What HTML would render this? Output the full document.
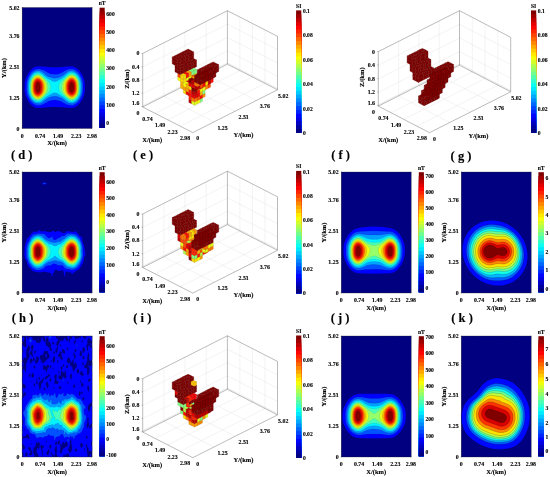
<!DOCTYPE html>
<html><head><meta charset="utf-8"><title>figure</title><style>html,body{margin:0;padding:0;background:#fff}svg{display:block}text{stroke:#000;stroke-width:.12px}</style></head><body>
<svg width="550" height="477" viewBox="0 0 550 477" font-family="'Liberation Serif',serif" font-weight="bold" fill="#000">
<rect width="550" height="477" fill="#fff"/>
<g transform="translate(22.1,7.5)">
<rect x="0" y="0" width="70.0" height="121.0" fill="#000080"/>
<path d="M14.1 59.0 15.5 58.8 18 58.8 27 59.6 33 59.8 39 59.6 47 58.8 50 58.8 51 59.0 52 59.2 53.5 59.9 55.5 61.3 57.2 63.0 58.8 65.0 60.3 67.5 61.4 70.0 62.2 72.5 62.7 75.0 62.9 77.5 62.9 82.0 62.6 85.0 62.1 87.5 61.2 90.0 59.7 93.0 58.3 95.0 56.5 97.2 54.5 98.9 53 99.8 52 100.2 51 100.4 49.5 100.6 47.5 100.6 38.5 99.8 32.5 99.6 26.5 99.8 18 100.6 15 100.6 13.5 100.2 12.5 99.9 11.5 99.3 10 98.3 8.2 96.5 6.6 94.5 5.1 92.0 3.7 89.0 3.1 87.0 2.6 84.5 2.4 81.5 2.5 77.0 2.7 74.0 3.3 71.5 4.3 69.0 5.6 66.5 7.3 64.0 9 62.0 10.5 60.8 12 59.8 13 59.3 14 59.0Z" fill="#0000ff" stroke="#000" stroke-opacity="0.4" stroke-width="0.2" fill-rule="evenodd"/>
<path d="M13.3 62.0 14.5 61.7 16 61.5 17.5 61.6 19 61.9 20 62.2 21.5 62.8 25.5 65.1 27.4 66.0 29.5 66.6 32 66.8 33.5 66.8 35 66.7 37.5 66.1 39.5 65.3 43 63.2 44.5 62.5 46.5 61.8 48 61.6 50 61.5 51.5 61.8 52.5 62.2 53.5 62.7 55.1 64.0 56 64.8 57 66.0 58.3 68.0 59.3 70.0 60.2 72.5 60.6 74.5 60.9 77.0 60.9 80.5 60.8 83.5 60.4 86.0 59.8 88.0 59 90.0 57.9 92.0 56.5 94.0 55 95.5 53.5 96.6 52 97.4 51 97.7 49.5 97.9 47.5 97.8 46 97.4 43.6 96.5 40 94.4 38.1 93.5 36 92.9 33.5 92.6 32 92.6 30.5 92.7 29 93.0 27.5 93.4 26 94.0 22.6 96.0 21 96.8 19.5 97.4 17.5 97.8 15.5 97.9 14.5 97.7 13.5 97.5 12 96.8 11 96.1 10 95.3 8.4 93.5 7.1 91.5 5.8 89.0 5.1 87.0 4.7 85.0 4.4 82.5 4.4 78.5 4.6 75.5 4.9 73.5 5.4 71.5 6.2 69.5 7.6 67.0 8.7 65.5 10 64.1 11.5 62.9 13 62.1Z" fill="#0051ff" stroke="#000" stroke-opacity="0.4" stroke-width="0.2" fill-rule="evenodd"/>
<path d="M14.4 63.5 15.5 63.3 16.5 63.4 18 63.6 19 64.0 20.5 64.8 24 67.7 26 69.0 27.5 69.6 29 70.1 30.5 70.5 32 70.7 33.5 70.7 35 70.5 37 69.9 39 69.1 41 67.9 45 64.7 46 64.1 47.5 63.6 48.5 63.4 49.5 63.3 51 63.5 52 63.8 53 64.4 54.5 65.5 55.9 67.0 57.3 69.0 58.3 71.0 59 73.0 59.4 75.0 59.6 77.5 59.6 81.0 59.4 84.0 59.1 86.0 58.4 88.0 57.5 90.0 56.5 91.6 55.4 93.0 54 94.4 52.5 95.3 51 95.9 50 96.0 49 96.1 47.5 95.8 46.5 95.5 44.7 94.5 41 91.5 39.4 90.5 38 89.9 36 89.2 34.5 88.8 33 88.7 31.5 88.7 30 89.0 28.3 89.5 26.5 90.2 24.3 91.5 21.3 94.0 20 94.9 19 95.4 17.5 95.9 16.5 96.0 15.5 96.1 14 95.8 12.5 95.2 11 94.1 9.5 92.6 8.4 91.0 7.3 89.0 6.4 86.5 6 84.5 5.8 82.5 5.7 79.0 5.8 76.0 6.1 74.0 6.7 72.0 7.5 70.0 8.7 68.0 9.8 66.5 11 65.3 12.5 64.2 14 63.6Z" fill="#00a2ff" stroke="#000" stroke-opacity="0.4" stroke-width="0.2" fill-rule="evenodd"/>
<path d="M14.2 65.0 15.5 64.8 16.5 64.8 17.5 65.0 18.5 65.4 20 66.4 23.5 69.4 26 71.2 28.5 72.6 30.5 73.7 31.5 74.0 32.5 74.2 33.5 74.1 34.5 73.8 36.5 72.8 39 71.4 41.5 69.7 45.5 66.2 46.5 65.6 47.5 65.1 49 64.8 50.5 64.9 52 65.3 53.5 66.3 54.8 67.5 56 69.0 57.1 71.0 57.8 73.0 58.3 75.0 58.5 77.0 58.5 80.5 58.4 83.5 58.1 85.5 57.7 87.0 56.8 89.0 55.9 90.5 54.7 92.0 53.5 93.1 52.5 93.8 51 94.4 49.5 94.6 48.5 94.6 47.5 94.3 46.5 93.8 45 92.8 41.5 89.7 39.5 88.4 37 86.9 35 85.8 34 85.4 33 85.2 32 85.3 30.5 85.7 26.5 87.9 25 88.9 23.5 90.0 20 93.0 19 93.7 18 94.2 16.5 94.6 15 94.6 13.5 94.2 12.5 93.6 11.6 93.0 10.1 91.5 9.1 90.0 8.3 88.5 7.5 86.5 7 84.5 6.8 82.5 6.8 79.5 6.9 76.5 7.1 74.5 7.5 73.0 8.2 71.0 9 69.5 10.1 68.0 11.5 66.5 12.5 65.8 14 65.1Z" fill="#00f3ff" stroke="#000" stroke-opacity="0.4" stroke-width="0.2" fill-rule="evenodd"/>
<path d="M13.6 66.5 15 66.1 16.5 66.1 18 66.5 19.5 67.5 25 72.5 26.5 74.0 27.3 75.0 27.8 76.0 28.2 77.0 28.4 78.0 28.6 80.0 28.4 81.5 28 83.0 27.2 84.5 26.4 85.5 25.4 86.5 20.5 91.1 19 92.3 17.7 93.0 16.5 93.3 15 93.3 13.5 92.8 12 91.9 10.5 90.3 9.3 88.5 8.5 86.5 8 84.5 7.7 81.5 7.7 77.5 7.9 75.0 8.4 73.0 9.3 71.0 10.5 69.1 12 67.5 13.5 66.6ZM47.4 66.5 48 66.3 49 66.1 50.5 66.1 52 66.6 53.5 67.7 55 69.3 56 71.0 56.9 73.0 57.4 75.0 57.6 78.0 57.6 82.0 57.3 84.5 56.9 86.5 56 88.5 55 90.1 53.5 91.7 52 92.8 50.5 93.3 49 93.4 47.5 92.9 46 92.1 40.4 87.0 38.9 85.5 38.1 84.5 37.5 83.5 37.1 82.5 36.9 81.5 36.7 80.0 36.8 78.0 37.2 76.5 38 75.0 38.8 74.0 40.3 72.5 45.2 68.0 46 67.3 47 66.7Z" fill="#45ffba" stroke="#000" stroke-opacity="0.4" stroke-width="0.2" fill-rule="evenodd"/>
<path d="M14.1 67.5 15.5 67.2 16.5 67.2 17 67.4 18.5 68.1 20 69.3 22.7 72.0 24.3 74.0 24.9 75.0 25.3 76.0 25.7 78.0 25.8 80.0 25.6 82.0 25.3 83.5 24.5 85.0 23 87.0 20.1 90.0 18.5 91.3 17 92.0 16.5 92.2 15.5 92.2 14 91.9 12.5 91.0 11.5 90.1 10.3 88.5 9.5 87.0 9 85.5 8.7 83.5 8.5 80.5 8.6 77.0 8.8 75.0 9.3 73.0 10.3 71.0 11.3 69.5 12.5 68.4 14 67.5ZM47.9 67.5 49 67.2 50.5 67.3 52 67.9 53.5 69.0 54.7 70.5 55.6 72.0 56.2 73.5 56.6 75.5 56.8 78.0 56.8 81.5 56.6 84.0 56.1 86.0 55.3 88.0 54.3 89.5 53 90.8 51.5 91.8 50 92.2 49 92.2 48.5 92.1 47.5 91.7 46 90.7 43.6 88.5 41.4 86.0 40.8 85.0 40.2 84.0 39.9 83.0 39.7 82.0 39.5 80.0 39.6 77.5 40 76.0 40.7 74.5 41.7 73.0 44 70.5 46 68.7 47.5 67.7Z" fill="#96ff69" stroke="#000" stroke-opacity="0.4" stroke-width="0.2" fill-rule="evenodd"/>
<path d="M14.4 68.5 15.5 68.3 16.5 68.4 17 68.5 18.5 69.3 20 70.5 21.7 72.5 22.7 74.0 23.4 75.5 23.9 77.5 24 80.0 23.9 82.0 23.6 83.5 23 85.0 21.7 87.0 20 88.9 18.5 90.1 17 90.9 16 91.1 15.5 91.1 14.5 90.9 13.5 90.5 12.2 89.5 11.3 88.5 10.4 87.0 9.9 85.5 9.4 83.5 9.3 81.0 9.3 78.0 9.4 76.0 9.8 74.0 10.5 72.3 11.5 70.7 12.7 69.5 14 68.7ZM48.3 68.5 49.5 68.3 50.5 68.4 51.9 69.0 53 69.8 54 71.0 54.9 72.5 55.5 74.0 55.9 76.0 56 78.5 56 82.0 55.8 84.0 55.3 86.0 54.5 87.7 53.5 89.1 52.5 90.0 51.8 90.5 51 90.9 49.5 91.1 48.5 91.0 47 90.3 45.5 89.1 43.6 87.0 42.6 85.5 41.9 84.0 41.4 82.0 41.3 80.0 41.4 77.5 41.7 76.0 42.3 74.5 43.2 73.0 45 70.8 46.5 69.5 48 68.6Z" fill="#e8ff17" stroke="#000" stroke-opacity="0.4" stroke-width="0.2" fill-rule="evenodd"/>
<path d="M14.7 69.5 16 69.4 17 69.6 17.9 70.0 18.5 70.4 19.7 71.5 20.9 73.0 21.7 74.5 22.3 76.0 22.6 78.0 22.7 80.0 22.5 82.0 22.2 83.5 21.7 85.0 21.2 86.0 20.5 87.0 19.1 88.5 17.7 89.5 16.5 90.0 15.5 90.0 14.5 89.8 14 89.6 13 89.0 12 88.0 11.3 87.0 10.7 85.5 10.3 84.0 10.1 82.5 10 80.0 10.1 77.5 10.3 75.5 10.6 74.0 11.3 72.5 12 71.4 13 70.4 13.6 70.0 14.5 69.6ZM48.5 69.5 49.5 69.3 50.5 69.5 51 69.6 52 70.2 52.9 71.0 53.7 72.0 54.3 73.0 54.8 74.5 55.1 76.0 55.3 78.0 55.3 81.0 55.1 83.0 54.8 85.0 54.2 86.5 53.3 88.0 52.3 89.0 51 89.8 50.5 89.9 49.5 90.1 48.5 89.9 47.5 89.5 46.2 88.5 44.8 87.0 43.9 85.5 43.2 84.0 42.8 82.5 42.7 80.5 42.7 78.0 42.9 76.5 43.3 75.0 44.1 73.5 45.2 72.0 46.5 70.7 48 69.7Z" fill="#ffc500" stroke="#000" stroke-opacity="0.4" stroke-width="0.2" fill-rule="evenodd"/>
<path d="M15 70.5 16 70.4 17 70.7 18 71.2 19.4 72.5 20.1 73.5 20.8 75.0 21.3 76.5 21.4 78.0 21.5 80.0 21.4 82.0 21.1 83.5 20.6 85.0 19.7 86.5 18.8 87.5 17.5 88.5 16.5 88.9 15.5 89.0 14.5 88.8 13.5 88.2 12.8 87.5 12 86.5 11.5 85.4 11.1 84.0 10.9 82.5 10.8 80.0 10.8 77.5 11 76.0 11.3 74.5 12 73.0 12.5 72.2 13.5 71.2 14.5 70.6ZM48.8 70.5 50 70.4 51 70.7 52 71.4 52.6 72.0 53.3 73.0 53.8 74.0 54.2 75.5 54.4 77.0 54.5 79.0 54.5 81.6 54.3 83.5 53.9 85.0 53.3 86.5 52.5 87.6 51.5 88.4 50.5 88.9 49.5 89.0 48.5 88.8 47.5 88.3 46.5 87.5 45.5 86.3 44.7 85.0 44.2 83.5 43.9 82.0 43.8 80.0 43.9 78.0 44.1 76.5 44.5 75.0 45.2 73.5 46 72.4 47 71.4 47.6 71.0 48.5 70.6Z" fill="#ff7400" stroke="#000" stroke-opacity="0.4" stroke-width="0.2" fill-rule="evenodd"/>
<path d="M14.1 72.0 15 71.6 16 71.5 17 71.8 17.5 72.1 18.5 72.9 19.3 74.0 19.8 75.0 20.2 76.5 20.4 78.0 20.5 80.0 20.3 82.0 20.1 83.5 19.5 85.0 19 85.8 18.5 86.5 17.5 87.3 17 87.6 16 87.9 15 87.8 14 87.3 13.5 86.9 12.8 86.0 12.3 85.0 11.9 84.0 11.7 82.5 11.5 80.5 11.6 78.0 11.8 76.0 12 75.0 12.5 73.9 13 73.0 14 72.1ZM47.9 72.0 48.5 71.7 49.5 71.5 50.5 71.7 51.2 72.0 52 72.7 52.5 73.3 53 74.3 53.4 75.5 53.6 77.0 53.8 79.0 53.7 81.0 53.6 83.0 53.2 84.5 52.8 85.5 52.2 86.5 51.5 87.2 51 87.5 50 87.8 49 87.8 48 87.5 47 86.7 46.4 86.0 45.8 85.0 45.2 83.5 45 82.0 44.8 80.0 44.9 78.0 45.1 76.5 45.5 75.0 46 74.0 46.8 73.0 47.5 72.3Z" fill="#ff2300" stroke="#000" stroke-opacity="0.4" stroke-width="0.2" fill-rule="evenodd"/>
<path d="M14.8 73.0 15.5 72.8 16 72.8 16.8 73.0 17.5 73.5 18 74.0 18.6 75.0 19 76.0 19.2 77.0 19.4 78.5 19.4 80.0 19.3 81.5 19.1 83.0 18.8 84.0 18.3 85.0 17.5 85.9 17 86.3 16.5 86.5 15.5 86.6 15 86.5 14.2 86.0 13.5 85.3 13.1 84.5 12.6 83.0 12.4 81.5 12.4 80.0 12.4 78.0 12.6 76.5 12.9 75.5 13.3 74.5 14 73.5 14.5 73.1ZM48.5 73.0 49.5 72.8 50 72.8 50.6 73.0 51.3 73.5 51.7 74.0 52.3 75.0 52.6 76.0 52.8 77.0 52.9 78.5 52.9 80.5 52.8 82.0 52.6 83.5 52.2 84.5 51.6 85.5 51 86.1 50.5 86.4 50 86.6 49 86.6 48 86.1 47.5 85.6 47 85.0 46.5 84.0 46 82.0 45.9 80.5 45.9 78.5 46.1 77.0 46.3 76.0 46.7 75.0 47.3 74.0 48 73.3 48.5 73.0Z" fill="#d10000" stroke="#000" stroke-opacity="0.4" stroke-width="0.2" fill-rule="evenodd"/>
<path d="M15.3 74.5 16 74.4 16.5 74.6 17 75.0 17.6 76.0 18 77.0 18.1 78.0 18.2 80.5 17.9 82.5 17.6 83.5 17.3 84.0 17 84.4 16.5 84.8 16 85.0 15.5 85.0 15 84.8 14.6 84.5 14 83.5 13.6 82.0 13.4 79.5 13.5 78.0 13.7 77.0 13.9 76.0 14.2 75.5 14.5 75.0 15 74.6ZM49 74.5 49.5 74.4 50 74.5 50.7 75.0 51.4 76.0 51.7 77.5 51.9 80.0 51.7 82.0 51.3 83.5 51 84.1 50.5 84.6 50 84.9 49.5 85.0 49 84.9 48.5 84.6 48 84.0 47.7 83.5 47.3 82.0 47.1 80.0 47.2 77.5 47.7 76.0 48 75.4 48.5 74.8Z" fill="#800000" stroke="#000" stroke-opacity="0.4" stroke-width="0.2" fill-rule="evenodd"/>
</g>
<rect x="22.1" y="7.5" width="70.0" height="121.0" fill="none" stroke="#222" stroke-width="0.3"/>
<path d="M22.1 128.5v-1M22.1 7.5v1" stroke="#333" stroke-width="0.3"/>
<text x="22.1" y="137.9" font-size="5.85" text-anchor="middle">0</text>
<path d="M40.0 128.5v-1M40.0 7.5v1" stroke="#333" stroke-width="0.3"/>
<text x="40.0" y="137.9" font-size="5.85" text-anchor="middle">0.74</text>
<path d="M58.1 128.5v-1M58.1 7.5v1" stroke="#333" stroke-width="0.3"/>
<text x="58.1" y="137.9" font-size="5.85" text-anchor="middle">1.49</text>
<path d="M76.2 128.5v-1M76.2 7.5v1" stroke="#333" stroke-width="0.3"/>
<text x="76.2" y="137.9" font-size="5.85" text-anchor="middle">2.23</text>
<path d="M91.8 128.5v-1M91.8 7.5v1" stroke="#333" stroke-width="0.3"/>
<text x="91.8" y="137.9" font-size="5.85" text-anchor="middle">2.98</text>
<path d="M22.1 128.5h1M92.1 128.5h-1" stroke="#333" stroke-width="0.3"/>
<text x="19.5" y="130.9" font-size="5.85" text-anchor="end">0</text>
<path d="M22.1 97.5h1M92.1 97.5h-1" stroke="#333" stroke-width="0.3"/>
<text x="19.5" y="99.9" font-size="5.85" text-anchor="end">1.25</text>
<path d="M22.1 66.1h1M92.1 66.1h-1" stroke="#333" stroke-width="0.3"/>
<text x="19.5" y="68.5" font-size="5.85" text-anchor="end">2.51</text>
<path d="M22.1 35.2h1M92.1 35.2h-1" stroke="#333" stroke-width="0.3"/>
<text x="19.5" y="37.6" font-size="5.85" text-anchor="end">3.76</text>
<path d="M22.1 7.5h1M92.1 7.5h-1" stroke="#333" stroke-width="0.3"/>
<text x="19.5" y="9.9" font-size="5.85" text-anchor="end">5.02</text>
<text x="57.1" y="145.1" font-size="6.5" text-anchor="middle">X/(km)</text>
<text x="6.4" y="68.0" font-size="6.5" text-anchor="middle" transform="rotate(-90 6.4 68.0)">Y/(km)</text>
<rect x="99.6" y="7.70" width="5.1" height="120.00" fill="#800000"/>
<rect x="99.6" y="11.45" width="5.1" height="116.25" fill="#a00000"/>
<rect x="99.6" y="15.20" width="5.1" height="112.50" fill="#c10000"/>
<rect x="99.6" y="18.95" width="5.1" height="108.75" fill="#e20000"/>
<rect x="99.6" y="22.70" width="5.1" height="105.00" fill="#ff0400"/>
<rect x="99.6" y="26.45" width="5.1" height="101.25" fill="#ff2500"/>
<rect x="99.6" y="30.20" width="5.1" height="97.50" fill="#ff4600"/>
<rect x="99.6" y="33.95" width="5.1" height="93.75" fill="#ff6700"/>
<rect x="99.6" y="37.70" width="5.1" height="90.00" fill="#ff8800"/>
<rect x="99.6" y="41.45" width="5.1" height="86.25" fill="#ffa900"/>
<rect x="99.6" y="45.20" width="5.1" height="82.50" fill="#ffca00"/>
<rect x="99.6" y="48.95" width="5.1" height="78.75" fill="#ffea00"/>
<rect x="99.6" y="52.70" width="5.1" height="75.00" fill="#f3ff0c"/>
<rect x="99.6" y="56.45" width="5.1" height="71.25" fill="#d2ff2d"/>
<rect x="99.6" y="60.20" width="5.1" height="67.50" fill="#b1ff4e"/>
<rect x="99.6" y="63.95" width="5.1" height="63.75" fill="#90ff6f"/>
<rect x="99.6" y="67.70" width="5.1" height="60.00" fill="#6fff90"/>
<rect x="99.6" y="71.45" width="5.1" height="56.25" fill="#4effb1"/>
<rect x="99.6" y="75.20" width="5.1" height="52.50" fill="#2dffd2"/>
<rect x="99.6" y="78.95" width="5.1" height="48.75" fill="#0cfff3"/>
<rect x="99.6" y="82.70" width="5.1" height="45.00" fill="#00eaff"/>
<rect x="99.6" y="86.45" width="5.1" height="41.25" fill="#00caff"/>
<rect x="99.6" y="90.20" width="5.1" height="37.50" fill="#00a9ff"/>
<rect x="99.6" y="93.95" width="5.1" height="33.75" fill="#0088ff"/>
<rect x="99.6" y="97.70" width="5.1" height="30.00" fill="#0067ff"/>
<rect x="99.6" y="101.45" width="5.1" height="26.25" fill="#0046ff"/>
<rect x="99.6" y="105.20" width="5.1" height="22.50" fill="#0025ff"/>
<rect x="99.6" y="108.95" width="5.1" height="18.75" fill="#0004ff"/>
<rect x="99.6" y="112.70" width="5.1" height="15.00" fill="#0000e2"/>
<rect x="99.6" y="116.45" width="5.1" height="11.25" fill="#0000c1"/>
<rect x="99.6" y="120.20" width="5.1" height="7.50" fill="#0000a0"/>
<rect x="99.6" y="123.95" width="5.1" height="3.75" fill="#000080"/>
<text x="106.3" y="15.7" font-size="5.6" text-anchor="start">600</text>
<text x="106.3" y="33.9" font-size="5.6" text-anchor="start">500</text>
<text x="106.3" y="52.2" font-size="5.6" text-anchor="start">400</text>
<text x="106.3" y="70.4" font-size="5.6" text-anchor="start">300</text>
<text x="106.3" y="88.7" font-size="5.6" text-anchor="start">200</text>
<text x="106.3" y="106.9" font-size="5.6" text-anchor="start">100</text>
<text x="106.3" y="125.1" font-size="5.6" text-anchor="start">0</text>
<text x="102.1" y="5.1" font-size="5.6" text-anchor="middle">nT</text>
<g transform="translate(22.1,172.0)">
<rect x="0" y="0" width="70.0" height="121.0" fill="#000080"/>
<path d="M21.2 10.5 22 10.4 22.5 10.4 23.5 10.6 24.3 11.0 24.7 11.5 24.6 12.0 24 12.4 23.5 12.6 22.5 12.7 21.5 12.6 21 12.5 20.2 12.0 20 11.5 20.2 11.0 21 10.5ZM55.7 20.5 56 20.2 56.3 20.5 56.3 21.0 56 21.4 55.7 21.0ZM16 58.5 16.5 58.1 17 58.0 17.5 58.2 19 59.3 19.5 59.5 20 59.5 21.5 59.0 22.5 58.9 26 59.9 27.5 60.2 28 60.2 28.5 60.0 30.5 59.0 31 58.9 31.5 59.0 33 59.7 33.5 59.9 34 59.7 35.5 58.9 36 58.8 38.5 59.8 40.5 60.8 41.5 61.0 42 61.0 43 60.7 43.5 60.4 45 59.1 45.5 59.1 47 59.5 47.5 59.5 48.5 59.4 49 59.4 50.5 59.9 51 59.9 51.5 59.8 52.5 59.3 53 59.2 53.5 59.3 54 59.5 55.5 61.2 56.4 62.5 57 63.3 58 64.1 59.5 65.0 59.9 65.5 60.1 66.0 60.3 68.0 60.6 69.5 61 70.9 61.7 72.5 62.5 76.0 62.7 77.0 62.7 79.0 63.3 81.0 63.4 81.5 63.3 82.5 63.2 83.0 62.5 84.4 62.1 85.5 61.8 88.5 61.2 90.5 60.8 91.5 60.2 92.5 57.5 96.9 57 97.4 56.5 97.8 55.5 98.1 54.5 98.6 51.5 101.1 51 101.5 50.5 101.7 50 101.7 49.6 101.5 48.5 100.6 48 100.4 46.5 100.2 45 99.6 44.5 99.6 44 99.8 43.5 100.9 43 103.8 42.5 105.2 42 103.7 41.5 100.1 41 98.8 40.5 98.4 40 98.3 38.2 99.0 37.5 99.1 37 99.1 36 98.8 34 97.8 33.5 97.8 33 97.9 32.6 98.5 32.2 100.0 31.8 100.5 31.5 100.8 31 101.6 30 105.1 29.5 104.2 29 102.0 28.8 101.5 28.5 101.0 28 100.7 26.5 100.7 26 100.7 24.5 100.2 22 99.7 21.5 99.7 20 100.3 18.5 100.2 16.5 100.5 11.5 99.4 11 99.2 9.9 98.5 9.4 98.0 8.5 96.9 6.9 95.5 6.5 95.0 6 94.0 5.4 92.5 4.4 89.0 2.7 86.0 2.5 85.0 2.1 82.0 2.1 81.5 2.5 79.5 2.3 77.5 2.6 74.5 4.3 68.5 4.5 67.0 4.8 66.5 6 65.6 6.5 65.1 7 64.5 8 62.7 9.5 61.4 10.5 60.4 11.5 59.6 12 59.4 12.5 59.4 14 60.1 14.5 60.0 15 59.7 15.6 59.0Z" fill="#0000ff" stroke="#000" stroke-opacity="0.4" stroke-width="0.2" fill-rule="evenodd"/>
<path d="M21.8 11.0 22.7 11.0 23 11.1 23.7 11.5 23.4 12.0 23 12.1 22 12.2 21.4 12.0 21 11.5 21.5 11.1ZM16.1 61.5 16.5 61.4 18 61.7 22.1 62.0 22.8 62.5 23.5 63.6 24.5 64.4 25.4 65.5 26 66.0 26.5 66.1 27 66.0 28 65.8 29 65.4 30 64.5 30.5 64.5 30.7 65.0 30.6 66.5 30.8 67.0 31.5 67.5 32.5 67.9 33 67.9 33.5 67.8 34 67.5 36 66.0 38 65.5 39.1 64.5 39.8 64.0 40.5 63.9 42 63.9 42.5 63.7 44.5 62.0 45.5 61.5 46 61.5 47.5 61.8 49 61.6 49.5 61.7 51 62.0 53 62.2 53.5 62.4 54.5 63.0 57 65.6 57.5 66.2 58 67.0 59.5 70.4 60.1 72.5 60.6 75.0 60.8 76.5 60.6 79.0 61 81.5 61 82.5 60.9 83.5 60.4 86.0 60.2 87.0 58.4 91.5 57.5 93.2 56.5 94.7 55.7 95.5 53 97.2 50 98.0 49 97.9 47 97.3 45 97.2 43 96.3 42.5 95.9 41 94.0 40.5 93.6 40 93.3 39.5 93.3 38 93.6 37.5 93.5 35.5 92.9 33.5 92.0 32 91.8 31 91.8 30.5 91.9 29 93.2 28.5 93.5 28 93.6 26.5 93.6 24 94.1 23.3 94.5 22.2 96.0 21.5 96.5 19.2 97.5 17.5 98.0 15 98.1 14 97.9 12 96.9 10.8 96.5 10 95.8 6.5 91.3 6 90.0 5.4 88.0 4.6 86.0 4.4 85.0 4.3 81.5 4.4 79.5 4.2 77.5 4.3 76.0 5.2 72.0 5.7 71.0 6.9 69.0 7.8 66.5 8.5 65.5 11 62.8 11.5 62.4 12 62.2 14 62.2 16 61.5Z" fill="#0051ff" stroke="#000" stroke-opacity="0.4" stroke-width="0.2" fill-rule="evenodd"/>
<path d="M14.5 63.5 15.5 63.2 16.5 63.2 19.5 63.8 20 64.0 20.6 64.5 22.3 66.5 23 67.2 24.5 68.3 25.5 68.7 27.5 69.4 28.8 70.0 29.5 70.2 33 70.8 34 70.6 36 69.8 38 69.5 38.5 69.4 39.1 69.0 40.5 67.7 42.5 66.4 44.5 64.7 45.5 64.1 48 63.3 49 63.2 49.5 63.2 52 63.8 53 64.2 54.5 65.3 56.1 67.0 57 68.1 58.3 70.5 58.9 72.0 59.5 75.5 59.3 79.0 59.6 83.5 59.4 85.0 58.8 87.0 58 89.2 57 91.2 56.4 92.0 54 94.7 53.1 95.5 52.5 95.8 51 96.1 50 96.2 47 95.6 45.5 95.2 45 95.0 44.4 94.5 42.5 92.7 41 91.1 40.5 90.7 38 89.6 36.5 89.5 35 88.8 33 88.4 32.5 88.5 31.5 88.8 30 88.9 28 89.7 26.7 90.0 26 90.3 22.5 92.6 21 94.3 20.5 94.7 19.5 95.2 17.5 95.9 15.5 96.2 14.5 96.2 13.5 95.8 11.3 94.5 10.5 93.7 8.2 91.0 7.6 90.0 7.2 89.0 6.2 86.0 5.9 84.5 5.7 82.0 5.7 79.5 5.6 77.0 5.8 76.0 6.7 72.0 9 67.5 9.5 66.8 11.5 64.7 12 64.4 12.8 64.0 14.5 63.5Z" fill="#00a2ff" stroke="#000" stroke-opacity="0.4" stroke-width="0.2" fill-rule="evenodd"/>
<path d="M14.2 65.0 15 64.7 16 64.6 17 64.8 18.5 65.4 20 66.3 22.5 68.7 23.5 69.5 25.5 70.7 27 71.9 27.5 72.2 29.5 72.6 30.3 73.0 31.5 73.8 33 73.9 34 73.9 34.5 73.7 36.5 72.4 38.5 71.9 39 71.6 41.5 69.8 43.7 67.5 45 66.4 47 65.2 48 64.8 49 64.6 51 64.9 52.5 65.5 53.5 66.1 54.5 67.0 56.4 69.5 57.3 71.0 57.7 72.0 58.4 75.0 58.5 76.0 58.4 79.0 58.5 83.5 58.4 84.5 58.1 86.0 57.5 87.8 56.9 89.0 55.9 90.5 54 92.7 53 93.8 52 94.5 51 94.8 50 94.8 47.5 94.3 46.5 94.0 45 92.9 42.8 91.0 41.5 89.6 41 89.3 36.3 86.5 34.9 85.5 33.5 84.3 33 84.0 32.5 84.0 32 84.4 31 85.5 29 86.6 28 87.4 25 88.7 22 91.2 20.5 92.7 19.5 93.4 17 94.4 15.5 94.7 14.5 94.6 14 94.5 13 94.0 12 93.4 11 92.5 9 90.2 8.4 89.0 7.8 87.5 6.9 84.5 6.7 83.0 6.7 81.5 6.8 77.0 7.2 74.0 7.6 72.5 8 71.5 9.5 68.8 10.1 68.0 11.5 66.7 12.5 65.9 14 65.1Z" fill="#00f3ff" stroke="#000" stroke-opacity="0.4" stroke-width="0.2" fill-rule="evenodd"/>
<path d="M15.1 66.0 16 65.9 16.5 66.0 17.5 66.4 19 67.2 20 68.0 23 70.8 25 72.5 26 73.5 26.7 74.5 28.3 77.5 28.6 78.5 28.5 79.5 27.7 82.5 26.6 85.0 26 86.0 24 87.6 20 91.4 19 92.1 17.5 92.8 16 93.3 14.5 93.3 14 93.2 13 92.8 12 92.0 9.8 89.5 9 88.1 8.4 86.5 7.8 84.0 7.6 82.5 7.8 76.0 8 74.0 8.4 72.5 9.9 70.0 11 68.6 12 67.7 13 67.0 14 66.4 15 66.0ZM47.4 66.5 48 66.2 49 66.0 50.5 66.2 52 66.6 53 67.2 53.5 67.6 55.5 70.0 56.4 71.5 56.9 73.0 57.6 76.0 57.7 77.0 57.6 83.5 57.4 85.0 57 86.5 56.6 87.5 56 88.5 54.5 90.7 53 92.2 52 93.0 51.5 93.2 51 93.4 50 93.5 48 93.1 47 92.8 45.8 92.0 44.3 90.5 43 89.5 41.5 88.0 39.5 86.5 38.1 85.0 37.7 84.5 37.2 83.5 36.1 80.5 36.1 79.5 36.3 78.0 36.6 77.0 37.1 76.0 37.6 75.5 39.5 73.8 40.7 72.5 42.5 70.7 44.5 68.4 45.5 67.6 47 66.7Z" fill="#45ffba" stroke="#000" stroke-opacity="0.4" stroke-width="0.2" fill-rule="evenodd"/>
<path d="M14.3 67.5 15.5 67.2 16.5 67.3 18 67.9 19.5 68.9 22 71.2 24.9 74.5 25.4 75.5 25.8 77.0 25.8 79.0 25.6 81.5 25.1 83.5 24.5 85.0 23.3 86.5 20.5 89.6 19 90.8 17 91.9 16 92.2 15.5 92.3 14.5 92.2 13.5 91.9 12.3 91.0 10.6 89.0 9.7 87.5 9 85.5 8.6 83.5 8.4 81.5 8.5 76.5 8.7 75.0 9 73.5 9.7 72.0 11 70.1 12.5 68.6 14 67.6ZM48 67.5 48.5 67.3 49.5 67.3 51 67.5 52.5 68.2 53.5 69.0 54.8 70.5 55.6 72.0 56.2 73.5 56.8 76.0 56.9 77.5 56.8 81.5 56.6 84.5 56.2 86.0 55.3 88.0 54 89.9 53 90.9 51.5 91.9 50.5 92.2 49 92.1 48 91.9 47 91.5 46 90.8 44.8 89.5 43.1 88.0 40.8 85.5 40.4 85.0 40 84.0 39.4 80.5 39.3 79.0 39.6 77.5 40.1 76.0 40.9 74.5 42.4 72.5 44.9 69.5 46 68.5 47.5 67.7Z" fill="#96ff69" stroke="#000" stroke-opacity="0.4" stroke-width="0.2" fill-rule="evenodd"/>
<path d="M14.6 68.5 15.5 68.3 16 68.3 17 68.6 18.5 69.3 19.9 70.5 21.5 72.1 23.2 74.5 24 76.0 24.3 77.5 24.2 79.5 24 81.5 23.5 83.5 22.9 85.0 21.6 87.0 19.8 89.0 18 90.3 16.5 91.1 15.5 91.2 14.5 91.1 14 90.9 13 90.3 12 89.3 10.9 88.0 10.1 86.5 9.6 85.0 9.3 83.0 9.3 76.5 9.5 75.0 9.7 74.0 10.4 72.5 11.5 70.9 13 69.4 14.5 68.5ZM48.4 68.5 49.5 68.3 51 68.6 52.5 69.4 53.5 70.3 54.5 71.5 55 72.5 55.6 74.5 56 76.5 56.1 79.5 56.1 81.5 55.8 84.0 55.3 86.0 54.4 88.0 53.5 89.2 52.5 90.1 51 90.8 50 91.1 49 91.0 47.5 90.6 46.5 89.9 44 87.5 42.9 86.0 42.2 85.0 41.7 84.0 41.3 82.0 41.1 80.5 41.3 79.0 41.8 76.0 42.4 74.5 43.2 73.0 45.1 70.5 46.5 69.4 48 68.6Z" fill="#e8ff17" stroke="#000" stroke-opacity="0.4" stroke-width="0.2" fill-rule="evenodd"/>
<path d="M14.9 69.5 16 69.4 17.5 69.8 18.5 70.4 19.7 71.5 20.9 73.0 21.8 74.5 22.4 76.0 22.8 78.0 22.8 80.0 22.6 81.5 22 84.0 21.4 85.5 20.4 87.0 19 88.5 17.5 89.6 16.5 90.0 15.5 90.2 14.5 90.0 13.5 89.5 12.5 88.6 11.5 87.3 10.7 86.0 10.4 85.0 10.2 83.5 10 77.0 10.2 75.5 10.4 74.5 11.1 73.0 12.1 71.5 13.1 70.5 14.5 69.6ZM48.6 69.5 49.5 69.4 51 69.7 52.5 70.6 53.4 71.5 54.1 72.5 54.6 74.0 55.1 76.0 55.3 77.5 55.4 80.5 55.2 82.5 54.9 84.5 54.2 86.5 53.5 87.8 53 88.4 52.5 88.9 51 89.7 50 90.0 49 90.0 48 89.7 47.5 89.5 46.8 89.0 44.9 87.0 44.1 86.0 43.2 84.5 42.7 83.0 42.5 81.5 42.5 80.0 42.9 76.5 43.3 75.0 43.7 74.0 44.6 72.5 45.9 71.0 47 70.2 48.5 69.5Z" fill="#ffc500" stroke="#000" stroke-opacity="0.4" stroke-width="0.2" fill-rule="evenodd"/>
<path d="M15.1 70.5 16 70.4 17 70.6 18 71.1 19 72.0 20.1 73.5 20.9 75.0 21.3 76.5 21.5 78.0 21.6 80.0 21.4 81.5 20.9 84.0 20.3 85.5 19.5 86.7 18.5 87.8 17.5 88.5 16.5 88.9 15.5 89.1 14.5 88.8 13.9 88.5 13 87.8 12 86.5 11.4 85.5 11.1 84.5 10.9 83.0 10.8 77.0 10.9 76.0 11.1 75.0 11.8 73.5 12.8 72.0 14 71.0 15 70.5ZM48.8 70.5 49.5 70.4 50 70.5 51 70.8 52 71.4 53 72.4 53.6 73.5 54 74.8 54.3 76.5 54.5 78.5 54.6 80.5 54.5 82.5 54.1 84.5 53.5 86.0 53 87.0 52 88.0 51 88.6 50 89.0 49 89.0 48 88.7 47.1 88.0 45.7 86.5 44.9 85.5 44.2 84.0 43.9 83.0 43.6 81.5 43.8 77.0 44.1 75.5 44.5 74.5 45.3 73.0 46.2 72.0 47.5 71.0 48.5 70.6Z" fill="#ff7400" stroke="#000" stroke-opacity="0.4" stroke-width="0.2" fill-rule="evenodd"/>
<path d="M15.4 71.5 16 71.4 17 71.7 17.6 72.0 18.5 72.9 19.2 74.0 20 75.5 20.2 76.5 20.4 77.5 20.4 80.0 20.3 81.5 20.1 83.0 19.7 84.5 19.2 85.5 18.5 86.5 17.5 87.3 16.5 87.8 15.5 87.9 14.5 87.6 14 87.3 13.2 86.5 12.4 85.5 12 84.5 11.7 82.5 11.6 77.5 11.7 76.0 12 75.0 12.5 73.9 13.1 73.0 14 72.2 15 71.6ZM47.9 72.0 48.5 71.7 49.5 71.6 50.5 71.8 51.5 72.3 52 72.7 52.6 73.5 53 74.4 53.3 75.5 53.6 77.5 53.8 79.5 53.8 81.5 53.6 83.0 53 85.0 52.6 86.0 52 86.7 51 87.5 50 87.9 49.5 88.0 48.5 87.8 48 87.6 47 86.6 46 85.3 45.5 84.5 45 83.0 44.8 81.5 44.7 79.5 44.8 77.5 45 76.0 45.4 75.0 45.9 74.0 46.6 73.0 47.5 72.2Z" fill="#ff2300" stroke="#000" stroke-opacity="0.4" stroke-width="0.2" fill-rule="evenodd"/>
<path d="M14.8 73.0 15.5 72.7 16 72.7 16.5 72.8 17 73.0 17.5 73.4 18 74.0 18.6 75.0 19 76.0 19.2 77.0 19.3 78.5 19.3 80.5 19 83.0 18.7 84.0 18.2 85.0 17.5 85.9 17 86.2 16.5 86.5 15.5 86.5 15 86.4 14.3 86.0 13.5 85.2 13 84.5 12.6 83.0 12.4 80.5 12.4 78.0 12.5 76.5 12.8 75.5 13.2 74.5 14 73.6 14.5 73.2ZM48.5 73.0 49.5 72.8 50 72.9 51 73.4 51.7 74.0 52 74.5 52.4 75.5 52.9 78.5 53 80.0 52.9 81.5 52.7 83.0 52.4 84.0 52 85.0 51.5 85.7 51 86.2 50 86.7 49.5 86.8 49 86.7 48.5 86.5 47.5 85.6 47 84.9 46.5 84.0 46.1 83.0 46 82.0 45.8 80.0 45.8 78.5 46 77.0 46.3 76.0 46.7 75.0 47.3 74.0 48 73.3 48.5 73.0Z" fill="#d10000" stroke="#000" stroke-opacity="0.4" stroke-width="0.2" fill-rule="evenodd"/>
<path d="M15.4 74.5 16 74.5 16.5 74.7 17 75.1 17.3 75.5 17.6 76.0 18 77.0 18.2 78.5 18.1 81.0 18 82.0 17.7 83.0 17.5 83.6 17 84.3 16.5 84.7 16 84.9 15.5 84.9 15 84.7 14.5 84.4 14.2 84.0 13.8 83.0 13.5 81.5 13.4 79.0 13.6 77.0 14 75.7 14.5 75.0 15 74.6ZM48.4 75.0 49 74.6 49.5 74.5 50 74.6 50.5 74.9 51 75.4 51.5 76.5 51.9 78.5 52 80.5 51.7 82.5 51.5 83.2 51 84.2 50.5 84.7 50 85.0 49.5 85.1 49 85.0 48.5 84.7 48 84.1 47.5 83.1 47.1 81.0 47.1 79.0 47.4 77.0 48 75.5Z" fill="#800000" stroke="#000" stroke-opacity="0.4" stroke-width="0.2" fill-rule="evenodd"/>
</g>
<rect x="22.1" y="172.0" width="70.0" height="121.0" fill="none" stroke="#222" stroke-width="0.3"/>
<path d="M22.1 293.0v-1M22.1 172.0v1" stroke="#333" stroke-width="0.3"/>
<text x="22.1" y="302.4" font-size="5.85" text-anchor="middle">0</text>
<path d="M40.0 293.0v-1M40.0 172.0v1" stroke="#333" stroke-width="0.3"/>
<text x="40.0" y="302.4" font-size="5.85" text-anchor="middle">0.74</text>
<path d="M58.1 293.0v-1M58.1 172.0v1" stroke="#333" stroke-width="0.3"/>
<text x="58.1" y="302.4" font-size="5.85" text-anchor="middle">1.49</text>
<path d="M76.2 293.0v-1M76.2 172.0v1" stroke="#333" stroke-width="0.3"/>
<text x="76.2" y="302.4" font-size="5.85" text-anchor="middle">2.23</text>
<path d="M91.8 293.0v-1M91.8 172.0v1" stroke="#333" stroke-width="0.3"/>
<text x="91.8" y="302.4" font-size="5.85" text-anchor="middle">2.98</text>
<path d="M22.1 293.0h1M92.1 293.0h-1" stroke="#333" stroke-width="0.3"/>
<text x="19.5" y="295.4" font-size="5.85" text-anchor="end">0</text>
<path d="M22.1 262.0h1M92.1 262.0h-1" stroke="#333" stroke-width="0.3"/>
<text x="19.5" y="264.4" font-size="5.85" text-anchor="end">1.25</text>
<path d="M22.1 230.6h1M92.1 230.6h-1" stroke="#333" stroke-width="0.3"/>
<text x="19.5" y="233.0" font-size="5.85" text-anchor="end">2.51</text>
<path d="M22.1 199.7h1M92.1 199.7h-1" stroke="#333" stroke-width="0.3"/>
<text x="19.5" y="202.1" font-size="5.85" text-anchor="end">3.76</text>
<path d="M22.1 172.0h1M92.1 172.0h-1" stroke="#333" stroke-width="0.3"/>
<text x="19.5" y="174.4" font-size="5.85" text-anchor="end">5.02</text>
<text x="57.1" y="309.6" font-size="6.5" text-anchor="middle">X/(km)</text>
<text x="6.4" y="232.5" font-size="6.5" text-anchor="middle" transform="rotate(-90 6.4 232.5)">Y/(km)</text>
<rect x="99.6" y="172.20" width="5.1" height="120.00" fill="#800000"/>
<rect x="99.6" y="175.95" width="5.1" height="116.25" fill="#a00000"/>
<rect x="99.6" y="179.70" width="5.1" height="112.50" fill="#c10000"/>
<rect x="99.6" y="183.45" width="5.1" height="108.75" fill="#e20000"/>
<rect x="99.6" y="187.20" width="5.1" height="105.00" fill="#ff0400"/>
<rect x="99.6" y="190.95" width="5.1" height="101.25" fill="#ff2500"/>
<rect x="99.6" y="194.70" width="5.1" height="97.50" fill="#ff4600"/>
<rect x="99.6" y="198.45" width="5.1" height="93.75" fill="#ff6700"/>
<rect x="99.6" y="202.20" width="5.1" height="90.00" fill="#ff8800"/>
<rect x="99.6" y="205.95" width="5.1" height="86.25" fill="#ffa900"/>
<rect x="99.6" y="209.70" width="5.1" height="82.50" fill="#ffca00"/>
<rect x="99.6" y="213.45" width="5.1" height="78.75" fill="#ffea00"/>
<rect x="99.6" y="217.20" width="5.1" height="75.00" fill="#f3ff0c"/>
<rect x="99.6" y="220.95" width="5.1" height="71.25" fill="#d2ff2d"/>
<rect x="99.6" y="224.70" width="5.1" height="67.50" fill="#b1ff4e"/>
<rect x="99.6" y="228.45" width="5.1" height="63.75" fill="#90ff6f"/>
<rect x="99.6" y="232.20" width="5.1" height="60.00" fill="#6fff90"/>
<rect x="99.6" y="235.95" width="5.1" height="56.25" fill="#4effb1"/>
<rect x="99.6" y="239.70" width="5.1" height="52.50" fill="#2dffd2"/>
<rect x="99.6" y="243.45" width="5.1" height="48.75" fill="#0cfff3"/>
<rect x="99.6" y="247.20" width="5.1" height="45.00" fill="#00eaff"/>
<rect x="99.6" y="250.95" width="5.1" height="41.25" fill="#00caff"/>
<rect x="99.6" y="254.70" width="5.1" height="37.50" fill="#00a9ff"/>
<rect x="99.6" y="258.45" width="5.1" height="33.75" fill="#0088ff"/>
<rect x="99.6" y="262.20" width="5.1" height="30.00" fill="#0067ff"/>
<rect x="99.6" y="265.95" width="5.1" height="26.25" fill="#0046ff"/>
<rect x="99.6" y="269.70" width="5.1" height="22.50" fill="#0025ff"/>
<rect x="99.6" y="273.45" width="5.1" height="18.75" fill="#0004ff"/>
<rect x="99.6" y="277.20" width="5.1" height="15.00" fill="#0000e2"/>
<rect x="99.6" y="280.95" width="5.1" height="11.25" fill="#0000c1"/>
<rect x="99.6" y="284.70" width="5.1" height="7.50" fill="#0000a0"/>
<rect x="99.6" y="288.45" width="5.1" height="3.75" fill="#000080"/>
<text x="106.3" y="183.7" font-size="5.6" text-anchor="start">600</text>
<text x="106.3" y="200.3" font-size="5.6" text-anchor="start">500</text>
<text x="106.3" y="216.6" font-size="5.6" text-anchor="start">400</text>
<text x="106.3" y="233.4" font-size="5.6" text-anchor="start">300</text>
<text x="106.3" y="250.3" font-size="5.6" text-anchor="start">200</text>
<text x="106.3" y="267.4" font-size="5.6" text-anchor="start">100</text>
<text x="106.3" y="284.0" font-size="5.6" text-anchor="start">0</text>
<text x="102.1" y="169.6" font-size="5.6" text-anchor="middle">nT</text>
<g transform="translate(22.1,336.0)">
<rect x="0" y="0" width="70.0" height="121.0" fill="#000080"/>
<path d="M2.8 0.0 5.8 0.0 5.6 0.5 5.1 1.0 4.9 1.5 5.5 3.4 6 3.6 6.5 1.8 6.6 1.5 7 1.1 8 1.0 8.5 0.8 9 0.9 9.5 1.1 10.2 1.5 10.4 2.0 11 4.1 11.5 4.3 13 4.0 13.5 4.2 13.9 5.5 14.5 6.3 15.5 6.7 16 7.1 16.5 7.1 17 6.5 17.5 6.8 18 6.6 18.5 5.5 18.8 4.5 19.5 1.4 20 0.5 20.5 1.6 21.2 4.0 22 5.5 22.5 6.0 22.9 5.5 23 4.5 22.7 2.5 22.2 0.0 33.7 0.0 33.8 1.0 34 1.8 34.1 2.0 34.5 2.5 35.5 2.6 36 2.9 36.1 3.5 36 4.5 35.9 5.0 35.5 5.6 34.6 6.0 34.4 6.5 34.3 8.5 34.3 9.0 35.3 10.5 35.2 11.0 35 11.2 34.8 12.0 34.6 12.5 33.6 13.5 33.4 14.0 33.3 14.5 33.3 15.0 33.7 16.0 34 16.5 34.5 16.8 35 15.7 35.6 13.0 35.7 12.0 35.6 10.5 35.7 10.0 36 9.6 36.3 9.0 37 6.5 37.5 6.0 38.5 4.7 39 4.3 39.5 4.4 40 4.9 40.2 5.0 40.5 5.1 40.7 5.0 41.1 4.5 41.4 3.5 41.6 3.0 42.5 2.1 43 1.8 43.5 2.6 43.7 3.5 44 4.3 44.5 5.0 45 5.3 45.6 4.5 45.9 4.0 45.9 3.5 45.2 1.0 45.1 0.0 47.5 0.0 47.5 1.5 47.3 2.5 46.6 3.5 46.5 4.0 46.9 5.0 47 6.5 47.5 6.9 47.6 6.5 47.5 4.5 47.6 3.5 47.7 3.0 48 2.8 49 2.7 49.5 2.2 50 1.0 50.2 0.0 52.5 0.0 52.7 1.5 53 2.4 53.5 2.8 54 2.9 55 2.2 55.5 2.2 56 2.4 56.5 2.2 57 1.7 57.5 1.6 58 1.9 58.5 1.9 58.7 1.5 58.7 0.0 60.7 0.0 60.8 1.0 61 1.5 61.4 2.0 62 2.5 62.5 2.7 63 2.8 63.5 2.6 64.1 2.0 64.3 1.5 64.4 0.0 68.8 0.0 69 0.6 69.5 0.5 69.8 0.0 70 0.0 70 5.5 69.5 5.2 69 4.7 68.5 4.0 68 2.9 67.5 2.5 66.5 2.1 66 2.5 65.7 3.0 65.4 4.0 65.4 7.0 65.3 7.5 64.5 9.4 64.4 10.5 64.8 12.5 65 13.9 65.5 14.7 65.7 14.5 65.9 14.0 65.7 12.0 65.9 11.0 66.5 9.6 67 9.2 67.6 9.5 68 10.7 68.5 11.6 69 11.8 70 11.6 70 23.2 69 24.3 68.5 24.7 68 24.8 67.5 24.5 67.2 24.0 66.9 22.5 66.9 21.0 67 18.5 67 17.2 66.9 17.0 66.5 16.8 66 17.9 65.4 20.0 65.2 21.5 65.3 24.0 64.6 26.0 64.1 28.0 64 28.3 63.5 29.0 63 29.0 62.5 29.3 62.3 29.5 62.2 30.0 62.3 31.0 62.5 32.1 63 32.4 63.5 31.9 64 31.8 64.9 32.5 65.2 33.0 65.3 33.5 64.9 35.0 64.9 36.0 65.3 38.5 65.5 38.9 66 39.1 66.5 38.6 67 36.7 67.2 34.0 67.4 32.5 67.4 32.0 66.5 31.1 66.2 30.5 66.1 30.0 66.2 29.5 66.5 29.1 67 29.3 67.5 29.9 68 30.2 68.5 30.2 68.8 30.0 69 29.9 69.3 29.0 69.5 27.2 70 26.3 70 32.7 69.5 33.0 69.4 33.5 69.5 34.5 70 35.2 70 66.4 68.7 67.0 67.5 67.9 67 68.5 65.9 70.5 65.8 71.5 65.9 73.0 66.4 75.0 66.5 75.3 67 75.8 67.5 75.2 68.3 71.0 68.5 70.3 70 70.1 70 82.1 69.6 82.5 69.5 83.0 69.7 83.5 70 84.0 70 87.8 69.5 87.7 69 87.8 68.5 88.5 68 89.8 67.5 89.8 67.1 90.0 67.1 90.5 67.4 91.5 68 92.9 68.4 92.5 68.4 91.5 68.5 91.0 69 90.8 70 90.7 70 105.8 69.5 106.0 69.3 106.5 69.2 107.5 69.3 109.0 69.5 109.5 70 109.9 70 115.3 69 115.6 68.5 115.1 67 115.0 66.5 114.5 66.4 114.0 66.2 112.0 66 111.5 65.5 111.5 65 111.0 65.1 109.5 65 109.0 64.7 108.5 64.5 108.2 64 108.5 63.9 109.0 63.9 109.5 64 110.2 64.5 111.4 64.7 111.5 64.7 113.0 65 115.5 65.1 117.5 65.5 119.0 65.6 120.0 65.4 121.0 56.6 121.0 56.5 120.8 56.4 121.0 51.7 121.0 51.5 120.6 51 120.4 50.7 120.5 50.3 121.0 47.1 121.0 47 119.0 46.8 118.5 46.5 118.0 46 117.8 45 117.7 44.5 118.1 43.5 119.6 43 119.6 42.6 119.0 42 118.5 41.5 118.8 41.3 119.5 41.3 121.0 35.5 121.0 35.2 120.0 34.6 119.0 34.3 118.0 34.3 117.0 34.9 115.5 34.9 115.0 34.7 113.0 34.5 110.7 34 109.7 32.5 113.5 32.5 114.5 33.2 117.0 33.2 117.5 32.7 119.0 33 121.0 32.1 121.0 32.1 120.0 32 119.6 31.8 119.5 31 119.3 30.5 118.8 30.3 118.5 30 117.3 29.5 116.1 29.3 116.0 29 115.6 29 116.4 29.2 117.5 29.9 119.5 30 121.0 24.6 121.0 24.4 120.5 24 120.2 23.6 120.5 23.4 121.0 16.2 121.0 16.1 119.0 15.7 118.0 14.5 116.5 14.3 116.0 14.3 115.5 15 112.1 15.5 111.7 16.5 112.9 17 112.4 17.3 111.5 17.5 109.5 17.8 108.0 17.8 107.5 17.5 107.0 17 106.5 16.5 106.3 16 106.5 15 107.6 14.6 107.0 14 105.7 13.9 106.5 13.8 109.0 13.1 110.5 11.8 112.0 11 114.5 11 115.5 11.3 116.5 12 118.1 12.5 120.0 12.7 121.0 4.8 121.0 5.2 119.5 5.3 118.0 5.1 117.0 4.8 116.5 4.5 116.2 4 116.3 3.6 117.0 3.4 117.5 3.3 118.5 3.5 119.5 4.3 121.0 1.3 121.0 1.1 117.0 1 116.1 0.5 116.5 0 117.2 0 112.5 0.5 112.4 1 112.8 1.5 113.5 2 113.5 2.7 112.0 2.7 111.0 2.5 110.3 1.5 108.8 1 108.6 0 109.7 0 102.3 1 102.3 1.5 102.2 3 102.1 3.3 102.0 4 101.4 4.5 101.4 5 101.6 5.5 101.9 6.5 103.3 6.8 103.0 7 102.5 7 102.0 6.9 100.5 6.7 99.5 6.5 99.0 6 98.6 5.5 98.3 5 98.2 4.5 98.5 4 99.7 3.5 100.3 2.5 100.4 1.5 100.8 1 100.8 0 100.6 0 89.4 0.4 88.5 0.7 87.5 1 86.5 1.1 85.5 1 84.9 0.8 84.5 0.5 84.2 0 84.3 0 61.2 0.5 61.6 1 62.1 1.6 60.5 2 60.1 2.5 60.0 3 59.6 3.5 58.0 3.6 57.0 3.5 56.5 3 56.0 2.5 56.4 2.2 57.0 1.5 59.4 1 57.6 0.6 55.0 0.5 54.5 0 53.7 0 53.1 0.5 52.8 1 52.3 1.5 52.1 2 52.5 2.5 52.6 3 52.1 3.4 51.5 3.6 51.0 3.6 50.5 3.3 49.5 3 48.9 2.5 48.4 1.5 48.2 1 47.9 0.3 47.0 0 46.7 0 41.2 0.5 41.0 0.7 40.5 0.7 40.0 0.7 37.5 0.5 36.4 0 35.0 0 34.4 0.1 34.0 0.4 33.5 1 33.0 2 33.1 2.5 33.2 2.7 33.5 2.7 35.0 3 35.9 3.5 36.0 3.7 35.5 4.1 30.5 4 29.2 3.7 28.5 3.7 28.0 4 27.9 4.5 27.2 4.9 26.0 5.3 24.0 6 22.9 7.3 20.5 7.3 20.0 7.3 19.0 7.2 18.5 6.5 17.2 6.4 16.0 6.6 15.5 7.5 14.2 7.8 13.0 7.9 12.0 7.8 11.5 7.1 10.0 7 9.3 6.5 9.0 5.7 11.0 4.8 12.5 4.5 13.5 4.1 18.0 4.2 19.0 4.5 20.5 4.2 21.5 4 21.9 3.5 22.1 2.7 22.0 2 21.6 1.8 22.0 1.5 23.6 1 24.2 0.5 23.9 0 23.2 0 16.7 1 15.8 1.2 15.5 1.2 15.0 1 14.4 0.5 14.5 0 14.8 0 7.6 0.5 7.9 1.5 10.0 2 10.5 3 10.9 3.5 10.9 3.8 10.5 4 10.0 3.8 3.5 4 1.6 4.5 1.0 4.5 0.5 4.5 0.4 3.5 0.9 3 0.5ZM10 8.9 9.4 9.5 9.2 10.0 9 11.0 9.1 12.0 9.5 14.0 9.6 14.5 9.5 15.0 9 15.5 8 15.6 7.8 16.0 7.7 16.5 7.7 17.5 7.8 18.0 9.5 19.8 10 20.3 10.5 20.3 10.7 20.0 10.7 19.5 10.2 16.5 10.2 15.5 10.3 15.0 10.5 14.5 11.1 12.5 11.3 10.5 11.2 9.5 11.1 9.0 11 8.9 10.5 8.7ZM11.5 20.8 11.2 21.0 11.1 21.5 10.7 24.0 11.5 25.1 12 25.4 12.4 25.0 12.4 24.0 12.1 22.0 12 21.7 11.6 21.0ZM13 14.5 12.5 15.3 12.2 16.5 12.1 17.0 12.3 17.5 12.5 17.6 13 17.3 13.8 16.0 13.9 15.5 13.9 15.0 13.5 14.5ZM15 20.5 14.5 20.8 14.4 21.0 14.1 22.0 13.5 24.3 13.2 25.0 13.1 26.0 13.1 26.5 13.5 27.3 14 27.5 14.5 27.4 15.7 26.5 16 26.0 16.3 24.5 16.8 23.0 16.8 22.5 16.7 22.0 15.5 20.8 15.1 20.5ZM17 40.8 16.6 41.5 16.5 42.0 16.5 42.5 16.6 43.0 17 43.7 17.5 43.8 17.7 43.0 17.7 42.5 17.5 40.9ZM22.5 14.3 22.1 14.5 21.9 16.5 21.8 17.0 20.9 18.5 20.5 19.1 20 19.2 19.5 19.0 19 19.1 18.5 19.3 18 20.3 17.7 21.5 17.7 22.0 17.9 22.5 18.7 23.5 19.2 25.5 19.4 26.0 20.5 27.4 21 27.3 22 26.4 23 25.3 23.5 25.0 24 24.7 25 23.1 26 22.6 26.5 22.3 27.1 21.5 27.4 20.5 27.4 19.5 27 18.5 26.3 18.0 26 17.6 25.8 16.0 25.5 15.2 25 14.9 24 15.4 23.5 15.5 22.9 15.0 22.6 14.5ZM25.5 0.8 24.5 1.8 23.7 3.5 23.6 5.0 23.8 8.5 24 9.0 24.3 9.5 24.9 10.0 27.1 11.5 27.4 12.0 27.7 13.5 28 14.4 28.5 14.9 29 15.1 29.5 15.1 29.6 15.0 29.7 14.5 29.3 13.0 28.7 11.0 28.8 9.0 28.7 8.0 28.2 7.0 27.5 6.2 26.7 5.5 26.3 5.0 26 4.0 26 1.6 25.7 1.0ZM30.5 5.7 30.3 6.0 30.3 7.0 30.5 7.9 31 8.4 31.5 8.3 32 8.1 32.1 7.5 32 7.0 31.8 6.5 31 5.7ZM35.5 24.0 35.1 25.5 35.1 26.0 35.5 26.6 36 26.5 36.3 26.0 36.3 25.5 36 24.2 35.6 24.0ZM38 8.4 37.8 8.5 37.7 9.0 37.8 9.5 38 9.9 38.5 10.3 39 10.2 39.1 10.0 39 9.5 38.5 8.7 38.2 8.5ZM40.5 13.0 40.3 13.5 40.2 14.0 40.1 15.5 40.3 16.0 41.5 17.4 42 17.7 42.5 17.3 42.7 17.0 42.9 16.5 42.9 16.0 42.8 15.5 42 14.1 41.5 13.4 41 13.0ZM45 11.4 44.7 12.0 44.6 12.5 44.7 13.0 45 13.6 45.5 13.9 46 13.5 46.2 13.0 46.2 12.5 46 12.0 45.5 11.4ZM46.5 21.1 46 21.7 44.9 24.0 44.7 25.0 44.9 26.0 45 26.2 45.5 26.3 45.9 27.0 46.5 27.6 47 27.5 47.5 26.4 48 25.8 48.2 26.0 48.2 26.5 48.1 28.5 48.2 29.5 48.5 30.0 49 30.0 49.5 29.8 50.1 30.5 50.4 31.5 50.5 33.0 50.7 34.0 51 34.7 51.5 35.4 52 35.1 52.4 33.5 53.5 31.6 54 31.3 54.5 31.3 54.7 31.0 54.5 28.9 54 26.8 53.5 26.1 53.2 26.5 52.8 27.5 52.5 27.9 52 28.1 51.9 28.0 51.5 27.6 51.3 27.0 51.3 26.0 51.5 24.5 51.5 24.0 51 23.6 50.5 24.1 50.3 24.5 50 26.0 49.5 26.4 49 25.9 48.5 25.6 48.4 25.5 48.1 24.0 47.8 23.0 47 21.5ZM51.5 16.5 51.3 17.0 51.2 17.5 51.3 18.5 51.8 20.0 52.1 21.5 52.2 22.5 52.4 23.0 52.5 23.2 53.4 21.0 53.5 20.5 53.4 20.0 52.5 17.8 52 16.9ZM54 3.9 53.5 4.1 53.2 4.5 52.5 4.9 52 5.5 51.7 6.5 51.6 7.0 51.8 7.5 52 7.8 52.5 7.7 53.5 5.8 54 5.4 54.2 5.0 54 4.0ZM55.5 33.1 55 34.1 54.8 35.5 54.8 36.5 55 37.0 55.5 37.3 56 37.3 56.5 37.0 56.8 36.5 57 35.0 56.9 34.0 56.7 33.5 56.5 33.2 56 33.0ZM57.5 55.2 57 55.5 56.9 56.0 56.8 57.0 57 59.1 57.3 59.5 57.5 59.6 58 58.9 58.5 57.5 58.5 57.0 58.3 56.5 57.7 55.5ZM58 15.5 57.8 16.5 57.7 19.5 58 20.0 58.5 20.0 59 19.9 59.4 19.5 59.7 19.0 59.8 18.0 59.7 16.5 59.6 16.0 59.3 15.5 59 15.2 58.5 15.1ZM60.5 3.6 60 4.1 59.5 6.5 60 6.9 60.5 5.3 60.6 4.0ZM61.5 11.4 61 11.7 60.8 12.0 60.5 13.0 60.4 14.5 60.5 15.5 60.6 16.0 61 16.5 61.5 16.5 62 16.1 62.3 15.5 62.6 14.5 62.7 13.5 62.7 12.5 62.5 11.8 62 11.5ZM62.5 112.4 62.1 113.0 62 113.4 61.9 114.5 62 114.9 62.5 114.5 62.7 114.0 62.7 113.0 62.6 112.5ZM65 78.6 65 79.8 65.2 79.5 65.3 79.0ZM66 49.8 65.5 50.1 65.3 50.5 65.1 51.5 65.2 52.0 66.5 56.0 66.8 55.0 66.9 52.0 66.8 50.5 66.5 49.9ZM67.5 42.4 67 42.7 66.7 43.0 66.4 43.5 66.2 44.0 66.2 45.0 66.3 45.5 66.5 45.9 67 46.1 67.5 45.7 68.5 43.5 68.5 43.0 68 42.6 67.7 42.5ZM68 78.9 68 80.1 68 79.0ZM6.5 110.7 6.4 111.0 6.3 112.0 6.3 113.0 6.5 113.5 7 113.9 7.9 114.5 8.3 115.0 8.3 115.5 8.3 116.5 8 117.4 7 117.9 6.9 118.0 6.9 118.5 7 118.8 7.5 119.2 9 119.1 9.5 118.9 9.9 118.5 10.1 118.0 10.1 117.5 9.9 115.5 9.6 114.5 8.9 114.0 8.7 113.5 8.3 112.0 7.9 111.5 7 111.0ZM2 93.0 1.9 93.5 2 94.2 2.5 94.2 2.6 94.0 2.7 93.5 2.5 93.1ZM2 41.4 1.8 41.5 2 41.6 2 41.5ZM8.5 22.7 8 23.6 7.8 25.0 8 26.5 8.5 27.5 9 27.3 9.8 26.0 10.3 25.0 10.4 24.5 10.3 24.0 9.7 23.0 9.5 22.7 9 22.5ZM10.5 36.7 10.2 37.0 10 37.5 9.6 39.0 9.4 40.0 9.5 40.5 9.6 41.0 10 41.4 10.5 41.4 11.5 41.1 11.9 40.5 11.9 39.5 11.7 38.5 11 37.1 10.8 37.0ZM12 29.9 11.6 30.0 11.4 30.5 11.8 31.5 12.5 32.4 13 32.5 13.2 32.0 13.3 31.5 13 30.6 12.4 30.0ZM14.5 42.7 14.3 43.5 14.3 47.0 14.5 48.1 15 48.2 15.2 48.0 15.4 47.5 15.5 47.0 15.2 45.0 15 42.5ZM19 38.6 18.8 39.0 19 39.6 19.5 39.7 19.5 39.2 19.4 39.0ZM20.5 42.8 20 43.3 19 44.8 18.5 45.3 16.9 46.5 16.3 47.5 16.3 48.0 16.9 50.0 17.2 52.5 17.5 53.4 18 53.2 18.5 52.2 18.7 51.5 18.8 50.5 19 48.0 19.2 47.5 19.5 47.2 20 47.1 20.5 46.6 21.2 44.5 22.1 43.0 22 42.8 21.5 42.5 21 42.6ZM25.5 28.6 25 29.2 24.5 30.0 24 30.5 23.5 30.2 22.7 29.5 22.5 29.4 22 29.3 21.5 29.6 21.1 30.0 21 30.5 21 32.0 21.2 33.5 21.5 34.0 22.5 33.7 23 33.7 23.5 33.8 23.8 34.0 23.9 34.5 24.2 36.0 24.5 36.9 24.7 36.0 24.9 34.5 25.2 33.5 25.7 32.5 26.8 31.0 26.9 30.5 26.8 30.0 26.5 29.3 26 28.7ZM28 29.6 27.8 30.0 27.6 30.5 27.7 31.0 28 31.7 28.5 32.1 28.9 31.5 29 31.0 28.9 30.5 28.5 29.5ZM29 24.3 28.7 24.5 28.6 25.0 28.7 25.5 29 25.7 29.6 25.5 29.7 25.0 29.4 24.5ZM32 15.5 31.5 15.6 31.3 16.0 31.2 16.5 31.4 17.5 32 18.0 32.5 17.5 32.7 17.0 32.7 16.5 32.5 16.0 32 15.5ZM38.5 15.5 38 15.5 37.7 16.0 37 17.8 36 19.2 35.9 19.5 35.9 20.0 36 20.4 36.5 20.4 37 20.6 38.4 22.5 40 23.9 40.3 23.5 40.5 23.1 40.5 22.5 39.4 19.0 39.3 18.0 39.5 16.5 39.4 16.0 38.6 15.5ZM41.5 28.2 41 29.0 40.6 30.5 41 30.8 41.5 30.5 41.8 30.0 42 29.5 42 29.0 41.8 28.5ZM45 28.9 44.5 29.3 44.2 30.0 44.2 31.0 44.5 31.9 45 32.1 45.1 32.0 45.5 31.7 45.7 31.0 45.8 30.5 45.5 29.5 45.1 29.0ZM49 37.7 48.7 38.0 48 39.3 47.9 40.0 48.4 42.5 48.5 42.7 48.9 43.0 49 43.1 49.5 42.8 49.6 42.0 49.8 39.5 49.7 38.5 49.5 38.1 49.4 38.0ZM52 48.2 51.5 49.1 51.4 50.5 51.5 52.0 52 52.1 53 51.0 53 50.5 52.9 49.5 52.7 49.0 52.3 48.5ZM53.5 112.8 52.7 113.5 52.6 114.0 52.8 114.5 53.5 115.3 54 115.7 54.5 115.7 54.6 115.5 54.8 115.0 54.7 113.5 54.5 112.8 54 112.6ZM53 13.3 52.8 13.5 52.7 14.0 52.6 15.0 52.6 15.5 52.8 16.0 53 16.1 53.5 16.0 53.9 15.5 54.3 14.5 54.3 14.0 53.5 13.3ZM55 46.9 54.9 48.0 55 48.3 55.2 47.5 55.1 47.0ZM59 35.3 58.5 36.0 58.1 37.0 58 38.0 58.1 38.5 58.5 38.9 59.5 39.4 60.5 39.2 61 39.6 61.5 39.5 61.6 39.0 61.5 37.9 60.5 36.5 60 35.5 59.5 35.2ZM61 19.8 60.8 20.0 60.5 20.5 60.4 21.5 60.6 22.5 61 23.1 61.5 23.1 62.3 22.5 62.3 22.0 61.7 20.5 61.5 20.2 61.2 20.0ZM65.5 81.6 65.3 82.5 65.5 85.0 65.4 86.5 65.2 87.5 64.6 89.0 64.4 90.0 64.6 91.0 64.9 91.5 65 91.6 65.5 91.7 65.7 91.5 66.3 90.5 66.5 90.0 66.8 89.5 66.8 87.5 66.2 85.5 66.1 85.0 66.2 84.5 66.7 83.5 66.8 83.0 66.4 82.5 65.8 82.0ZM8 37.4 7.5 37.9 6.7 39.5 6.7 40.0 6.8 40.5 7.5 41.0 8 40.5 8.2 40.0 8.3 39.0 8.1 37.5ZM9 107.1 8.9 107.5 9 108.5 9.3 108.0 9.2 107.5ZM9.5 44.5 9.3 45.0 9.5 45.5 10 46.0 10.2 45.5 10.1 45.0 10 44.7 9.6 44.5ZM12 47.3 11.7 47.5 11.6 48.0 11.6 48.5 11.6 49.5 11.8 50.0 12 50.2 12.5 50.3 12.8 50.0 13 49.5 12.9 48.5 12.5 47.7 12.3 47.5ZM19 108.7 18.5 110.5 18.4 111.0 18.5 111.5 19 112.6 19.3 113.0 19.5 113.5 19.8 116.0 19.8 118.0 19.9 119.0 20 119.3 20.5 119.4 20.7 118.5 20.6 116.0 20.5 114.8 20.2 113.5 20.2 112.5 20.5 111.7 21 111.5 21.6 111.5 21.8 111.0 21.7 110.5 21.5 109.7 20.5 109.9 20 109.4 19.5 108.7ZM22 51.6 21.6 52.0 21.6 52.5 21.8 53.5 22 54.0 22.5 54.4 23 54.0 23.2 53.5 23.1 53.0 22.5 52.0ZM26.5 37.9 26.2 38.5 25.9 39.5 25.7 40.0 25.5 40.2 25 40.2 24.5 39.7 24 40.0 23.4 41.0 22.9 42.0 22.7 42.5 22.9 43.0 23.5 43.2 24 43.0 24.8 42.5 25.5 41.9 26.3 40.5 26.5 40.4 27 40.2 28 40.6 28.1 40.0 28 39.4 27 38.2 26.7 38.0ZM28.5 42.0 28 42.4 27.6 43.5 27.5 44.0 27.5 44.5 27.7 45.0 28 45.3 28.5 45.2 29 44.5 29.1 44.0 29 43.0 28.5 42.0ZM32 20.4 31.5 20.7 31 21.4 30.8 22.0 30.6 23.0 30.6 24.5 30.7 26.0 31 26.6 31.5 26.7 32.3 26.0 32.6 25.5 32.7 25.0 33.1 21.5 33 20.7 32.5 20.3ZM36.5 35.2 36.4 36.0 36.5 36.7 37 37.7 37.3 36.5 37.3 36.0 37 35.2ZM39 30.4 38.7 31.0 38.7 31.5 39 33.2 39.4 34.0 39.4 34.5 39 36.3 38.7 39.0 38.5 39.6 38 40.0 37.5 39.8 37.2 39.5 37 39.0 36.7 39.5 36.5 41.0 36.6 42.0 37 42.9 38 42.9 38.5 43.4 39 43.7 39.5 43.3 40.5 41.0 41 40.6 41.5 40.5 42 41.1 42.5 42.2 43 42.6 43.7 42.0 44.3 41.0 44.3 40.5 43.6 38.0 43.7 35.5 43.5 34.5 43 34.7 42.5 36.4 42.3 37.0 42 37.3 41.8 37.0 41.4 36.5 40.2 35.5 39.8 35.0 39.6 34.5 39.6 34.0 40.2 32.0 40.3 31.0 39.5 30.5ZM45.5 45.8 45.4 46.5 45.5 47.4 46 47.9 46.2 47.0 46.2 46.5 46 45.8ZM48.5 103.7 48.3 104.0 48 104.9 48 108.0 47.5 110.7 47.4 111.0 47 111.3 46.5 112.3 46.3 113.0 46.4 114.5 47 116.0 47.5 116.4 48 116.5 48.5 116.3 48.8 116.0 49.3 115.0 50 112.0 50.1 111.5 50 110.5 49.2 108.0 49.1 105.0 49 104.3 48.8 104.0ZM58 44.4 57.9 44.5 57.8 45.0 58.6 46.0 58.8 46.5 59.2 48.0 59.4 50.5 59.5 50.9 59.7 51.0 60 51.1 61 49.6 61.3 48.5 61.4 48.0 61 47.5 60.5 47.7 60 47.6 59.1 46.0 59 45.5 58.5 44.7 58.2 44.5ZM61 25.7 60.5 26.4 60.3 28.5 60.5 29.2 61 29.4 61.4 29.0 61.5 28.5 61.1 26.0ZM64.5 99.6 64 100.3 63.8 101.0 63.8 102.0 64 102.6 64.5 102.5 65.1 102.0 65.5 101.5 65.4 101.0 64.8 100.0ZM24.5 46.3 24 46.7 23.8 47.0 23.7 47.5 23.8 48.0 25 51.9 25.5 51.7 26.2 50.5 26.5 49.5 26.4 49.0 25.8 47.5 25.5 46.1 25 46.0ZM26.5 107.3 26.5 107.7 26.6 107.5ZM27.5 109.1 27.4 110.0 27.5 112.0 27.7 112.5 28 112.8 28.5 112.8 29 111.4 29.2 110.0 29.1 109.5 28 109.0ZM31 31.3 30.6 31.5 30.5 32.0 30.8 33.0 31 33.4 31.2 33.0 31.3 32.5 31.1 31.5ZM31.5 51.4 31.4 52.0 31.4 52.5 31.5 52.7 32 52.9 32.2 52.0 32.1 51.5 32 51.2ZM33 38.8 32.5 39.7 32.3 40.5 32.4 41.5 32.8 42.5 33.1 43.5 32.9 44.5 32.4 46.0 32.4 46.5 32.5 47.3 33 47.9 34 47.6 34.5 47.8 35 48.1 35.3 48.0 35.5 47.9 36 46.9 36.4 46.0 36.5 45.4 36 45.1 35.5 45.4 35 45.4 34.5 44.7 34.3 44.0 34.2 43.0 34.5 40.0 34.5 39.1 34.5 39.0 34 38.6 33.5 38.6ZM37.5 50.3 37 50.7 36.8 51.5 37 52.5 37.5 52.9 39 52.0 39.2 51.5 39.1 51.0 39 50.7 38.8 50.5 38 50.3ZM43.5 105.8 43 107.0 42.5 107.8 42 107.2 41.5 106.3 41 106.2 40.6 106.5 40.3 107.0 39.9 108.0 39.5 109.9 39 109.8 38.9 109.5 39 108.5 38.6 108.0 38.5 107.9 38.4 108.0 38.1 108.5 38.5 110.0 38.5 110.5 38.2 113.0 37.7 115.5 37.8 116.0 38 116.7 38.5 117.4 39 117.4 39.5 117.0 39.8 116.0 40.2 114.0 40.7 113.0 41 112.6 41.5 112.2 42.5 111.8 43.3 111.0 44 110.7 44.5 110.7 45 110.4 45.2 110.0 45.6 109.0 45.6 108.5 45.6 108.0 45 106.8 44 105.6ZM59 106.9 58.3 108.0 58.1 108.5 58.1 109.0 58.3 110.0 58.7 111.0 59 111.4 59.5 111.6 60 111.4 60.4 111.0 60.5 110.5 60.6 110.0 60.5 108.8 60.3 108.0 60 107.4 59.5 106.9ZM60 55.4 59.5 55.7 59.2 56.5 59.1 57.0 59.3 57.5 59.5 57.6 60 57.7 60.4 57.0 60.5 56.3 60.4 56.0 60.1 55.5ZM61 61.4 60.4 62.0 60.3 62.5 60.5 63.3 61 64.2 61.5 64.3 61.9 63.5 62.1 62.5 62.1 62.0 62 61.5 61.5 61.2ZM24 104.6 23.8 105.0 23.8 105.5 23.8 106.0 24 106.6 24.5 105.9 24.5 105.5 24.3 105.0ZM26.5 113.4 26 113.9 25.5 114.8 24.6 116.0 24.5 116.5 24.4 117.0 24.6 118.0 24.7 118.5 25 119.0 25.5 119.0 26 118.7 26.8 117.5 27.1 116.5 27.2 115.5 27.2 114.0 27 113.5ZM34 105.6 33.4 106.5 33.2 107.5 33.2 108.0 33.3 108.5 33.5 108.9 33.8 109.0 34 109.1 35.2 107.0 34.8 106.0 34.5 105.7ZM37 104.4 36.5 104.6 36 105.5 35.6 106.5 35.6 107.0 35.7 107.5 36 108.0 36.5 108.6 37 108.6 37.2 108.5 37.5 108.0 37.6 107.5 37.5 105.3 37.5 105.0 37.2 104.5ZM36.7 0.0 37.7 0.0 37.5 0.9 37 1.6 36.8 1.0 36.7 0.5ZM40 0.0 40 0.0 40 0.2ZM0.1 1.0 0.5 0.7 1 0.6 1.5 0.9 1.9 1.5 2.1 2.5 2 4.0 1.8 5.0 1.5 5.6 1 5.4 0 4.5 0 1.1ZM15.4 3.0 15.5 2.5 16 2.5 16.3 3.5 16.3 4.0 16 4.6 15.5 3.8 15.4 3.5ZM68.3 7.5 68.5 7.3 69 7.3 69.2 7.5 69.5 8.3 69.5 9.1 69 9.5 68.5 9.2 68.2 9.0 68.1 8.5 68.1 8.0ZM23.8 18.0 24 17.9 24.5 18.1 24.8 18.5 24.9 19.0 24.8 20.0 24.5 21.8 24 21.7 23.5 21.0 23.3 20.5 23.1 19.0 23.3 18.5 23.5 18.1ZM0 25.0 1 26.0 1.5 26.7 1.7 27.5 1.7 28.0 1.6 29.0 1 30.6 0.5 31.1 0 30.9 0 25.5ZM68.4 118.0 68.5 117.9 69 118.1 69.2 119.5 69.2 121.0 67.5 121.0 67.7 119.5 68.1 118.5Z" fill="#0000ff" stroke="#000" stroke-opacity="0.4" stroke-width="0.2" fill-rule="evenodd"/>
<path d="M27.3 0.0 29.3 0.0 29 1.0 28 2.8 27.5 2.9 27.3 2.0 27.3 0.5ZM7.7 3.5 8 3.2 8.5 3.1 9 3.3 9.1 3.5 9.3 4.0 9.4 5.0 9.3 5.5 9.1 6.0 8.5 6.2 8 6.0 7.6 5.5 7.4 5.0 7.4 4.5 7.5 3.8ZM54.4 9.0 54.5 8.7 55 8.7 55.3 9.5 55.3 10.0 55 10.6 54.6 10.5 54.5 10.4 54.4 10.0 54.3 9.5ZM40.8 44.0 41 43.6 41.5 43.7 41.6 44.0 41.6 44.5 41.5 44.7 41 45.0 40.7 44.5ZM41 56.5 41 56.4 41.1 56.5 41.5 56.9 41.6 57.5 41.6 58.0 41.3 59.5 41.5 60.0 42 60.2 42.5 60.1 43 59.8 44 59.6 44.5 58.8 45 57.6 45.5 57.2 46 57.4 47 58.2 48 58.6 48.5 58.4 49 57.9 49.5 57.8 51.5 58.5 52 58.9 52.5 59.6 53.5 60.4 54.5 61.7 56 62.7 56.5 63.0 57 63.1 57.5 63.0 58 62.8 58.5 63.0 59 64.4 59.5 64.8 60.1 65.5 61 67.8 61.5 68.4 62 68.8 63.1 70.5 63.5 71.5 63.5 72.0 63.2 72.5 63 72.8 62.5 72.7 62 72.4 61.7 73.0 61.7 73.5 62 76.0 62.1 78.0 62.2 78.5 62.5 79.2 63.5 78.9 64 81.0 64 82.5 63.5 84.0 62.9 85.0 62.5 85.9 62 88.4 61.8 90.5 61.6 91.5 60.5 92.9 60 95.0 59.7 95.5 59 96.1 58 97.4 57.5 97.5 57 97.4 56.5 97.6 55.5 98.4 54.6 99.0 54 99.6 53 100.1 52.8 100.5 52.4 102.0 52 102.6 51.5 102.7 51.1 102.5 50.9 102.0 50.9 101.5 51 100.1 50.5 100.5 50.3 101.0 50 101.5 49.5 101.3 49 100.5 48.5 100.0 48 100.3 47.5 101.3 47 102.0 46.5 101.7 46 100.9 45.5 100.8 44 101.2 42.5 101.8 42 102.0 41.7 101.5 41.4 100.0 41 98.8 40.5 98.4 39 98.1 38.5 98.7 38 99.7 37.5 100.3 37 100.4 36.5 100.2 36 100.3 35 101.1 34 100.9 33.5 102.0 33 103.5 32.5 104.3 32.3 104.0 32.2 103.5 32.1 101.5 32 101.0 31.5 100.0 31 99.8 30.5 99.9 30 99.8 29.5 99.7 29 99.6 28.5 99.9 28 99.8 27.5 99.3 27 98.6 26.5 98.5 25 100.3 24.5 100.6 23 100.3 22.5 100.4 21.5 101.5 21 101.7 20.5 101.7 20 101.6 19 101.3 17.5 101.3 16 101.5 15 102.3 14.5 102.2 14.1 101.5 13.8 100.5 12.5 98.4 12 98.1 10.5 98.2 9 97.2 8 96.8 7.7 96.5 7.4 96.0 7 93.9 6.5 93.4 5.5 93.4 5 92.6 4 90.4 3.5 89.7 2.9 89.5 2.7 89.0 2.7 88.5 2.8 87.0 2.7 85.0 3 83.0 3 82.5 2.8 82.0 2.2 80.5 1.7 79.0 1.2 78.0 1 77.0 1.2 76.0 1.5 75.3 2.5 74.5 3.2 71.5 3.7 70.0 4 69.5 4.5 69.1 5.5 67.3 7.5 64.5 8.5 63.3 9.5 62.7 9.9 62.0 10.2 61.0 10.5 59.5 10.7 59.0 11 58.8 11.5 58.8 12.5 59.2 13 58.8 13.5 58.2 15.5 59.4 16 59.5 16.5 59.1 17 58.0 17.3 57.5 18 57.1 18.5 57.0 19 57.5 19.5 58.6 20 59.2 20.5 59.4 21.2 59.0 21.7 58.5 22.2 57.5 22.5 57.2 23 57.2 23.5 57.5 24.5 58.8 25 59.2 25.5 59.0 26.5 57.4 27 57.4 27.2 58.0 27.4 60.0 27.5 60.3 28 60.3 28.5 60.0 29 59.2 29.5 58.8 30 58.9 30.5 59.2 31 59.4 31.5 59.1 32.1 58.0 32.5 57.1 33 56.8 33.3 58.0 33.6 60.5 34 61.5 34.5 61.7 35 61.3 35.6 60.5 35.9 60.0 36.5 58.1 37 57.6 37.5 57.9 38 58.4 38.5 58.4 39 58.1 39.5 58.1 40 58.0 40.7 57.0ZM35.5 95.4 35.2 95.5 35 96.0 35.5 96.1 35.6 95.5ZM0 94.5 0 94.1 0.5 95.4 0.7 97.0 0.5 97.8 0 98.3 0 95.0ZM46.1 103.0 46.5 102.8 46.7 103.5 46.7 105.0 46.5 105.8 46 105.9 45.7 105.5 45.5 105.0 45.5 103.8 46 103.0ZM67.3 106.5 67.5 106.2 67.7 107.0 67.5 107.5 67.2 107.0Z" fill="#0051ff" stroke="#000" stroke-opacity="0.4" stroke-width="0.2" fill-rule="evenodd"/>
<path d="M17.8 60.5 18 60.0 18.5 60.1 20.5 62.8 21.5 63.3 22.5 64.2 23 64.2 24.5 63.4 25 63.3 25.5 63.5 26.5 65.6 27 66.0 27.5 65.9 27.9 65.5 28.5 63.8 29 63.8 29.4 64.5 29.4 65.0 29.3 66.5 29.5 67.3 30 67.9 31.5 68.2 32 68.2 32.5 68.1 33.5 68.3 34.1 68.0 34.5 67.6 35.5 67.6 36.1 66.0 36.5 65.5 37 65.6 37.5 66.4 38 67.4 38.5 67.8 39 67.4 39.8 65.0 40 64.7 40.5 64.2 41 64.3 41.5 64.7 42 64.2 42.3 63.5 42.5 63.2 43 62.8 43.5 63.1 44 63.6 44.5 63.6 46 62.9 47.5 62.5 48.2 62.0 49 60.9 49.5 60.4 50 60.5 50.9 61.5 53 62.8 54 64.0 55.5 65.2 56.5 65.4 57 65.7 58 67.9 59 69.0 59.3 69.5 59.5 70.3 59.7 71.5 59.7 75.0 60.3 78.5 60.5 81.5 60.5 82.5 60.2 84.5 60.3 86.5 60.2 87.0 59.7 88.5 58.7 90.5 58.4 92.0 58.2 92.5 57 93.0 56.5 93.4 55.7 95.5 55.5 95.9 55 96.2 53.5 96.8 53 96.8 52 96.5 51.5 96.5 51 96.7 50 97.5 49.5 97.7 48 97.5 47.5 97.7 46.5 98.3 46 98.3 45.3 98.0 44.7 97.5 44 96.5 43.5 96.1 43.1 96.5 42.8 98.0 42.5 98.4 42 97.5 42 95.5 41.9 95.0 41.5 94.4 41 94.2 40 94.2 39.5 93.9 39 93.4 38.5 93.4 38 94.3 37.5 94.4 36 93.1 35.5 92.8 35 92.7 34.2 93.0 33.6 93.5 33.5 93.8 33 93.0 32.5 92.6 30.5 91.4 30 91.6 29.5 92.1 29 92.4 28.5 92.5 28 92.4 27.5 92.1 27 92.1 26 92.7 25 92.9 24.6 93.5 24.3 94.0 23.5 96.6 23 96.7 22.5 96.4 22 96.3 21 96.3 20 96.8 19.5 96.9 18 96.9 17.5 97.0 16.5 97.5 15.5 97.6 14 97.4 13.5 97.2 12.5 96.2 11.5 96.3 11 96.2 10.5 95.9 9.6 95.0 9.2 94.5 7.8 92.0 6.5 90.3 5.5 89.2 4.5 85.5 4.4 84.0 4.6 82.0 4.4 79.5 4.8 76.0 4.4 73.5 4.4 72.5 5 71.0 6 69.5 7 67.5 7.5 66.8 8.5 66.3 9 65.8 11 62.8 11.5 62.6 12 62.7 12.5 62.7 13 62.4 13.5 62.0 14 61.5 14.5 61.2 16 61.7 16.5 61.8 17 61.8 17.3 61.5 17.5 61.0Z" fill="#00a2ff" stroke="#000" stroke-opacity="0.4" stroke-width="0.2" fill-rule="evenodd"/>
<path d="M15 64.0 15.5 63.8 16 63.8 17 64.0 17.5 64.0 18.5 63.6 19 63.6 20 65.2 21 66.0 22 67.1 23.5 67.9 24 68.0 24.5 68.4 25 69.0 25.5 69.3 26 69.4 27.5 70.7 29 71.1 29.5 71.2 30.5 71.0 31.5 71.3 32.5 71.3 33 71.2 34 70.6 34.5 70.5 35 70.7 35.5 71.1 36 71.2 37 70.9 37.9 71.5 38.1 71.5 38.5 71.3 40 69.4 40.5 69.2 41 69.3 41.5 69.1 42.8 67.0 43.5 66.1 45.5 65.0 47 64.6 49 63.6 50.5 63.6 51 63.7 51.5 64.0 53.5 65.6 56.5 67.6 57 68.3 57.7 69.5 58 70.5 58.2 71.5 59.1 78.0 59.4 82.5 59.2 84.5 59 86.0 58.8 86.5 57.5 89.1 56.5 90.4 55 92.6 53.5 94.4 53 94.6 52 94.8 49.5 96.0 48 95.9 47 96.1 46.5 96.1 46 95.8 44 93.6 43.4 93.0 42.5 92.3 42 92.1 41 91.8 40.5 91.2 40 89.8 39.5 89.1 39 89.0 37.5 88.9 36.5 87.3 36 87.0 35.5 87.2 35 87.6 34.5 87.8 33.5 87.7 33 88.0 32.4 89.0 32 89.4 31.5 89.2 31 88.6 30.5 88.2 30 88.3 29 89.1 28.5 89.3 27.5 89.0 27 89.1 26 90.3 25.5 90.4 24.5 90.4 23.5 90.9 23 91.3 22.5 92.0 22 93.5 21.7 94.0 21.5 94.2 21 94.5 20.5 94.6 19.5 94.5 19 94.5 17.5 94.9 16 94.9 14 95.2 13.5 95.1 12.5 94.4 11.5 94.3 10.5 93.7 10 93.1 9 91.4 7.7 89.5 6.5 87.0 6.1 86.0 6.1 84.5 6.3 81.5 6.1 78.5 6.1 73.0 7 71.6 7.9 69.0 8.2 68.5 10 67.0 10.5 66.5 11 65.8 11.4 65.5 11.5 65.4 12.5 65.5 13 65.3 14.5 64.2Z" fill="#00f3ff" stroke="#000" stroke-opacity="0.4" stroke-width="0.2" fill-rule="evenodd"/>
<path d="M47.8 65.5 48.5 65.2 49 65.2 50.5 65.2 51 65.3 53.5 67.4 55.5 68.7 56 69.1 56.6 70.0 57 71.0 57.4 73.5 58 75.8 58.2 77.0 58.3 78.0 58.2 80.5 58.4 83.0 58.3 84.0 57.8 85.5 56.2 89.0 55.5 90.2 53.5 92.2 51.5 93.8 49 94.6 48.5 94.6 47.5 94.3 47 94.0 45 91.8 44 91.2 43.5 90.8 42.5 89.6 41.5 89.1 39.5 86.4 39 86.1 38 85.8 37.6 85.5 36.6 84.5 36 83.6 35.5 83.2 34.5 83.5 34 83.9 33.7 84.0 33.4 84.0 32.9 83.5 33.2 82.5 33.2 82.0 33 81.3 32.5 80.9 32 80.7 31.8 80.5 31.6 80.0 31.3 78.0 30.3 76.0 30.2 75.5 30.2 75.0 30.4 74.5 31 74.1 31.5 74.1 32 74.5 32.3 75.0 32.5 75.6 33.2 75.0 33.5 74.9 34 75.0 34.7 75.5 35 75.9 35.5 75.7 35.8 75.0 36.5 73.8 37 73.4 38 73.5 38.5 73.3 39 72.8 40 71.4 40.5 71.1 41.5 70.8 41.7 70.5 43.5 68.1 44 67.7 45 67.2 47.5 65.6ZM13.9 66.0 14.5 65.8 16 65.6 17.5 65.8 18.5 65.8 19 66.0 20.5 67.3 21.5 68.6 23.1 70.0 24.5 71.5 25 71.8 26 72.0 26.5 72.2 27 72.6 27.7 73.5 28.1 74.5 28.5 75.8 29.1 77.0 29.5 79.5 30 80.4 30.5 80.8 31 81.0 31.2 81.5 31.2 82.0 31 82.3 30 81.7 29.5 82.1 29 83.1 28.7 84.0 28.5 85.0 28.5 86.0 28.2 86.5 27 86.9 25.5 88.0 24.5 88.1 24 88.4 23 89.5 21.7 90.5 20.5 91.7 19.6 92.5 19 92.9 17.5 93.4 16 93.3 14 93.5 13.5 93.4 12 92.8 10.5 91.7 10 91.0 8.6 88.5 7.6 86.5 7.2 85.5 7.1 84.0 7.3 81.0 7 78.0 6.9 76.5 7.1 75.0 7.4 73.5 8.1 72.0 9 70.3 9.5 69.6 11 68.5 12 67.5 13.5 66.3Z" fill="#45ffba" stroke="#000" stroke-opacity="0.4" stroke-width="0.2" fill-rule="evenodd"/>
<path d="M14.3 67.0 15 66.9 16 66.9 18.5 67.4 19.5 67.9 20.5 68.7 21.5 70.0 22.5 71.0 23.5 72.4 24 72.8 25.3 73.5 25.8 74.0 26.1 74.5 26.3 75.0 26.2 77.0 26.3 78.0 27.3 80.5 27.5 81.3 27.5 82.0 27 83.6 26.5 84.5 25.2 86.0 24 86.8 22.5 88.5 21.5 88.9 21 89.3 20 90.5 19 91.5 18.5 91.8 17.5 92.2 17 92.3 15.5 92.1 14 92.3 13 92.0 12 91.5 10.7 90.0 9.5 88.1 8.8 86.5 8.3 85.0 8.2 84.0 8.2 82.0 8.1 78.5 8.2 75.0 8.6 73.5 9.2 72.0 9.9 71.0 13.5 67.5 14 67.1ZM47.6 67.0 48.5 66.7 49 66.6 50 66.7 50.5 66.9 51.5 67.7 53 68.5 55.3 70.5 56 71.7 56.4 73.0 57.1 76.5 57.2 77.5 57 80.0 57.4 83.0 57.4 83.5 57.1 84.5 55.5 88.6 55 89.2 51.5 92.5 51 92.6 50 92.7 49 93.1 48.5 93.1 48 93.0 47 92.2 45.5 90.5 44 89.4 43 87.8 41.6 87.0 41.2 86.5 40.5 85.5 39.5 83.3 38.5 82.2 38.1 81.0 38.2 80.0 38.4 78.5 39 77.0 39.4 75.0 40.3 73.5 40.6 73.0 42 71.8 43 70.7 45.3 69.0 46.5 67.8 47.5 67.1Z" fill="#96ff69" stroke="#000" stroke-opacity="0.4" stroke-width="0.2" fill-rule="evenodd"/>
<path d="M14.4 68.0 15 67.9 16 68.0 18 68.6 19 69.0 19.7 69.5 20 69.8 21 71.2 22 72.1 22.3 72.5 23.8 75.0 24.1 76.0 24.1 80.0 24.4 83.0 24.3 84.0 24.1 84.5 22.5 86.5 21 87.5 20.1 89.0 19.5 89.7 18.5 90.5 18 90.8 17 91.2 15.5 91.1 14.5 91.2 13.5 91.0 12.5 90.5 11.6 89.5 10 86.7 9.5 85.5 9.4 85.0 9.3 84.0 9.4 82.0 9 80.0 9 79.0 9.2 75.5 9.5 74.0 10 72.8 11.3 71.0 14 68.2ZM48.8 68.0 49.5 67.9 50 68.1 51.5 69.2 52.5 69.5 53 69.7 53.5 70.2 54.6 71.5 55.2 72.5 55.7 74.0 55.9 75.0 56.1 78.0 56.1 80.5 56.4 82.5 56.2 84.0 55.5 86.5 55 87.6 53.5 89.3 52 90.7 51.5 91.1 51 91.2 49 91.4 48 91.3 47 90.7 44.5 88.2 43.5 86.8 42.2 85.5 41.7 84.5 41.4 83.0 41.3 79.5 41.4 77.0 41.7 75.5 42.4 74.0 43.1 72.5 44 71.5 45.9 70.0 47 68.9 48.5 68.1Z" fill="#e8ff17" stroke="#000" stroke-opacity="0.4" stroke-width="0.2" fill-rule="evenodd"/>
<path d="M14.7 69.0 15 68.9 15.5 68.9 17.5 69.6 19 70.5 19.5 70.9 21.7 74.0 22.1 75.0 22.4 76.5 22.5 77.5 22.1 83.0 21.8 84.5 21.5 85.0 21 85.6 20 87.6 19.5 88.3 18 89.5 17 90.1 16.5 90.1 14.5 90.0 13.5 89.7 13 89.4 12.6 89.0 12 88.2 11.4 87.0 10.7 85.0 10.4 82.0 9.9 79.0 9.9 77.5 10 76.0 10.2 75.0 10.5 74.1 12.5 71.2 14 69.5 14.5 69.1ZM48.3 69.5 49 69.2 49.5 69.2 50 69.4 51.5 70.3 53 71.0 53.5 71.5 54.4 73.0 54.9 74.0 55.1 75.0 55.3 77.5 55.4 82.5 55.2 84.0 54.6 86.0 54 87.2 52.9 88.5 52 89.4 51.5 89.8 50.5 90.1 49.5 90.2 48 89.8 46.5 89.0 46 88.5 45.2 87.5 43.5 85.0 43 84.1 42.9 83.5 42.6 78.5 42.8 77.0 43.5 74.3 43.9 73.5 44.6 72.5 46 71.3 47 70.2 48 69.7Z" fill="#ffc500" stroke="#000" stroke-opacity="0.4" stroke-width="0.2" fill-rule="evenodd"/>
<path d="M14.5 70.5 15 70.1 15.5 70.1 17.5 70.9 18.5 71.5 19 71.9 19.5 72.5 20.4 74.0 20.8 75.0 21.1 76.0 21.4 78.0 21.4 79.5 21.3 81.0 20.9 83.0 19.5 86.6 17 88.7 16.5 88.9 15 88.8 14 88.5 13 87.8 12.2 86.5 11.8 85.5 11.3 83.5 10.8 79.5 10.6 78.0 10.7 76.5 11 75.4 11.5 74.5 12.7 72.5 14 71.0ZM47.9 71.0 49 70.6 50 70.7 51 71.1 52.5 72.1 53 72.6 53.5 73.4 54 74.5 54.3 75.5 54.5 77.0 54.5 82.0 54.3 83.5 53.7 85.5 53.3 86.5 52.6 87.5 51.5 88.5 50.5 89.0 50 89.1 49.5 89.1 48 88.5 46.5 87.6 46 87.0 45.4 86.0 44.4 84.0 44 83.0 43.9 81.5 43.9 78.5 44.3 75.5 44.5 75.0 45 74.0 47 71.7 47.5 71.2Z" fill="#ff7400" stroke="#000" stroke-opacity="0.4" stroke-width="0.2" fill-rule="evenodd"/>
<path d="M14.7 72.0 15 71.7 15.5 71.6 17.5 72.1 18.2 72.5 18.7 73.0 19.2 74.0 20 76.0 20.2 77.0 20.4 79.0 20.4 80.5 20.1 82.0 19.6 84.0 19 85.2 17 87.0 16.5 87.4 16 87.6 15.5 87.6 15 87.6 14.5 87.5 13.9 87.0 13.1 86.0 12.6 85.0 12 82.8 11.7 81.5 11.5 79.0 11.5 78.0 11.7 77.0 13 73.9 13.5 73.2 14.5 72.2ZM48.9 72.0 49.5 72.0 50.5 72.2 51.1 72.5 52.2 73.5 52.5 74.1 52.8 75.0 53.4 77.0 53.5 78.0 53.6 79.0 53.4 82.5 53.3 83.5 53 84.7 52.5 85.7 51.5 87.0 51 87.5 50.5 87.8 50 87.9 49.5 87.9 48 87.2 47 86.5 46.5 86.0 45.6 84.0 45.2 83.0 45 82.0 45 80.5 45.1 79.0 45.3 77.5 45.7 75.5 46.2 74.5 47 73.3 47.5 72.7 48.5 72.1Z" fill="#ff2300" stroke="#000" stroke-opacity="0.4" stroke-width="0.2" fill-rule="evenodd"/>
<path d="M15.1 73.5 15.5 73.3 16 73.2 16.5 73.2 17.3 73.5 17.9 74.0 18.1 74.5 18.4 75.5 18.8 78.0 18.8 81.5 18.5 83.0 18 84.0 17.5 84.7 16.5 85.8 16 86.1 15.5 86.2 15 86.1 14.5 85.7 14 85.0 13.4 83.5 12.7 81.0 12.5 80.0 12.7 78.5 13.5 75.5 14 74.5 15 73.6ZM48.9 73.5 49.5 73.4 50 73.6 51 74.4 51.5 75.0 52 76.2 52.4 78.0 52.5 79.0 52.5 81.5 52.4 83.0 51.8 84.5 51 85.8 50.5 86.4 50 86.6 49.5 86.5 48 85.7 47.5 85.4 47 84.7 46.7 84.0 46.2 82.0 46 80.0 46.1 79.0 46.5 77.3 46.9 76.0 47.4 75.0 48 74.1 48.5 73.7Z" fill="#d10000" stroke="#000" stroke-opacity="0.4" stroke-width="0.2" fill-rule="evenodd"/>
<path d="M49.2 75.5 49.5 75.4 50 75.7 50.8 77.0 51.1 78.0 51.1 80.0 51.4 81.5 51.3 82.5 51 83.5 50.5 84.3 50 84.6 48.5 84.1 48 83.6 47.7 82.5 47.9 80.5 47.8 78.0 48 77.0 49 75.6ZM15.4 76.0 16 75.7 16.5 75.8 17 76.6 17.3 77.5 17.6 81.0 17.5 81.9 17 83.0 16.5 83.4 16 83.6 15.7 83.5 15.5 83.4 15.1 83.0 14.9 82.5 14.5 81.0 14.4 79.5 14.6 78.0 15 76.5Z" fill="#800000" stroke="#000" stroke-opacity="0.4" stroke-width="0.2" fill-rule="evenodd"/>
</g>
<rect x="22.1" y="336.0" width="70.0" height="121.0" fill="none" stroke="#222" stroke-width="0.3"/>
<path d="M22.1 457.0v-1M22.1 336.0v1" stroke="#333" stroke-width="0.3"/>
<text x="22.1" y="466.4" font-size="5.85" text-anchor="middle">0</text>
<path d="M40.0 457.0v-1M40.0 336.0v1" stroke="#333" stroke-width="0.3"/>
<text x="40.0" y="466.4" font-size="5.85" text-anchor="middle">0.74</text>
<path d="M58.1 457.0v-1M58.1 336.0v1" stroke="#333" stroke-width="0.3"/>
<text x="58.1" y="466.4" font-size="5.85" text-anchor="middle">1.49</text>
<path d="M76.2 457.0v-1M76.2 336.0v1" stroke="#333" stroke-width="0.3"/>
<text x="76.2" y="466.4" font-size="5.85" text-anchor="middle">2.23</text>
<path d="M91.8 457.0v-1M91.8 336.0v1" stroke="#333" stroke-width="0.3"/>
<text x="91.8" y="466.4" font-size="5.85" text-anchor="middle">2.98</text>
<path d="M22.1 457.0h1M92.1 457.0h-1" stroke="#333" stroke-width="0.3"/>
<text x="19.5" y="459.4" font-size="5.85" text-anchor="end">0</text>
<path d="M22.1 426.0h1M92.1 426.0h-1" stroke="#333" stroke-width="0.3"/>
<text x="19.5" y="428.4" font-size="5.85" text-anchor="end">1.25</text>
<path d="M22.1 394.6h1M92.1 394.6h-1" stroke="#333" stroke-width="0.3"/>
<text x="19.5" y="397.0" font-size="5.85" text-anchor="end">2.51</text>
<path d="M22.1 363.7h1M92.1 363.7h-1" stroke="#333" stroke-width="0.3"/>
<text x="19.5" y="366.1" font-size="5.85" text-anchor="end">3.76</text>
<path d="M22.1 336.0h1M92.1 336.0h-1" stroke="#333" stroke-width="0.3"/>
<text x="19.5" y="338.4" font-size="5.85" text-anchor="end">5.02</text>
<text x="57.1" y="473.6" font-size="6.5" text-anchor="middle">X/(km)</text>
<text x="6.4" y="396.5" font-size="6.5" text-anchor="middle" transform="rotate(-90 6.4 396.5)">Y/(km)</text>
<rect x="99.6" y="336.20" width="5.1" height="120.00" fill="#800000"/>
<rect x="99.6" y="339.95" width="5.1" height="116.25" fill="#a00000"/>
<rect x="99.6" y="343.70" width="5.1" height="112.50" fill="#c10000"/>
<rect x="99.6" y="347.45" width="5.1" height="108.75" fill="#e20000"/>
<rect x="99.6" y="351.20" width="5.1" height="105.00" fill="#ff0400"/>
<rect x="99.6" y="354.95" width="5.1" height="101.25" fill="#ff2500"/>
<rect x="99.6" y="358.70" width="5.1" height="97.50" fill="#ff4600"/>
<rect x="99.6" y="362.45" width="5.1" height="93.75" fill="#ff6700"/>
<rect x="99.6" y="366.20" width="5.1" height="90.00" fill="#ff8800"/>
<rect x="99.6" y="369.95" width="5.1" height="86.25" fill="#ffa900"/>
<rect x="99.6" y="373.70" width="5.1" height="82.50" fill="#ffca00"/>
<rect x="99.6" y="377.45" width="5.1" height="78.75" fill="#ffea00"/>
<rect x="99.6" y="381.20" width="5.1" height="75.00" fill="#f3ff0c"/>
<rect x="99.6" y="384.95" width="5.1" height="71.25" fill="#d2ff2d"/>
<rect x="99.6" y="388.70" width="5.1" height="67.50" fill="#b1ff4e"/>
<rect x="99.6" y="392.45" width="5.1" height="63.75" fill="#90ff6f"/>
<rect x="99.6" y="396.20" width="5.1" height="60.00" fill="#6fff90"/>
<rect x="99.6" y="399.95" width="5.1" height="56.25" fill="#4effb1"/>
<rect x="99.6" y="403.70" width="5.1" height="52.50" fill="#2dffd2"/>
<rect x="99.6" y="407.45" width="5.1" height="48.75" fill="#0cfff3"/>
<rect x="99.6" y="411.20" width="5.1" height="45.00" fill="#00eaff"/>
<rect x="99.6" y="414.95" width="5.1" height="41.25" fill="#00caff"/>
<rect x="99.6" y="418.70" width="5.1" height="37.50" fill="#00a9ff"/>
<rect x="99.6" y="422.45" width="5.1" height="33.75" fill="#0088ff"/>
<rect x="99.6" y="426.20" width="5.1" height="30.00" fill="#0067ff"/>
<rect x="99.6" y="429.95" width="5.1" height="26.25" fill="#0046ff"/>
<rect x="99.6" y="433.70" width="5.1" height="22.50" fill="#0025ff"/>
<rect x="99.6" y="437.45" width="5.1" height="18.75" fill="#0004ff"/>
<rect x="99.6" y="441.20" width="5.1" height="15.00" fill="#0000e2"/>
<rect x="99.6" y="444.95" width="5.1" height="11.25" fill="#0000c1"/>
<rect x="99.6" y="448.70" width="5.1" height="7.50" fill="#0000a0"/>
<rect x="99.6" y="452.45" width="5.1" height="3.75" fill="#000080"/>
<text x="106.3" y="347.8" font-size="5.6" text-anchor="start">600</text>
<text x="106.3" y="363.3" font-size="5.6" text-anchor="start">500</text>
<text x="106.3" y="378.9" font-size="5.6" text-anchor="start">400</text>
<text x="106.3" y="394.8" font-size="5.6" text-anchor="start">300</text>
<text x="106.3" y="410.3" font-size="5.6" text-anchor="start">200</text>
<text x="106.3" y="425.9" font-size="5.6" text-anchor="start">100</text>
<text x="106.3" y="441.3" font-size="5.6" text-anchor="start">0</text>
<text x="106.3" y="457.1" font-size="5.6" text-anchor="start">-100</text>
<text x="102.1" y="333.6" font-size="5.6" text-anchor="middle">nT</text>
<g transform="translate(341.2,172.0)">
<rect x="0" y="0" width="70.0" height="121.0" fill="#000080"/>
<path d="M28.6 54.5 31.5 54.4 34.5 54.4 40.5 54.8 44.5 55.3 48.5 55.9 50.5 56.3 52 56.9 53.5 57.6 55 58.7 56.5 60.0 57.8 61.5 59.3 63.5 60.3 65.0 61.3 67.0 62.2 69.0 63.1 71.5 63.6 74.0 63.8 76.5 63.8 79.5 63.6 82.5 63.2 85.0 62.6 87.5 61.6 90.0 60.3 92.5 58.7 95.0 57 97.0 55 98.9 53.5 99.9 51.5 100.8 50 101.2 47.5 101.4 37.5 101.7 29 101.7 19 101.5 16.5 101.3 15 101.0 13.5 100.5 12 99.6 10.5 98.5 8.9 97.0 7.6 95.5 6.2 93.5 4.8 91.0 3.9 89.0 3.3 87.5 2.9 86.0 2.4 83.0 2.1 78.5 2.2 76.5 2.3 74.5 2.7 72.0 3.7 69.0 5.4 65.5 6.9 63.0 8.5 61.0 10.5 59.0 12 57.9 14 56.8 16 56.2 19 55.6 24.5 54.9 28.5 54.5Z" fill="#0000ff" stroke="#000" stroke-opacity="0.4" stroke-width="0.2" fill-rule="evenodd"/>
<path d="M27.5 59.0 32.5 58.8 37 58.9 47 59.4 49 59.6 50.5 59.9 51.5 60.3 53 61.1 54 61.8 55 62.6 56 63.6 57 64.8 57.8 66.0 58.7 67.5 59.7 69.5 60.4 71.5 60.9 73.5 61.2 75.5 61.3 79.0 61.1 82.5 60.8 85.0 60.3 87.0 59.3 89.5 58.2 91.5 56.9 93.5 55.5 95.1 54 96.3 52.5 97.3 51 97.9 50 98.1 49 98.3 47.5 98.3 46 98.2 40 97.4 36 97.3 27 97.4 24.5 97.6 19.5 98.2 17.5 98.3 16 98.2 14.5 97.8 13.5 97.3 12.5 96.8 11.5 96.0 10.5 95.1 9.4 94.0 8.3 92.5 7.4 91.0 6.2 88.5 5.6 87.0 5.2 85.5 4.9 83.5 4.8 82.0 4.7 77.5 4.8 74.5 5.3 72.0 6.2 69.5 7.8 66.5 9.1 64.5 11 62.5 12.5 61.3 14.5 60.3 16 59.8 18 59.5 27 59.0Z" fill="#0051ff" stroke="#000" stroke-opacity="0.4" stroke-width="0.2" fill-rule="evenodd"/>
<path d="M16.2 62.0 18 61.8 19.5 61.9 24.5 62.8 26.5 63.0 38 63.0 41 62.8 46 61.9 48.5 61.8 50.5 62.2 52 62.8 53.5 63.7 54.9 65.0 56.5 66.9 57.7 69.0 58.6 71.0 59.2 73.0 59.6 75.5 59.7 78.0 59.7 81.5 59.3 84.5 58.9 86.5 58.1 88.5 57.1 90.5 55.7 92.5 54.5 93.8 53 94.9 51.5 95.7 50 96.2 48 96.3 46 95.9 44 95.2 40 93.4 38.5 93.0 36 92.7 33.5 92.6 31 92.6 29 92.7 27.5 93.0 25.5 93.5 22 95.2 20.5 95.7 19 96.1 17.5 96.3 16.5 96.2 15.5 96.1 14 95.5 12.5 94.7 11.1 93.5 9.5 91.5 8.3 89.5 7.4 87.5 6.8 85.5 6.4 83.0 6.2 80.5 6.2 77.0 6.4 74.5 6.8 72.5 7.7 70.0 8.7 68.0 10 66.1 11.5 64.5 13 63.3 14.5 62.5 16 62.0Z" fill="#00a2ff" stroke="#000" stroke-opacity="0.4" stroke-width="0.2" fill-rule="evenodd"/>
<path d="M15 64.0 16 63.7 17 63.6 18 63.6 19 63.7 21 64.3 24.5 66.0 26 66.6 28 67.1 31 67.4 35.5 67.4 38.5 67.0 40 66.6 41 66.2 45 64.2 46.5 63.8 47.5 63.6 49 63.6 50.5 63.8 52 64.5 53.5 65.5 54.9 67.0 56 68.5 57.1 70.5 57.9 72.5 58.3 74.5 58.5 76.5 58.6 79.0 58.4 82.0 58.2 84.0 57.8 86.0 57.3 87.5 56.3 89.5 55.3 91.0 54 92.4 53 93.3 51.5 94.2 50.5 94.5 49.5 94.7 48.5 94.7 47 94.5 46 94.1 45 93.7 41.5 91.4 39.5 90.5 38 90.1 36.5 89.8 33.5 89.5 32 89.5 30 89.7 28 90.0 26.5 90.5 24.5 91.4 20.5 93.9 19.5 94.3 18 94.7 16.5 94.7 15 94.4 13.5 93.7 12.5 93.0 11 91.5 9.9 90.0 8.8 88.0 8.1 86.0 7.7 84.0 7.5 82.0 7.4 79.0 7.4 76.0 7.7 74.0 8.1 72.5 8.8 70.5 9.6 69.0 10.6 67.5 11.9 66.0 13 65.1 14.5 64.2Z" fill="#00f3ff" stroke="#000" stroke-opacity="0.4" stroke-width="0.2" fill-rule="evenodd"/>
<path d="M16.9 65.0 18.5 65.1 20 65.6 21.5 66.4 24.5 68.4 26.5 69.3 29 70.0 32 70.4 33.5 70.4 35.5 70.2 37.5 69.9 39 69.4 40.1 69.0 41.5 68.3 45.5 65.8 46.5 65.4 47.5 65.1 49 65.0 50.5 65.3 52 66.0 53 66.7 54.3 68.0 55.5 69.7 56.4 71.5 57.1 73.5 57.4 75.5 57.5 77.5 57.5 81.0 57.3 83.5 56.9 85.5 56.4 87.0 55.7 88.5 54.5 90.3 53.3 91.5 52 92.5 51 93.0 49.5 93.4 48 93.3 46.5 92.8 45 92.0 41.5 89.6 39 88.3 37.5 87.8 36 87.4 33.5 87.1 32 87.1 30.5 87.3 28.5 87.8 27 88.3 24.5 89.5 20 92.5 19 93.0 18 93.3 17 93.4 15.5 93.2 14 92.6 13 91.9 11.6 90.5 10.5 89.0 9.7 87.5 9 85.5 8.6 83.5 8.4 81.0 8.4 77.5 8.5 75.0 9 73.0 9.5 71.5 10.5 69.5 11.5 68.1 12.5 67.0 14 65.9 15 65.4 16.5 65.0Z" fill="#45ffba" stroke="#000" stroke-opacity="0.4" stroke-width="0.2" fill-rule="evenodd"/>
<path d="M15.6 66.5 16.5 66.3 17.5 66.3 19 66.6 20.5 67.4 24 69.9 26.5 71.4 28.5 72.3 30 72.8 31.5 73.2 32.5 73.4 33.5 73.4 35 73.1 36.5 72.6 38.5 71.8 40 71.0 41.5 70.2 45.5 67.3 46.5 66.8 47.5 66.4 48.5 66.3 50 66.4 51 66.7 52.3 67.5 53.5 68.6 54.5 69.9 55.4 71.5 56 73.0 56.4 74.5 56.6 76.5 56.7 79.0 56.6 82.0 56.3 84.0 56 85.5 55.5 86.8 54.9 88.0 54 89.3 53 90.4 52 91.2 50.5 91.9 49.5 92.1 48.5 92.1 47 91.7 45.5 90.9 41 87.6 38 85.8 35 84.3 34 84.1 33 83.9 32 84.0 31 84.3 30 84.7 28 85.7 24.5 87.8 20.3 91.0 19.5 91.5 18.5 91.9 17 92.2 16 92.1 14.5 91.5 13.5 90.9 12.5 90.0 11.3 88.5 10.5 87.0 9.9 85.5 9.5 83.5 9.3 81.5 9.2 78.5 9.3 76.0 9.5 74.5 9.9 73.0 10.5 71.5 11.3 70.0 12.5 68.5 13.5 67.6 14.5 67.0 15.5 66.5Z" fill="#96ff69" stroke="#000" stroke-opacity="0.4" stroke-width="0.2" fill-rule="evenodd"/>
<path d="M16.5 67.5 18 67.6 19 67.9 20 68.4 21.5 69.5 25.7 73.0 27.2 74.5 28 75.5 28.3 76.0 28.7 77.0 28.8 78.0 28.7 79.5 28.1 81.5 27.3 83.0 26.1 84.5 23.5 87.0 20.5 89.5 19.5 90.2 18.5 90.7 17 91.0 15.5 90.8 14 90.0 12.9 89.0 11.7 87.5 11 86.0 10.5 84.5 10.2 82.5 10.1 80.0 10.1 77.0 10.3 75.0 10.8 73.0 11.5 71.5 12.5 70.0 13.5 68.9 15 67.9 16.5 67.5ZM48.3 67.5 49.5 67.5 51 68.0 52.5 69.0 53.5 70.1 54.4 71.5 55.1 73.0 55.6 75.0 55.8 77.0 55.8 80.0 55.6 83.0 55.2 85.0 54.7 86.5 53.9 88.0 52.5 89.5 51 90.5 49.5 91.0 49 91.0 48 90.9 47 90.5 46 90.0 44.1 88.5 40.8 85.5 39.4 84.0 38.6 83.0 38.1 82.0 37.6 81.0 37.3 80.0 37.1 78.5 37.2 77.0 37.6 76.0 38.2 75.0 39.1 74.0 40.8 72.5 45.1 69.0 46.5 68.1 48 67.5Z" fill="#e8ff17" stroke="#000" stroke-opacity="0.4" stroke-width="0.2" fill-rule="evenodd"/>
<path d="M15.3 69.0 16.5 68.6 17 68.6 18 68.7 19 69.1 20.5 70.1 22.6 72.0 24.3 74.0 25.1 75.5 25.5 77.0 25.6 79.0 25.4 81.0 25 82.5 24.3 84.0 23.2 85.5 21.4 87.5 20 88.7 18.5 89.5 17.5 89.8 17 89.9 16 89.8 15 89.4 14 88.8 13 87.8 12.2 86.5 11.5 85.0 11.2 83.5 10.9 81.0 10.9 78.0 11 76.0 11.4 74.0 11.9 72.5 12.8 71.0 14 69.8 15 69.1ZM47.2 69.0 48.5 68.6 49.5 68.7 50.5 68.9 51 69.2 52 69.9 53.1 71.0 54 72.5 54.6 74.0 54.9 75.5 55.1 78.0 55 81.0 54.8 83.0 54.4 85.0 53.8 86.5 52.7 88.0 51.5 89.1 50.5 89.6 50 89.8 49 89.9 48 89.8 46.5 89.1 45 88.0 43.1 86.0 41.9 84.5 41.4 83.5 40.9 82.5 40.4 80.5 40.2 78.5 40.4 77.0 40.8 75.5 41.3 74.5 42.4 73.0 43.8 71.5 45.5 70.0 47 69.1Z" fill="#ffc500" stroke="#000" stroke-opacity="0.4" stroke-width="0.2" fill-rule="evenodd"/>
<path d="M15.7 70.0 17 69.8 18 69.9 19.3 70.5 20.5 71.4 21.5 72.5 22.6 74.0 23.3 75.5 23.7 77.0 23.8 78.5 23.6 80.5 23.2 82.5 22.7 84.0 21.8 85.5 20.5 87.0 19.2 88.0 18 88.6 17 88.8 16 88.7 15 88.3 14 87.5 13.2 86.5 12.6 85.5 12.1 84.0 11.8 82.5 11.7 80.5 11.6 78.0 11.8 76.0 12.1 74.5 12.6 73.0 13.5 71.6 14.5 70.6 15.5 70.1ZM47.6 70.0 48.5 69.8 49 69.7 50 69.9 51 70.4 51.8 71.0 52.7 72.0 53.3 73.0 53.8 74.5 54.1 76.0 54.3 78.5 54.2 81.0 54 83.0 53.7 84.5 53 86.0 52.4 87.0 51.3 88.0 50.5 88.5 50 88.6 49 88.8 48.5 88.7 47.5 88.4 46 87.5 45 86.6 44.1 85.5 43.2 84.0 42.7 82.5 42.3 80.5 42.1 78.5 42.2 77.0 42.6 75.5 43 74.5 43.9 73.0 45 71.8 46.5 70.6 47.5 70.0Z" fill="#ff7400" stroke="#000" stroke-opacity="0.4" stroke-width="0.2" fill-rule="evenodd"/>
<path d="M16.3 71.0 17 70.9 18 71.1 19 71.6 20.1 72.5 20.9 73.5 21.7 75.0 22 76.0 22.2 77.5 22.3 79.0 22.1 81.0 21.8 82.5 21.3 84.0 20.5 85.4 19.5 86.5 18.5 87.2 17.5 87.5 16.5 87.6 15.5 87.3 14.5 86.6 14 86.0 13.4 85.0 13 84.0 12.8 83.0 12.6 81.5 12.5 79.5 12.5 77.5 12.6 76.0 13 74.5 13.4 73.5 14 72.5 15 71.6 16 71.1ZM48.3 71.0 49 70.9 50 71.1 51 71.6 51.9 72.5 52.5 73.5 52.9 74.5 53.2 75.5 53.4 77.0 53.5 79.0 53.3 81.5 53.1 83.0 52.7 84.5 52.2 85.5 51.5 86.5 50.5 87.2 49.5 87.6 48.5 87.6 47.5 87.2 46.5 86.6 45.5 85.5 44.8 84.5 44.4 83.5 43.9 82.0 43.7 80.5 43.6 78.5 43.7 77.0 44 75.5 44.4 74.5 45 73.5 46 72.3 47 71.5 48 71.1Z" fill="#ff2300" stroke="#000" stroke-opacity="0.4" stroke-width="0.2" fill-rule="evenodd"/>
<path d="M15.8 72.5 16.5 72.3 17.5 72.3 18.1 72.5 19 73.1 19.8 74.0 20.3 75.0 20.7 76.0 20.9 77.0 21 78.5 20.9 80.0 20.8 81.5 20.4 83.0 20 84.0 19.5 84.7 18.8 85.5 18 86.0 17 86.3 16.5 86.3 15.8 86.0 15.1 85.5 14.5 84.8 14.1 84.0 13.6 82.5 13.4 81.0 13.4 79.0 13.4 77.5 13.6 76.0 13.9 75.0 14.3 74.0 15 73.1 15.5 72.7ZM47.8 72.5 48.5 72.2 49.5 72.3 50.1 72.5 50.8 73.0 51.5 73.8 51.9 74.5 52.2 75.5 52.4 76.5 52.5 78.0 52.5 80.0 52.4 81.5 52.2 83.0 51.8 84.0 51.3 85.0 50.5 85.8 50 86.1 49.5 86.3 48.5 86.2 47.8 86.0 47 85.4 46.5 84.9 45.9 84.0 45.5 83.0 45.1 81.5 44.9 80.0 44.9 78.5 45 77.0 45.2 76.0 45.5 75.0 46.1 74.0 47 73.0 47.5 72.6Z" fill="#d10000" stroke="#000" stroke-opacity="0.4" stroke-width="0.2" fill-rule="evenodd"/>
<path d="M16.4 74.0 17 73.9 17.5 74.0 18 74.2 18.5 74.7 19 75.5 19.2 76.0 19.5 77.5 19.6 80.0 19.2 82.0 19 82.7 18.5 83.6 18 84.1 17.5 84.4 17 84.5 16.5 84.5 16 84.3 15.5 83.8 15 82.9 14.6 81.0 14.5 78.5 14.7 76.5 15 75.5 15.2 75.0 15.5 74.6 16 74.2ZM48.3 74.0 49 73.9 49.5 74.0 50 74.2 50.5 74.7 51.1 76.0 51.4 77.5 51.4 80.0 51.3 81.5 51 82.5 50.5 83.7 50 84.2 49.5 84.5 49 84.6 48.5 84.5 48 84.2 47.5 83.7 46.8 82.5 46.4 81.0 46.3 78.5 46.5 76.6 47 75.3 47.5 74.6 48 74.1Z" fill="#800000" stroke="#000" stroke-opacity="0.4" stroke-width="0.2" fill-rule="evenodd"/>
</g>
<rect x="341.2" y="172.0" width="70.0" height="121.0" fill="none" stroke="#222" stroke-width="0.3"/>
<path d="M341.2 293.0v-1M341.2 172.0v1" stroke="#333" stroke-width="0.3"/>
<text x="341.2" y="302.4" font-size="5.85" text-anchor="middle">0</text>
<path d="M359.1 293.0v-1M359.1 172.0v1" stroke="#333" stroke-width="0.3"/>
<text x="359.1" y="302.4" font-size="5.85" text-anchor="middle">0.74</text>
<path d="M377.2 293.0v-1M377.2 172.0v1" stroke="#333" stroke-width="0.3"/>
<text x="377.2" y="302.4" font-size="5.85" text-anchor="middle">1.49</text>
<path d="M395.3 293.0v-1M395.3 172.0v1" stroke="#333" stroke-width="0.3"/>
<text x="395.3" y="302.4" font-size="5.85" text-anchor="middle">2.23</text>
<path d="M410.9 293.0v-1M410.9 172.0v1" stroke="#333" stroke-width="0.3"/>
<text x="410.9" y="302.4" font-size="5.85" text-anchor="middle">2.98</text>
<path d="M341.2 293.0h1M411.2 293.0h-1" stroke="#333" stroke-width="0.3"/>
<text x="338.6" y="295.4" font-size="5.85" text-anchor="end">0</text>
<path d="M341.2 262.0h1M411.2 262.0h-1" stroke="#333" stroke-width="0.3"/>
<text x="338.6" y="264.4" font-size="5.85" text-anchor="end">1.25</text>
<path d="M341.2 230.6h1M411.2 230.6h-1" stroke="#333" stroke-width="0.3"/>
<text x="338.6" y="233.0" font-size="5.85" text-anchor="end">2.51</text>
<path d="M341.2 199.7h1M411.2 199.7h-1" stroke="#333" stroke-width="0.3"/>
<text x="338.6" y="202.1" font-size="5.85" text-anchor="end">3.76</text>
<path d="M341.2 172.0h1M411.2 172.0h-1" stroke="#333" stroke-width="0.3"/>
<text x="338.6" y="174.4" font-size="5.85" text-anchor="end">5.02</text>
<text x="376.2" y="309.6" font-size="6.5" text-anchor="middle">X/(km)</text>
<text x="325.5" y="232.5" font-size="6.5" text-anchor="middle" transform="rotate(-90 325.5 232.5)">Y/(km)</text>
<rect x="418.8" y="172.20" width="5.1" height="120.00" fill="#800000"/>
<rect x="418.8" y="175.95" width="5.1" height="116.25" fill="#a00000"/>
<rect x="418.8" y="179.70" width="5.1" height="112.50" fill="#c10000"/>
<rect x="418.8" y="183.45" width="5.1" height="108.75" fill="#e20000"/>
<rect x="418.8" y="187.20" width="5.1" height="105.00" fill="#ff0400"/>
<rect x="418.8" y="190.95" width="5.1" height="101.25" fill="#ff2500"/>
<rect x="418.8" y="194.70" width="5.1" height="97.50" fill="#ff4600"/>
<rect x="418.8" y="198.45" width="5.1" height="93.75" fill="#ff6700"/>
<rect x="418.8" y="202.20" width="5.1" height="90.00" fill="#ff8800"/>
<rect x="418.8" y="205.95" width="5.1" height="86.25" fill="#ffa900"/>
<rect x="418.8" y="209.70" width="5.1" height="82.50" fill="#ffca00"/>
<rect x="418.8" y="213.45" width="5.1" height="78.75" fill="#ffea00"/>
<rect x="418.8" y="217.20" width="5.1" height="75.00" fill="#f3ff0c"/>
<rect x="418.8" y="220.95" width="5.1" height="71.25" fill="#d2ff2d"/>
<rect x="418.8" y="224.70" width="5.1" height="67.50" fill="#b1ff4e"/>
<rect x="418.8" y="228.45" width="5.1" height="63.75" fill="#90ff6f"/>
<rect x="418.8" y="232.20" width="5.1" height="60.00" fill="#6fff90"/>
<rect x="418.8" y="235.95" width="5.1" height="56.25" fill="#4effb1"/>
<rect x="418.8" y="239.70" width="5.1" height="52.50" fill="#2dffd2"/>
<rect x="418.8" y="243.45" width="5.1" height="48.75" fill="#0cfff3"/>
<rect x="418.8" y="247.20" width="5.1" height="45.00" fill="#00eaff"/>
<rect x="418.8" y="250.95" width="5.1" height="41.25" fill="#00caff"/>
<rect x="418.8" y="254.70" width="5.1" height="37.50" fill="#00a9ff"/>
<rect x="418.8" y="258.45" width="5.1" height="33.75" fill="#0088ff"/>
<rect x="418.8" y="262.20" width="5.1" height="30.00" fill="#0067ff"/>
<rect x="418.8" y="265.95" width="5.1" height="26.25" fill="#0046ff"/>
<rect x="418.8" y="269.70" width="5.1" height="22.50" fill="#0025ff"/>
<rect x="418.8" y="273.45" width="5.1" height="18.75" fill="#0004ff"/>
<rect x="418.8" y="277.20" width="5.1" height="15.00" fill="#0000e2"/>
<rect x="418.8" y="280.95" width="5.1" height="11.25" fill="#0000c1"/>
<rect x="418.8" y="284.70" width="5.1" height="7.50" fill="#0000a0"/>
<rect x="418.8" y="288.45" width="5.1" height="3.75" fill="#000080"/>
<text x="425.5" y="178.0" font-size="5.6" text-anchor="start">700</text>
<text x="425.5" y="193.9" font-size="5.6" text-anchor="start">600</text>
<text x="425.5" y="210.1" font-size="5.6" text-anchor="start">500</text>
<text x="425.5" y="226.2" font-size="5.6" text-anchor="start">400</text>
<text x="425.5" y="241.9" font-size="5.6" text-anchor="start">300</text>
<text x="425.5" y="258.0" font-size="5.6" text-anchor="start">200</text>
<text x="425.5" y="274.0" font-size="5.6" text-anchor="start">100</text>
<text x="425.5" y="289.6" font-size="5.6" text-anchor="start">0</text>
<text x="421.4" y="169.6" font-size="5.6" text-anchor="middle">nT</text>
<g transform="translate(341.2,336.0)">
<rect x="0" y="0" width="70.0" height="121.0" fill="#000080"/>
<path d="M16.1 58.0 20.5 57.8 44.5 57.8 47.5 57.9 50 58.0 51 58.2 52.5 58.7 54.5 59.8 56 60.9 57 61.8 58.1 63.0 59.4 64.5 61.3 67.5 62.7 70.0 63.7 72.5 64.2 74.5 64.6 77.5 64.7 81.0 64.5 84.0 64.1 86.5 63.2 89.0 61.8 92.0 59.8 95.0 58 97.2 56 99.1 54 100.6 52.5 101.3 51.5 101.7 49.5 102.1 44 102.3 32 102.4 21 102.3 16 102.0 14.5 101.7 13.5 101.3 12 100.6 11 100.0 10 99.2 8.7 98.0 6.4 95.5 4.7 93.0 3.4 90.5 2.3 88.0 1.7 86.0 1.3 83.0 1.2 80.0 1.4 77.0 1.8 74.0 2.3 72.5 2.8 71.0 4.3 68.0 5.8 65.5 7.8 63.0 10 60.9 12 59.4 14 58.5 16 58.0Z" fill="#0000ff" stroke="#000" stroke-opacity="0.4" stroke-width="0.2" fill-rule="evenodd"/>
<path d="M16.6 61.0 18 61.0 20 61.1 25 62.0 27 62.2 29.5 62.4 33 62.4 36.5 62.4 39 62.2 41 62.0 46 61.1 48 61.0 49.5 61.0 50.5 61.2 51.5 61.4 52.5 61.9 53.5 62.4 54.5 63.1 55.5 64.0 56.9 65.5 58.4 67.5 59.8 70.0 60.6 72.0 61.1 74.0 61.6 77.0 61.7 80.0 61.5 83.5 61.2 86.0 60.4 88.5 59.2 91.0 57.6 93.5 56.4 95.0 54.8 96.5 53 97.8 52 98.2 51 98.6 50 98.8 49 98.9 46 98.9 41.5 98.3 39 98.1 33 98.0 27 98.1 24.5 98.3 19.5 98.9 16.5 98.9 15.5 98.7 14.5 98.5 13.5 98.1 12.5 97.5 11.5 96.8 10.5 96.0 9 94.5 7.6 92.5 6.4 90.5 5.3 88.0 4.7 86.0 4.4 83.5 4.2 80.0 4.4 76.5 4.8 74.0 5.5 71.5 6.7 69.0 8.2 66.5 9.5 64.9 11 63.4 12 62.7 13 62.1 14 61.6 15 61.3 16.5 61.0Z" fill="#0051ff" stroke="#000" stroke-opacity="0.4" stroke-width="0.2" fill-rule="evenodd"/>
<path d="M16.4 63.0 18 63.0 20 63.4 22 64.2 25 65.8 26.5 66.4 28.5 66.9 31 67.2 33 67.3 35 67.2 37 67.0 38.5 66.7 40.5 66.0 43.5 64.4 45 63.7 46.5 63.2 48 63.0 50 63.1 51.5 63.4 52.5 63.9 53.5 64.5 55 65.8 56.4 67.5 57.7 69.5 58.7 71.5 59.4 73.5 59.8 76.0 60 78.5 60 82.0 59.7 85.0 59.2 87.0 58.4 89.0 57.4 91.0 55.9 93.0 54.5 94.5 53 95.6 51.5 96.4 50.5 96.7 49.5 96.8 48 96.9 46 96.5 44 95.9 41 94.5 39.5 93.9 38 93.5 35.5 93.2 31.5 93.1 29.5 93.2 28 93.5 26 94.0 22 95.8 20.5 96.4 19 96.7 17.5 96.9 16.5 96.8 15.5 96.7 14 96.2 12.5 95.4 10.9 94.0 9.6 92.5 8.3 90.5 7.3 88.5 6.4 86.0 6.1 84.0 5.9 81.0 6 77.5 6.2 75.0 6.7 73.0 7.4 71.0 8.8 68.5 10 66.8 11.5 65.2 13 64.1 14.5 63.4 16 63.0Z" fill="#00a2ff" stroke="#000" stroke-opacity="0.4" stroke-width="0.2" fill-rule="evenodd"/>
<path d="M14.5 65.0 15.5 64.7 16.5 64.5 18 64.6 19 64.8 20 65.2 21 65.7 24.5 68.1 26.5 69.1 28 69.6 29.5 70.0 31 70.2 32.5 70.3 34 70.3 36 70.0 37.5 69.7 39 69.3 40.5 68.6 41.5 68.0 45.3 65.5 46.5 64.9 47.5 64.7 49 64.5 50.5 64.7 52 65.3 53.5 66.2 54.8 67.5 56 69.0 57.1 71.0 57.9 73.0 58.4 75.0 58.7 77.0 58.8 80.0 58.7 83.0 58.4 85.0 58.1 86.5 57.3 88.5 56.5 90.0 55.5 91.5 54.1 93.0 53 93.9 51.5 94.8 50.5 95.1 49.5 95.3 48 95.2 47 95.0 46 94.7 45 94.2 41.5 91.9 39.5 90.9 38 90.4 36.5 90.1 33.5 89.7 32 89.8 30 90.0 28.5 90.3 27 90.7 25 91.6 21.5 93.9 20.5 94.4 19.5 94.9 18.5 95.1 17 95.3 15.5 95.1 14 94.6 12.5 93.6 11.3 92.5 10 90.9 8.8 89.0 8 87.0 7.5 85.0 7.2 83.0 7.1 80.5 7.2 77.5 7.4 75.5 7.8 73.5 8.3 72.0 9.3 70.0 10.3 68.5 11.5 67.0 12.7 66.0 14 65.2Z" fill="#00f3ff" stroke="#000" stroke-opacity="0.4" stroke-width="0.2" fill-rule="evenodd"/>
<path d="M15.6 66.0 16.5 65.9 17.5 65.9 19 66.3 20.5 67.0 24 69.6 26.5 71.1 29.5 72.3 31 72.7 32.5 72.9 34 72.8 35.5 72.6 37 72.1 39 71.3 41.5 69.9 45.5 67.0 46.5 66.4 47.5 66.1 49 65.8 50.5 66.0 52 66.7 53 67.3 54.2 68.5 55.4 70.0 56.2 71.5 57 73.5 57.5 75.5 57.7 77.5 57.7 80.5 57.6 83.5 57.3 85.5 56.8 87.0 56 88.8 55 90.3 54 91.5 52.5 92.8 51.5 93.4 50 93.9 49 93.9 48 93.9 46.5 93.4 45 92.5 41.5 90.0 39.5 88.9 38 88.2 36.5 87.7 35 87.3 33.5 87.1 32 87.1 30.5 87.4 29 87.8 27 88.6 24.5 89.9 20.5 92.8 19.5 93.3 18.5 93.7 17 93.9 15.5 93.8 14 93.2 13 92.5 11.5 91.1 10.3 89.5 9.5 88.0 8.8 86.0 8.4 84.0 8.2 82.0 8.2 79.0 8.3 76.5 8.6 74.5 9 73.0 9.7 71.5 10.5 70.0 11.7 68.5 13 67.3 14 66.6 15.5 66.0Z" fill="#45ffba" stroke="#000" stroke-opacity="0.4" stroke-width="0.2" fill-rule="evenodd"/>
<path d="M14.8 67.5 16 67.1 17 67.1 18 67.2 19.5 67.8 21 68.8 24.5 71.6 28.4 74.5 31.5 77.1 32.5 77.6 33 77.7 33.5 77.6 34.5 77.0 36.9 75.0 41.5 71.6 45 68.7 46.5 67.8 48 67.2 49.5 67.1 51 67.4 52.1 68.0 53.3 69.0 54.5 70.4 55.5 72.0 56.1 73.5 56.4 75.0 56.7 77.0 56.8 79.5 56.8 82.0 56.6 84.0 56.3 85.5 55.8 87.0 55.1 88.5 54 90.0 53.1 91.0 52 91.8 51 92.3 49.5 92.7 48.5 92.7 47.5 92.5 46.5 92.0 45 91.1 41.5 88.3 34.5 83.2 33.5 82.7 33 82.6 32.5 82.6 31.5 83.1 24.5 88.2 20.5 91.4 19 92.2 17.5 92.7 16.5 92.7 15 92.4 13.5 91.5 12.3 90.5 11.1 89.0 10.3 87.5 9.7 86.0 9.4 84.5 9.1 82.5 9.1 78.0 9.3 76.0 9.6 74.5 10 73.0 10.5 71.9 11.3 70.5 12.1 69.5 13.2 68.5 14.5 67.6Z" fill="#96ff69" stroke="#000" stroke-opacity="0.4" stroke-width="0.2" fill-rule="evenodd"/>
<path d="M15.2 68.5 16.5 68.2 17 68.2 18 68.4 19.5 69.1 21 70.2 23.5 72.5 25.3 74.5 26 75.5 26.6 76.5 26.9 77.5 27.1 78.5 27.3 80.0 27.2 81.5 26.8 83.0 26 84.5 25.3 85.5 24.4 86.5 21.7 89.0 20 90.4 18.5 91.2 17 91.5 16 91.5 14.5 90.9 13.5 90.3 12.3 89.0 11.3 87.5 10.6 86.0 10.2 84.0 9.9 81.5 9.9 78.5 10.1 76.0 10.6 74.0 11.4 72.0 12.5 70.5 13.5 69.5 15 68.6ZM47.5 68.5 49 68.2 50 68.3 51.5 68.9 52.5 69.6 53.8 71.0 54.7 72.5 55.3 74.0 55.8 76.0 56 78.5 55.9 82.0 55.7 84.0 55.3 86.0 54.9 87.0 54.3 88.0 53.2 89.5 52 90.6 50.5 91.3 49 91.6 47.5 91.3 46 90.5 44.7 89.5 42 87.0 40.2 85.0 39.3 83.5 38.9 82.5 38.7 81.5 38.6 79.5 38.8 78.0 39.3 76.5 40.2 75.0 41.9 73.0 44.5 70.5 46 69.3 47.5 68.5Z" fill="#e8ff17" stroke="#000" stroke-opacity="0.4" stroke-width="0.2" fill-rule="evenodd"/>
<path d="M15.6 69.5 17 69.3 18 69.5 19.5 70.3 21 71.5 22.8 73.5 23.8 75.0 24.4 76.5 24.9 78.5 24.9 80.5 24.8 82.0 24.4 83.5 23.7 85.0 22.3 87.0 20.8 88.5 19.5 89.5 18 90.2 17 90.4 16.5 90.4 15.5 90.2 14.5 89.7 13.5 89.0 12.5 87.8 11.8 86.5 11.2 85.0 10.9 83.0 10.7 80.5 10.8 77.5 11.1 75.5 11.5 74.0 12.1 72.5 13 71.3 14 70.3 14.5 70.0 15.5 69.5ZM47.9 69.5 49 69.3 50 69.4 50.5 69.6 51.5 70.1 52.5 70.9 53.5 72.1 54.2 73.5 54.7 75.0 55 76.5 55.2 79.0 55.1 82.0 54.9 84.0 54.5 85.5 53.9 87.0 53 88.3 52 89.3 51.5 89.7 50.5 90.2 50 90.3 49 90.4 48 90.3 46.5 89.6 45.1 88.5 43.2 86.5 42.1 85.0 41.5 83.5 41.1 82.0 40.9 80.0 41.1 78.0 41.4 76.5 42.1 75.0 43.1 73.5 44.5 71.9 46 70.5 47.5 69.7Z" fill="#ffc500" stroke="#000" stroke-opacity="0.4" stroke-width="0.2" fill-rule="evenodd"/>
<path d="M16.1 70.5 17 70.4 17.5 70.5 18.5 70.8 20 71.9 21.1 73.0 21.8 74.0 22.6 75.5 23 77.0 23.3 79.0 23.3 81.0 23.1 82.5 22.7 84.0 22.3 85.0 21.3 86.5 20 87.9 18.5 88.9 17.5 89.2 16.5 89.3 15.5 89.1 14.5 88.5 13.4 87.5 12.7 86.5 12.1 85.0 11.7 83.5 11.6 82.0 11.5 79.5 11.7 77.0 11.9 75.5 12.4 74.0 13 72.8 14 71.6 15 70.9 16 70.5ZM48.4 70.5 49.5 70.4 50.5 70.7 51.5 71.3 52.5 72.2 53.3 73.5 53.7 74.5 54.1 76.0 54.3 77.5 54.4 80.0 54.3 82.5 54.1 84.0 53.6 85.5 53 86.8 52 88.0 51 88.8 50 89.2 49 89.3 48 89.2 46.7 88.5 45.5 87.5 44.2 86.0 43.4 84.5 42.9 83.0 42.6 81.5 42.6 79.5 42.7 78.0 43 76.5 43.5 75.0 44.4 73.5 45.5 72.3 47 71.1 48 70.6Z" fill="#ff7400" stroke="#000" stroke-opacity="0.4" stroke-width="0.2" fill-rule="evenodd"/>
<path d="M15.2 72.0 16 71.7 17 71.6 18 71.8 19 72.4 20 73.3 20.8 74.5 21.3 75.5 21.7 77.0 22 78.5 22 80.5 21.9 82.0 21.6 83.5 21 85.0 20.4 86.0 19.5 87.0 18.5 87.7 17.5 88.1 16.5 88.1 15.8 88.0 15 87.6 14.3 87.0 13.5 86.0 13 85.0 12.7 84.0 12.5 82.5 12.4 80.5 12.4 78.5 12.6 76.5 13 75.0 13.5 73.8 14 73.0 15 72.1ZM47.5 72.0 48.5 71.6 49.5 71.6 50.5 71.9 51 72.2 51.9 73.0 52.5 73.9 53 75.0 53.3 76.5 53.5 78.5 53.6 80.5 53.4 82.5 53.2 84.0 52.7 85.5 52.1 86.5 51.5 87.1 50.5 87.8 49.5 88.1 48.5 88.1 47.5 87.7 46.5 87.0 45.5 86.0 44.9 85.0 44.5 84.0 44.1 82.5 43.9 81.0 43.9 79.0 44.1 77.5 44.4 76.0 45.1 74.5 45.8 73.5 46.5 72.7 47.5 72.0Z" fill="#ff2300" stroke="#000" stroke-opacity="0.4" stroke-width="0.2" fill-rule="evenodd"/>
<path d="M16 73.0 17 72.9 17.5 73.0 18.5 73.5 19 73.9 19.5 74.6 20 75.5 20.4 76.5 20.7 78.0 20.8 79.5 20.7 81.5 20.5 83.0 20.2 84.0 19.7 85.0 19 85.8 18.1 86.5 17.5 86.8 16.5 86.9 16 86.7 15.5 86.5 15 86.1 14.5 85.6 14 84.7 13.7 84.0 13.3 82.0 13.3 80.5 13.3 78.5 13.5 77.0 13.7 76.0 14 75.0 14.5 74.2 15.2 73.5 16 73.0ZM48.3 73.0 49 72.9 49.5 72.9 50.5 73.3 51 73.7 51.5 74.3 52 75.3 52.4 76.5 52.5 77.5 52.6 79.0 52.6 81.0 52.5 82.5 52.3 83.5 52 84.5 51.5 85.5 51 86.0 50.5 86.4 50 86.7 49.5 86.8 48.5 86.8 47.8 86.5 47 85.9 46.5 85.4 46 84.5 45.6 83.5 45.2 82.0 45.1 80.5 45.1 79.0 45.3 77.5 45.5 76.5 45.9 75.5 46.5 74.4 47.4 73.5 48 73.1Z" fill="#d10000" stroke="#000" stroke-opacity="0.4" stroke-width="0.2" fill-rule="evenodd"/>
<path d="M15.7 75.0 16.5 74.6 17 74.6 17.5 74.7 17.9 75.0 18.4 75.5 18.7 76.0 19.2 77.5 19.5 79.5 19.4 81.0 19.3 82.0 18.9 83.5 18.5 84.2 18 84.7 17.5 85.1 17 85.2 16.5 85.2 16 85.0 15.5 84.6 15.1 84.0 14.7 83.0 14.5 82.0 14.4 81.0 14.4 79.5 14.5 78.0 14.8 76.5 15 76.0 15.5 75.2ZM48 75.0 48.5 74.7 49 74.6 49.5 74.6 50 74.9 50.6 75.5 51 76.2 51.3 77.0 51.5 79.0 51.5 81.5 51.3 82.5 51.1 83.5 50.5 84.5 50 84.9 49.5 85.2 49 85.2 48.5 85.1 48 84.8 47.5 84.3 47 83.5 46.8 83.0 46.6 82.0 46.5 81.0 46.5 78.6 46.7 77.5 47 76.5 47.5 75.5Z" fill="#800000" stroke="#000" stroke-opacity="0.4" stroke-width="0.2" fill-rule="evenodd"/>
</g>
<rect x="341.2" y="336.0" width="70.0" height="121.0" fill="none" stroke="#222" stroke-width="0.3"/>
<path d="M341.2 457.0v-1M341.2 336.0v1" stroke="#333" stroke-width="0.3"/>
<text x="341.2" y="466.4" font-size="5.85" text-anchor="middle">0</text>
<path d="M359.1 457.0v-1M359.1 336.0v1" stroke="#333" stroke-width="0.3"/>
<text x="359.1" y="466.4" font-size="5.85" text-anchor="middle">0.74</text>
<path d="M377.2 457.0v-1M377.2 336.0v1" stroke="#333" stroke-width="0.3"/>
<text x="377.2" y="466.4" font-size="5.85" text-anchor="middle">1.49</text>
<path d="M395.3 457.0v-1M395.3 336.0v1" stroke="#333" stroke-width="0.3"/>
<text x="395.3" y="466.4" font-size="5.85" text-anchor="middle">2.23</text>
<path d="M410.9 457.0v-1M410.9 336.0v1" stroke="#333" stroke-width="0.3"/>
<text x="410.9" y="466.4" font-size="5.85" text-anchor="middle">2.98</text>
<path d="M341.2 457.0h1M411.2 457.0h-1" stroke="#333" stroke-width="0.3"/>
<text x="338.6" y="459.4" font-size="5.85" text-anchor="end">0</text>
<path d="M341.2 426.0h1M411.2 426.0h-1" stroke="#333" stroke-width="0.3"/>
<text x="338.6" y="428.4" font-size="5.85" text-anchor="end">1.25</text>
<path d="M341.2 394.6h1M411.2 394.6h-1" stroke="#333" stroke-width="0.3"/>
<text x="338.6" y="397.0" font-size="5.85" text-anchor="end">2.51</text>
<path d="M341.2 363.7h1M411.2 363.7h-1" stroke="#333" stroke-width="0.3"/>
<text x="338.6" y="366.1" font-size="5.85" text-anchor="end">3.76</text>
<path d="M341.2 336.0h1M411.2 336.0h-1" stroke="#333" stroke-width="0.3"/>
<text x="338.6" y="338.4" font-size="5.85" text-anchor="end">5.02</text>
<text x="376.2" y="473.6" font-size="6.5" text-anchor="middle">X/(km)</text>
<text x="325.5" y="396.5" font-size="6.5" text-anchor="middle" transform="rotate(-90 325.5 396.5)">Y/(km)</text>
<rect x="418.8" y="336.20" width="5.1" height="120.00" fill="#800000"/>
<rect x="418.8" y="339.95" width="5.1" height="116.25" fill="#a00000"/>
<rect x="418.8" y="343.70" width="5.1" height="112.50" fill="#c10000"/>
<rect x="418.8" y="347.45" width="5.1" height="108.75" fill="#e20000"/>
<rect x="418.8" y="351.20" width="5.1" height="105.00" fill="#ff0400"/>
<rect x="418.8" y="354.95" width="5.1" height="101.25" fill="#ff2500"/>
<rect x="418.8" y="358.70" width="5.1" height="97.50" fill="#ff4600"/>
<rect x="418.8" y="362.45" width="5.1" height="93.75" fill="#ff6700"/>
<rect x="418.8" y="366.20" width="5.1" height="90.00" fill="#ff8800"/>
<rect x="418.8" y="369.95" width="5.1" height="86.25" fill="#ffa900"/>
<rect x="418.8" y="373.70" width="5.1" height="82.50" fill="#ffca00"/>
<rect x="418.8" y="377.45" width="5.1" height="78.75" fill="#ffea00"/>
<rect x="418.8" y="381.20" width="5.1" height="75.00" fill="#f3ff0c"/>
<rect x="418.8" y="384.95" width="5.1" height="71.25" fill="#d2ff2d"/>
<rect x="418.8" y="388.70" width="5.1" height="67.50" fill="#b1ff4e"/>
<rect x="418.8" y="392.45" width="5.1" height="63.75" fill="#90ff6f"/>
<rect x="418.8" y="396.20" width="5.1" height="60.00" fill="#6fff90"/>
<rect x="418.8" y="399.95" width="5.1" height="56.25" fill="#4effb1"/>
<rect x="418.8" y="403.70" width="5.1" height="52.50" fill="#2dffd2"/>
<rect x="418.8" y="407.45" width="5.1" height="48.75" fill="#0cfff3"/>
<rect x="418.8" y="411.20" width="5.1" height="45.00" fill="#00eaff"/>
<rect x="418.8" y="414.95" width="5.1" height="41.25" fill="#00caff"/>
<rect x="418.8" y="418.70" width="5.1" height="37.50" fill="#00a9ff"/>
<rect x="418.8" y="422.45" width="5.1" height="33.75" fill="#0088ff"/>
<rect x="418.8" y="426.20" width="5.1" height="30.00" fill="#0067ff"/>
<rect x="418.8" y="429.95" width="5.1" height="26.25" fill="#0046ff"/>
<rect x="418.8" y="433.70" width="5.1" height="22.50" fill="#0025ff"/>
<rect x="418.8" y="437.45" width="5.1" height="18.75" fill="#0004ff"/>
<rect x="418.8" y="441.20" width="5.1" height="15.00" fill="#0000e2"/>
<rect x="418.8" y="444.95" width="5.1" height="11.25" fill="#0000c1"/>
<rect x="418.8" y="448.70" width="5.1" height="7.50" fill="#0000a0"/>
<rect x="418.8" y="452.45" width="5.1" height="3.75" fill="#000080"/>
<text x="425.5" y="338.6" font-size="5.6" text-anchor="start">700</text>
<text x="425.5" y="355.2" font-size="5.6" text-anchor="start">600</text>
<text x="425.5" y="371.5" font-size="5.6" text-anchor="start">500</text>
<text x="425.5" y="387.9" font-size="5.6" text-anchor="start">400</text>
<text x="425.5" y="404.7" font-size="5.6" text-anchor="start">300</text>
<text x="425.5" y="421.1" font-size="5.6" text-anchor="start">200</text>
<text x="425.5" y="437.6" font-size="5.6" text-anchor="start">100</text>
<text x="425.5" y="454.4" font-size="5.6" text-anchor="start">0</text>
<text x="421.4" y="333.6" font-size="5.6" text-anchor="middle">nT</text>
<g transform="translate(461.2,172.0)">
<rect x="0" y="0" width="70.0" height="121.0" fill="#000080"/>
<path d="M27.3 48.5 30 48.2 33 48.3 36.5 48.7 37.4 49.0 38.5 49.2 39.5 49.5 40.5 49.7 43.5 50.8 46.5 52.1 50 54.2 52 55.6 54.5 57.7 57.3 60.5 59.3 63.0 61.4 66.0 62.8 68.5 64.3 72.0 65.3 75.0 65.5 76.1 65.8 77.0 66 78.5 66.2 79.5 66.5 82.0 66.5 86.0 66.3 88.0 65.8 91.0 64.8 94.5 63.8 97.0 62.7 99.0 61.8 100.5 60.4 102.5 58.7 104.5 57 106.2 54.5 108.2 53 109.2 51 110.4 48 111.7 44.5 112.8 42 113.4 38.5 113.7 35.5 113.7 32 113.4 29 112.8 27 112.3 24.5 111.4 21 109.8 18.5 108.4 15.5 106.3 12.5 103.7 10.8 102.0 8.7 99.5 7.2 97.5 6.2 96.0 5.1 94.0 3.7 91.0 2.8 88.5 2.2 86.5 2 85.5 1.7 84.5 1.2 81.0 1.1 78.0 1.2 74.5 1.7 71.5 2.6 68.0 3.6 65.5 5.1 62.5 6.8 60.0 7.6 59.0 9.4 57.0 11.5 55.1 12.5 54.2 15.5 52.2 18.5 50.7 21 49.8 23 49.2 25 48.7 27 48.5Z" fill="#0007ff" stroke="#000" stroke-opacity="0.6" stroke-width="0.3" fill-rule="evenodd"/>
<path d="M25.7 53.0 27 52.7 28 52.6 31.5 52.5 34 52.7 37.5 53.2 40 53.7 43 54.7 45.5 55.8 48 57.2 49.5 58.2 52.5 60.6 54.9 63.0 56.9 65.5 58.2 67.5 59.3 69.5 59.5 70.0 59.8 70.5 60 71.0 60.3 71.5 61.4 74.5 61.8 76.0 62.3 78.5 62.7 82.0 62.7 85.0 62.3 88.0 61.8 90.5 60.7 93.5 59.2 96.5 58.3 98.0 56.4 100.5 54 102.8 52 104.4 50.5 105.4 47.5 106.9 45 107.8 42.5 108.3 39 108.7 35.5 108.8 33 108.7 29.5 108.3 27.5 107.9 26.5 107.5 25.5 107.3 23 106.2 21 105.2 18 103.3 16 101.7 14.5 100.3 12.8 98.5 11.2 96.5 9.2 93.5 7.7 90.5 7.1 89.0 7 88.5 6.7 88.0 6.5 87.0 6.1 86.0 6 85.1 5.7 84.0 5.3 81.5 5.2 79.0 5.2 76.5 5.7 73.0 6 72.0 6.2 71.0 7.2 68.0 7.5 67.5 7.7 67.0 8 66.5 8.1 66.0 9.6 63.5 11.1 61.5 13 59.5 15 57.8 16.5 56.7 18 55.7 20 54.7 21.5 54.1 22 54.0 22.5 53.8 24.5 53.2 25.5 53.0Z" fill="#0060ff" stroke="#000" stroke-opacity="0.6" stroke-width="0.3" fill-rule="evenodd"/>
<path d="M25.8 55.0 28.5 54.6 31 54.6 33.5 54.8 38 55.4 40.5 55.8 42.5 56.4 44.5 57.2 46.5 58.2 48.5 59.4 50.5 60.8 52.5 62.6 54.3 64.5 56 66.8 57.4 69.0 58.4 71.0 59.5 73.5 60.2 76.0 60.8 78.5 61.1 81.5 61 84.0 60.8 86.5 60.3 89.0 59.5 91.5 58.6 93.5 57.5 95.5 56 97.7 54.4 99.5 52.5 101.2 50.5 102.6 48.5 103.7 46.5 104.5 44 105.2 42.5 105.4 41 105.6 36.5 105.5 32 105.8 30 105.8 28 105.5 26 105.1 24 104.4 22.5 103.7 20 102.3 18 101.0 16 99.3 14.3 97.5 12.5 95.3 11 93.0 9.9 91.0 8.8 88.5 8 86.0 7.5 83.5 7.2 81.0 7.1 78.0 7.3 75.0 7.8 72.5 8.6 70.0 9.6 67.5 11 65.1 12.5 63.0 14.3 61.0 16 59.5 18.2 58.0 20.5 56.7 23 55.7 25.5 55.1Z" fill="#00b8ff" stroke="#000" stroke-opacity="0.6" stroke-width="0.3" fill-rule="evenodd"/>
<path d="M26.3 57.0 28.5 56.7 30.5 56.7 39.5 57.7 41.5 58.0 43 58.4 44.5 59.0 46 59.7 48 60.8 49.5 61.9 51.4 63.5 52.9 65.0 54.2 66.5 55.6 68.5 56.7 70.5 57.6 72.5 58.4 74.5 59 77.0 59.4 79.5 59.6 82.0 59.4 84.5 59 87.0 58.3 89.5 57.5 91.5 56.5 93.5 55.1 95.5 53.5 97.4 52 98.7 50.5 99.8 48.5 100.9 46.5 101.7 44.5 102.2 43 102.3 41.5 102.4 37.5 101.9 36 101.9 34.5 102.1 31.5 102.8 29 103.0 26.5 102.7 25 102.4 23.5 101.9 21.5 100.9 19.5 99.7 17.5 98.2 16 96.8 14.4 95.0 13 93.0 11.8 91.0 10.9 89.0 10 86.5 9.4 84.0 9 81.5 8.9 79.0 9 76.5 9.4 74.0 10.1 71.5 11.1 69.0 12.4 66.5 13.8 64.5 15.5 62.6 17.3 61.0 19.5 59.5 21.5 58.5 23.5 57.7 26 57.1Z" fill="#12ffed" stroke="#000" stroke-opacity="0.6" stroke-width="0.3" fill-rule="evenodd"/>
<path d="M27.8 59.0 29.5 59.0 31 59.1 36 59.8 39.5 59.8 41 59.9 43.5 60.5 46 61.5 48 62.6 49.5 63.7 51 65.0 52.4 66.5 53.6 68.0 54.9 70.0 55.7 71.5 56.6 73.5 57.2 75.5 57.7 77.5 58 80.0 58 82.0 57.8 84.5 57.4 86.5 56.8 88.5 56 90.5 54.8 92.5 53.5 94.3 52 95.8 50.5 97.0 49 97.9 47 98.8 45.5 99.2 43.5 99.4 41.5 99.4 37.5 99.0 36 99.0 34.5 99.2 30.5 100.1 28 100.3 26 100.1 23.5 99.5 21.5 98.6 20 97.7 18.5 96.5 17 95.1 15.6 93.5 14.5 92.0 13.3 90.0 12.4 88.0 11.7 86.0 11.1 83.5 10.7 81.0 10.7 78.5 10.9 76.0 11.4 73.5 12.3 71.0 13.2 69.0 14.5 66.9 16 65.0 17.5 63.5 19.4 62.0 21.5 60.7 23.5 59.9 25.5 59.3 27.5 59.0Z" fill="#6aff95" stroke="#000" stroke-opacity="0.6" stroke-width="0.3" fill-rule="evenodd"/>
<path d="M25.8 61.5 27.5 61.3 29.5 61.2 31 61.4 35.5 62.3 37 62.3 41 62.1 42.5 62.2 44.5 62.7 46 63.3 47 63.9 48.5 64.9 49.5 65.7 50.5 66.6 51.8 68.0 52.9 69.5 53.9 71.0 54.8 73.0 55.6 75.0 56.1 77.0 56.4 79.0 56.5 81.0 56.4 83.0 56.1 85.0 55.5 87.0 54.7 89.0 53.8 90.5 52.7 92.0 51.5 93.3 50 94.5 48.5 95.5 47 96.1 45 96.7 43.5 97.0 41.5 97.1 37.5 96.8 36 96.8 34.5 97.0 31 97.7 29 97.9 27 97.8 25 97.5 23.5 97.1 22 96.4 21 95.8 19.5 94.8 18.1 93.5 17 92.3 16 91.0 15.1 89.5 14.1 87.5 13.4 85.5 12.8 83.0 12.5 81.0 12.5 78.5 12.7 76.5 13.1 74.5 13.7 72.5 14.6 70.5 15.7 68.5 17 66.8 18.5 65.3 20.1 64.0 22 62.8 23.5 62.2 25.5 61.6Z" fill="#c3ff3c" stroke="#000" stroke-opacity="0.6" stroke-width="0.3" fill-rule="evenodd"/>
<path d="M26.3 63.5 28.5 63.3 30.5 63.5 34.5 64.3 36.5 64.5 41.5 64.2 44 64.5 45.4 65.0 46.5 65.5 48 66.5 48.7 67.0 50.5 68.7 51.5 69.9 52.5 71.4 53.5 73.4 54 74.7 54.5 76.5 54.9 79.0 55 80.5 54.9 82.0 54.5 84.5 54 86.0 53.5 87.3 52.5 89.1 51.5 90.4 50.5 91.4 48.5 93.0 46.6 94.0 45 94.5 43 94.9 41.5 95.0 37.5 94.7 36 94.7 35 94.8 31.9 95.5 29 95.8 27.5 95.8 25.5 95.5 24 95.0 22.8 94.5 21 93.5 20.4 93.0 19 91.7 18 90.6 17.5 90.0 16.5 88.5 16 87.5 15 84.9 14.5 82.9 14.3 81.0 14.2 79.0 14.5 76.5 15 74.3 15.5 72.8 16 71.7 17 69.9 18.5 68.0 20 66.5 21.4 65.5 23 64.6 24.5 64.0 26 63.6Z" fill="#ffe300" stroke="#000" stroke-opacity="0.6" stroke-width="0.3" fill-rule="evenodd"/>
<path d="M25.7 66.5 27.5 66.2 29 66.1 31 66.3 34.5 67.3 36 67.5 37.5 67.6 41 67.2 42.5 67.2 43.5 67.4 45 67.8 46 68.2 47 68.8 48.5 70.0 49.5 71.0 50.3 72.0 51.2 73.5 51.9 75.0 52.3 76.5 52.6 78.0 52.8 79.5 52.7 81.0 52.3 83.5 51.7 85.0 50.9 86.5 50 87.9 49 88.9 48 89.8 46.5 90.8 45.5 91.2 44 91.7 43 91.9 41.5 92.0 37.5 91.6 36 91.7 34.5 91.9 32 92.6 30.5 92.9 28.5 93.1 27 93.0 26 92.8 24.5 92.3 22.5 91.2 21.5 90.5 20.5 89.6 19.2 88.0 18.3 86.5 17.8 85.5 17.2 84.0 16.8 82.0 16.6 80.5 16.6 78.5 16.8 77.0 17.2 75.5 17.7 74.0 18.4 72.5 19.4 71.0 20.2 70.0 21.5 68.7 23 67.7 24 67.1 25.5 66.6Z" fill="#ff8a00" stroke="#000" stroke-opacity="0.6" stroke-width="0.3" fill-rule="evenodd"/>
<path d="M26 69.0 27 68.7 28 68.6 30 68.7 32 69.2 35 70.2 36.5 70.4 37.5 70.4 41 70.0 43 70.1 44.5 70.5 46 71.2 47 72.0 48 72.9 49.2 74.5 49.7 75.5 50.2 77.0 50.4 78.0 50.5 79.5 50.4 81.0 50.2 82.0 49.8 83.5 49.3 84.5 48.6 85.5 48 86.3 47 87.3 46 88.0 45 88.5 44 88.9 42.5 89.1 41.5 89.2 37.5 88.8 36 88.8 35 89.0 31 90.3 29.5 90.5 28 90.6 26 90.2 24.5 89.6 23 88.7 21.7 87.5 20.9 86.5 20.2 85.5 19.7 84.5 19 82.5 18.8 81.0 18.7 79.5 18.8 78.0 19.1 76.5 19.6 75.0 20.4 73.5 21.1 72.5 21.9 71.5 23 70.5 24 69.9 25 69.4 26 69.0Z" fill="#ff3200" stroke="#000" stroke-opacity="0.6" stroke-width="0.3" fill-rule="evenodd"/>
<path d="M26.9 71.0 28.5 70.8 29.5 70.8 30.5 71.0 32 71.5 35 72.7 36.5 73.1 37.5 73.1 41 72.6 42.5 72.6 43.5 72.8 44.5 73.2 46 74.2 47.1 75.5 47.7 76.5 48 77.3 48.4 79.0 48.4 80.0 48.2 81.0 48 82.0 47.5 83.0 46.5 84.5 46 85.0 45 85.7 43.5 86.4 42.5 86.6 41.5 86.7 40 86.5 37.5 86.1 36 86.2 35 86.5 32.5 87.5 31 88.1 29.5 88.4 28.5 88.4 27 88.2 26 87.9 24.5 87.2 23.5 86.4 22.6 85.5 22 84.7 21.3 83.5 21 82.5 20.5 80.5 20.5 79.0 20.6 78.0 21 76.6 21.4 75.5 22 74.5 22.8 73.5 23.5 72.8 24.5 72.0 25.5 71.5 26.5 71.1Z" fill="#d80000" stroke="#000" stroke-opacity="0.6" stroke-width="0.3" fill-rule="evenodd"/>
<path d="M27.9 73.0 29.5 73.0 31.2 73.5 33.1 74.5 35 75.8 35.5 76.0 36 76.3 36.5 76.4 37.5 76.4 38.4 76.0 39.5 75.7 40 75.5 41 75.4 42.9 75.5 44 76.0 45 77.0 45.5 77.8 45.8 79.0 45.9 80.0 45.5 81.5 44.5 82.7 43.4 83.5 42 83.8 41 83.8 39.3 83.5 38.5 83.1 37 82.8 36.5 82.8 35.5 83.1 34.9 83.5 34.5 83.7 33.4 84.5 31.6 85.5 30.4 86.0 29.5 86.1 28.5 86.1 27 86.0 25.8 85.5 25 85.0 23.5 83.5 23.3 83.0 23 82.5 22.5 81.0 22.4 79.5 22.5 78.0 23.1 76.5 24 75.1 24.5 74.6 26 73.6 27.5 73.1Z" fill="#800000" stroke="#000" stroke-opacity="0.6" stroke-width="0.3" fill-rule="evenodd"/>
</g>
<rect x="461.2" y="172.0" width="70.0" height="121.0" fill="none" stroke="#222" stroke-width="0.3"/>
<path d="M461.2 293.0v-1M461.2 172.0v1" stroke="#333" stroke-width="0.3"/>
<text x="461.2" y="302.4" font-size="5.85" text-anchor="middle">0</text>
<path d="M479.1 293.0v-1M479.1 172.0v1" stroke="#333" stroke-width="0.3"/>
<text x="479.1" y="302.4" font-size="5.85" text-anchor="middle">0.74</text>
<path d="M497.2 293.0v-1M497.2 172.0v1" stroke="#333" stroke-width="0.3"/>
<text x="497.2" y="302.4" font-size="5.85" text-anchor="middle">1.49</text>
<path d="M515.3 293.0v-1M515.3 172.0v1" stroke="#333" stroke-width="0.3"/>
<text x="515.3" y="302.4" font-size="5.85" text-anchor="middle">2.23</text>
<path d="M530.9 293.0v-1M530.9 172.0v1" stroke="#333" stroke-width="0.3"/>
<text x="530.9" y="302.4" font-size="5.85" text-anchor="middle">2.98</text>
<path d="M461.2 293.0h1M531.2 293.0h-1" stroke="#333" stroke-width="0.3"/>
<text x="458.6" y="295.4" font-size="5.85" text-anchor="end">0</text>
<path d="M461.2 262.0h1M531.2 262.0h-1" stroke="#333" stroke-width="0.3"/>
<text x="458.6" y="264.4" font-size="5.85" text-anchor="end">1.25</text>
<path d="M461.2 230.6h1M531.2 230.6h-1" stroke="#333" stroke-width="0.3"/>
<text x="458.6" y="233.0" font-size="5.85" text-anchor="end">2.51</text>
<path d="M461.2 199.7h1M531.2 199.7h-1" stroke="#333" stroke-width="0.3"/>
<text x="458.6" y="202.1" font-size="5.85" text-anchor="end">3.76</text>
<path d="M461.2 172.0h1M531.2 172.0h-1" stroke="#333" stroke-width="0.3"/>
<text x="458.6" y="174.4" font-size="5.85" text-anchor="end">5.02</text>
<text x="496.2" y="309.6" font-size="6.5" text-anchor="middle">X/(km)</text>
<text x="445.5" y="232.5" font-size="6.5" text-anchor="middle" transform="rotate(-90 445.5 232.5)">Y/(km)</text>
<rect x="538.4" y="172.20" width="5.5" height="120.00" fill="#800000"/>
<rect x="538.4" y="175.95" width="5.5" height="116.25" fill="#a00000"/>
<rect x="538.4" y="179.70" width="5.5" height="112.50" fill="#c10000"/>
<rect x="538.4" y="183.45" width="5.5" height="108.75" fill="#e20000"/>
<rect x="538.4" y="187.20" width="5.5" height="105.00" fill="#ff0400"/>
<rect x="538.4" y="190.95" width="5.5" height="101.25" fill="#ff2500"/>
<rect x="538.4" y="194.70" width="5.5" height="97.50" fill="#ff4600"/>
<rect x="538.4" y="198.45" width="5.5" height="93.75" fill="#ff6700"/>
<rect x="538.4" y="202.20" width="5.5" height="90.00" fill="#ff8800"/>
<rect x="538.4" y="205.95" width="5.5" height="86.25" fill="#ffa900"/>
<rect x="538.4" y="209.70" width="5.5" height="82.50" fill="#ffca00"/>
<rect x="538.4" y="213.45" width="5.5" height="78.75" fill="#ffea00"/>
<rect x="538.4" y="217.20" width="5.5" height="75.00" fill="#f3ff0c"/>
<rect x="538.4" y="220.95" width="5.5" height="71.25" fill="#d2ff2d"/>
<rect x="538.4" y="224.70" width="5.5" height="67.50" fill="#b1ff4e"/>
<rect x="538.4" y="228.45" width="5.5" height="63.75" fill="#90ff6f"/>
<rect x="538.4" y="232.20" width="5.5" height="60.00" fill="#6fff90"/>
<rect x="538.4" y="235.95" width="5.5" height="56.25" fill="#4effb1"/>
<rect x="538.4" y="239.70" width="5.5" height="52.50" fill="#2dffd2"/>
<rect x="538.4" y="243.45" width="5.5" height="48.75" fill="#0cfff3"/>
<rect x="538.4" y="247.20" width="5.5" height="45.00" fill="#00eaff"/>
<rect x="538.4" y="250.95" width="5.5" height="41.25" fill="#00caff"/>
<rect x="538.4" y="254.70" width="5.5" height="37.50" fill="#00a9ff"/>
<rect x="538.4" y="258.45" width="5.5" height="33.75" fill="#0088ff"/>
<rect x="538.4" y="262.20" width="5.5" height="30.00" fill="#0067ff"/>
<rect x="538.4" y="265.95" width="5.5" height="26.25" fill="#0046ff"/>
<rect x="538.4" y="269.70" width="5.5" height="22.50" fill="#0025ff"/>
<rect x="538.4" y="273.45" width="5.5" height="18.75" fill="#0004ff"/>
<rect x="538.4" y="277.20" width="5.5" height="15.00" fill="#0000e2"/>
<rect x="538.4" y="280.95" width="5.5" height="11.25" fill="#0000c1"/>
<rect x="538.4" y="284.70" width="5.5" height="7.50" fill="#0000a0"/>
<rect x="538.4" y="288.45" width="5.5" height="3.75" fill="#000080"/>
<text x="545.5" y="180.2" font-size="5.6" text-anchor="start">6</text>
<text x="545.5" y="198.7" font-size="5.6" text-anchor="start">5</text>
<text x="545.5" y="217.3" font-size="5.6" text-anchor="start">4</text>
<text x="545.5" y="235.4" font-size="5.6" text-anchor="start">3</text>
<text x="545.5" y="253.7" font-size="5.6" text-anchor="start">2</text>
<text x="545.5" y="272.2" font-size="5.6" text-anchor="start">1</text>
<text x="545.5" y="290.7" font-size="5.6" text-anchor="start">0</text>
<text x="541.1" y="169.6" font-size="5.6" text-anchor="middle">nT</text>
<g transform="translate(461.2,336.0)">
<rect x="0" y="0" width="70.0" height="121.0" fill="#000080"/>
<path d="M35.2 42.0 36 42.0 39 42.2 42 42.7 45.5 43.7 48 44.7 51 46.2 52.5 47.1 54.5 48.7 57.4 51.5 58.8 53.0 60.3 55.0 62.3 58.0 64.4 61.5 65.8 64.5 66.8 67.0 67.8 70.5 68.3 73.5 68.6 77.0 68.7 80.5 68.4 85.5 67.8 89.0 67.5 90.0 67.3 91.0 66.3 94.0 65.3 96.5 64.4 98.5 62.7 101.5 61.7 103.0 60.2 105.0 58.8 106.5 57 108.2 55.5 109.4 54 110.3 52 111.3 49 112.3 46.5 112.8 42 113.2 39 113.4 34.5 113.3 31 112.9 28.5 112.3 25 111.3 21.5 109.9 17.5 107.9 14 105.8 10.5 103.3 8 101.1 6 99.0 5.2 98.0 3.6 95.5 2.2 92.5 1.2 89.5 0.6 87.5 0.3 85.5 0.1 83.5 0 81.0 0.1 78.5 0.7 75.5 1.2 73.5 2.2 70.5 3.2 68.5 4.1 67.0 5.7 65.0 9 61.6 12 59.0 15 56.2 16.5 54.6 20.1 50.0 22 47.9 24 46.2 25.5 45.2 26.5 44.6 29.5 43.3 31 42.7 33 42.2 35 42.0Z" fill="#0007ff" stroke="#000" stroke-opacity="0.6" stroke-width="0.3" fill-rule="evenodd"/>
<path d="M32.1 48.0 33.5 47.6 36 47.5 38.5 47.7 41.5 48.2 44.5 49.2 47 50.2 49.5 51.7 51 52.7 52.5 54.1 54.9 56.5 56.8 59.0 57.9 60.5 59.7 63.5 60.8 65.5 61.8 68.0 62.8 71.0 63 72.4 63.3 73.5 63.7 77.5 63.7 81.0 63.4 85.0 62.9 88.0 62.5 89.1 62.3 90.0 61.8 91.5 61.5 92.1 60.8 94.0 60.5 94.5 60.3 95.0 60 95.5 59.8 96.0 58.4 98.5 57.3 100.0 55 102.7 52.5 104.8 51 105.7 48.5 106.8 47 107.3 44 107.9 39.5 108.2 37 108.3 34.5 108.2 31.5 107.8 27.5 106.8 24.5 105.7 23.5 105.3 23 105.0 22.5 104.8 22 104.5 21.5 104.3 21 104.0 20.5 103.8 18 102.4 16 101.0 15.5 100.8 13 98.8 10.6 96.5 8.7 94.0 7.6 92.0 7.1 91.0 7 90.5 6.7 90.0 6.5 89.2 6.2 88.5 6 87.5 5.7 86.5 5.2 84.0 5.1 82.5 5.1 79.5 5.3 77.5 5.8 75.0 6 74.5 6.2 73.5 6.5 72.9 6.7 72.0 7.7 70.0 8.6 68.5 10.2 66.5 11.6 65.0 18 59.2 19.5 57.5 22.3 54.0 24.5 51.8 26 50.6 27.5 49.7 30 48.6 30.5 48.5 31 48.2 32 48.0Z" fill="#0060ff" stroke="#000" stroke-opacity="0.6" stroke-width="0.3" fill-rule="evenodd"/>
<path d="M31.9 50.5 33.5 50.2 35.5 50.1 38 50.3 41 50.9 43.5 51.6 46 52.7 48 53.9 50 55.3 52 56.9 53.5 58.5 55.2 60.5 57.3 63.5 58.8 66.0 59.7 68.0 60.6 70.5 61.2 72.5 61.7 75.0 61.9 77.5 61.9 80.5 61.8 83.5 61.3 86.5 60.9 88.5 60.2 90.5 59.2 93.0 58.2 95.0 56.7 97.5 55.2 99.5 53.5 101.3 51.5 102.9 50 103.9 48 104.8 46 105.4 43.5 105.8 40.5 106.1 37 106.2 34.5 106.1 32 105.7 28.5 104.9 25.5 103.8 23 102.7 20 101.2 17 99.3 14.5 97.5 12.5 95.6 10.8 93.5 9.6 91.5 8.6 89.5 7.6 86.5 7.1 84.0 6.9 81.5 6.9 79.5 7.2 77.0 7.7 74.5 8.4 72.5 9.3 70.5 10.2 69.0 11.4 67.5 13 65.7 19 60.3 22.5 56.2 24.5 54.2 26.5 52.7 27.5 52.1 29.5 51.2 31.5 50.6Z" fill="#00b8ff" stroke="#000" stroke-opacity="0.6" stroke-width="0.3" fill-rule="evenodd"/>
<path d="M32.5 52.5 34.5 52.4 37 52.6 40 53.0 42 53.5 44 54.3 45.5 55.1 50.5 58.4 52.5 60.2 54 61.9 55.5 63.8 57 66.0 58 68.0 58.9 70.0 59.6 72.0 60 74.0 60.4 76.5 60.6 79.0 60.5 82.0 60.2 85.0 59.7 87.5 59.1 89.5 58.1 92.0 56.8 94.5 55.5 96.6 54 98.5 52.5 100.0 50.5 101.6 49 102.5 47 103.4 45 103.9 42.5 104.3 39.5 104.6 36 104.6 33.5 104.3 31 103.8 28 102.9 25 101.8 22.5 100.6 19 98.7 17 97.4 15 95.8 13.5 94.3 12 92.5 10.8 90.5 9.9 88.5 9.2 86.5 8.6 84.0 8.3 82.0 8.2 80.0 8.4 78.0 8.7 76.0 9.2 74.0 10 72.0 10.7 70.5 12.1 68.5 13.3 67.0 14.5 65.8 19.5 61.4 23 57.5 25 55.6 26.5 54.5 28 53.8 30.5 52.9 32.5 52.5Z" fill="#12ffed" stroke="#000" stroke-opacity="0.6" stroke-width="0.3" fill-rule="evenodd"/>
<path d="M29.9 55.0 32 54.7 33.5 54.6 39 55.2 40.5 55.5 41.5 55.8 42.5 56.1 44 56.9 46.5 58.6 49 60.0 50 60.7 51.5 61.9 53 63.4 55 65.9 56.1 67.5 57.1 69.5 58.1 72.0 58.6 74.0 59.1 76.5 59.3 79.0 59.2 82.0 59 84.5 58.5 87.0 58 88.7 57.1 91.0 56 93.2 54.9 95.0 53.5 96.9 52 98.5 50.1 100.0 48.5 101.0 46.5 101.9 45 102.3 43 102.7 40.5 103.0 37.5 103.0 35 102.9 32.9 102.5 29.2 101.5 26.5 100.6 24 99.5 21 98.0 18.5 96.5 16.5 95.1 15 93.7 13.5 92.0 12.5 90.5 11.5 88.5 10.5 86.0 10 84.0 9.7 82.0 9.6 80.0 9.7 78.0 10 76.0 10.5 74.0 11 72.5 12.1 70.5 13.5 68.5 14.8 67.0 16.4 65.5 20.4 62.0 23 59.2 24.5 57.8 25.5 57.0 27 56.0 28.2 55.5 29.5 55.1Z" fill="#6aff95" stroke="#000" stroke-opacity="0.6" stroke-width="0.3" fill-rule="evenodd"/>
<path d="M30.3 57.0 31.5 56.9 33 56.9 36 57.4 39 57.6 40.5 57.9 42 58.6 45 60.7 48 62.2 49.4 63.0 50.7 64.0 51.8 65.0 54 67.5 55.6 70.0 56.5 72.0 57 73.5 57.5 75.5 57.8 77.5 57.9 80.0 57.8 82.5 57.5 85.0 57 87.3 56.4 89.0 55.5 91.1 54.5 93.0 53 95.1 51.5 96.8 50.1 98.0 48.5 99.1 46.8 100.0 45.4 100.5 43 101.1 41 101.3 38.5 101.4 36 101.2 34 100.9 30.6 100.0 27.7 99.0 24 97.5 21 96.0 19.3 95.0 17.9 94.0 16.2 92.5 15 91.2 14 89.8 13 88.1 12.5 87.0 11.8 85.0 11.4 83.5 11.1 81.5 11 80.0 11.1 78.0 11.5 75.5 12 73.6 12.5 72.3 13.5 70.5 15 68.5 16.4 67.0 21 63.0 24.5 59.6 26 58.5 27 58.0 28.5 57.4 30 57.0Z" fill="#c3ff3c" stroke="#000" stroke-opacity="0.6" stroke-width="0.3" fill-rule="evenodd"/>
<path d="M28.8 59.5 30.5 59.4 32.5 59.5 36 60.3 38.5 60.3 39.5 60.4 40 60.5 41 61.0 43 62.8 44 63.4 47 64.5 48 65.0 49.5 65.9 50.2 66.5 51.5 67.7 53 69.4 54 71.0 55 73.0 55.5 74.5 56 76.5 56.3 79.5 56.3 81.5 56 85.0 55.5 87.0 54.5 89.5 53.5 91.5 52.5 93.0 51 94.8 50 95.7 49 96.6 47.5 97.5 45.5 98.5 43.8 99.0 41.5 99.3 39.5 99.5 37.5 99.4 35 99.0 33 98.5 29.9 97.5 27.1 96.5 23.5 95.0 20.5 93.5 19 92.4 17.9 91.5 16 89.5 15 88.0 14 86.0 13.5 84.8 13 83.0 12.6 80.5 12.6 79.0 13 75.5 13.5 73.8 14 72.5 14.5 71.5 15.5 70.0 17.5 67.7 23.5 62.5 25.4 61.0 26.2 60.5 27.2 60.0 28.5 59.6Z" fill="#ffe300" stroke="#000" stroke-opacity="0.6" stroke-width="0.3" fill-rule="evenodd"/>
<path d="M27.7 63.0 29 62.8 31 62.8 33 63.3 36.6 64.5 37.5 64.7 38.5 64.7 38.7 65.0 39.5 65.5 40.5 65.9 46.5 68.2 48.5 69.3 50 70.6 51.5 72.4 52.7 74.5 53.3 76.0 53.7 77.5 53.9 79.0 54 81.0 54 83.0 53.7 84.5 53.4 86.0 52.8 87.5 52.1 89.0 51.2 90.5 50.1 92.0 49 93.1 47.5 94.3 46.5 94.9 45 95.7 43.5 96.1 42 96.4 40 96.6 38 96.4 36.5 96.2 32 94.8 24 91.8 22.5 91.1 21.5 90.5 19.5 89.1 18.5 88.1 17.6 87.0 16.4 85.0 15.8 83.5 15.4 82.0 15.1 80.5 15 79.0 15.1 77.0 15.3 75.5 15.8 74.0 16.4 72.5 17.3 71.0 18.1 70.0 19 69.0 20.5 67.6 25 64.2 26.5 63.4 27.5 63.0ZM38.4 64.0 38.6 64.0 38.5 64.2Z" fill="#ff8a00" stroke="#000" stroke-opacity="0.6" stroke-width="0.3" fill-rule="evenodd"/>
<path d="M27.4 66.0 28.5 65.9 29.5 65.9 30.6 66.0 32 66.3 45 71.0 46.5 71.8 48 72.8 49.2 74.0 50.2 75.5 51 77.0 51.3 78.0 51.5 79.0 51.7 80.5 51.7 82.0 51.6 83.5 51.4 84.5 50.9 86.0 50.3 87.5 49.5 88.8 48.6 90.0 47.6 91.0 46.5 91.8 45.5 92.4 44.3 93.0 43 93.4 42 93.6 40.5 93.7 39 93.6 37.5 93.4 24.5 88.7 23 88.0 21.5 87.0 20 85.5 18.9 84.0 18.4 83.0 17.8 81.5 17.5 80.1 17.4 79.0 17.4 77.5 17.5 76.3 18 74.5 18.3 73.5 19 72.3 19.9 71.0 20.8 70.0 21.9 69.0 23.3 68.0 25 66.9 26 66.5 27 66.1Z" fill="#ff3200" stroke="#000" stroke-opacity="0.6" stroke-width="0.3" fill-rule="evenodd"/>
<path d="M26.6 69.5 28 69.3 29 69.3 30.5 69.4 31.5 69.7 44 74.3 45.5 75.2 46.4 76.0 47 76.6 47.6 77.5 48.2 78.5 48.5 79.5 48.8 80.5 48.9 81.5 48.9 82.5 48.5 84.5 48.1 85.5 47.6 86.5 46.3 88.0 45.5 88.7 44.5 89.3 43.5 89.8 42.5 90.1 41 90.3 39.5 90.3 38.1 90.0 36.7 89.5 25 85.2 24 84.6 23.2 84.0 22 82.7 21.5 82.0 21 81.0 20.6 80.0 20.4 79.0 20.3 77.0 20.5 76.0 20.7 75.0 21.5 73.3 22.1 72.5 23 71.5 24.5 70.4 25.5 69.9 26.5 69.5Z" fill="#d80000" stroke="#000" stroke-opacity="0.6" stroke-width="0.3" fill-rule="evenodd"/>
<path d="M28 73.0 29 73.0 30.5 73.3 42.5 77.7 43.7 78.5 44.5 79.5 45 80.5 45.2 81.5 45.1 83.0 44.8 84.0 44 85.1 43 85.9 42.5 86.2 41.5 86.6 40.5 86.7 39 86.4 27 82.0 26 81.5 25.4 81.0 24.6 80.0 24.2 79.0 24 77.5 24.1 76.5 24.3 76.0 24.8 75.0 25.5 74.2 26.5 73.5 27.5 73.1Z" fill="#800000" stroke="#000" stroke-opacity="0.6" stroke-width="0.3" fill-rule="evenodd"/>
</g>
<rect x="461.2" y="336.0" width="70.0" height="121.0" fill="none" stroke="#222" stroke-width="0.3"/>
<path d="M461.2 457.0v-1M461.2 336.0v1" stroke="#333" stroke-width="0.3"/>
<text x="461.2" y="466.4" font-size="5.85" text-anchor="middle">0</text>
<path d="M479.1 457.0v-1M479.1 336.0v1" stroke="#333" stroke-width="0.3"/>
<text x="479.1" y="466.4" font-size="5.85" text-anchor="middle">0.74</text>
<path d="M497.2 457.0v-1M497.2 336.0v1" stroke="#333" stroke-width="0.3"/>
<text x="497.2" y="466.4" font-size="5.85" text-anchor="middle">1.49</text>
<path d="M515.3 457.0v-1M515.3 336.0v1" stroke="#333" stroke-width="0.3"/>
<text x="515.3" y="466.4" font-size="5.85" text-anchor="middle">2.23</text>
<path d="M530.9 457.0v-1M530.9 336.0v1" stroke="#333" stroke-width="0.3"/>
<text x="530.9" y="466.4" font-size="5.85" text-anchor="middle">2.98</text>
<path d="M461.2 457.0h1M531.2 457.0h-1" stroke="#333" stroke-width="0.3"/>
<text x="458.6" y="459.4" font-size="5.85" text-anchor="end">0</text>
<path d="M461.2 426.0h1M531.2 426.0h-1" stroke="#333" stroke-width="0.3"/>
<text x="458.6" y="428.4" font-size="5.85" text-anchor="end">1.25</text>
<path d="M461.2 394.6h1M531.2 394.6h-1" stroke="#333" stroke-width="0.3"/>
<text x="458.6" y="397.0" font-size="5.85" text-anchor="end">2.51</text>
<path d="M461.2 363.7h1M531.2 363.7h-1" stroke="#333" stroke-width="0.3"/>
<text x="458.6" y="366.1" font-size="5.85" text-anchor="end">3.76</text>
<path d="M461.2 336.0h1M531.2 336.0h-1" stroke="#333" stroke-width="0.3"/>
<text x="458.6" y="338.4" font-size="5.85" text-anchor="end">5.02</text>
<text x="496.2" y="473.6" font-size="6.5" text-anchor="middle">X/(km)</text>
<text x="445.5" y="396.5" font-size="6.5" text-anchor="middle" transform="rotate(-90 445.5 396.5)">Y/(km)</text>
<rect x="538.4" y="336.20" width="5.5" height="120.00" fill="#800000"/>
<rect x="538.4" y="339.95" width="5.5" height="116.25" fill="#a00000"/>
<rect x="538.4" y="343.70" width="5.5" height="112.50" fill="#c10000"/>
<rect x="538.4" y="347.45" width="5.5" height="108.75" fill="#e20000"/>
<rect x="538.4" y="351.20" width="5.5" height="105.00" fill="#ff0400"/>
<rect x="538.4" y="354.95" width="5.5" height="101.25" fill="#ff2500"/>
<rect x="538.4" y="358.70" width="5.5" height="97.50" fill="#ff4600"/>
<rect x="538.4" y="362.45" width="5.5" height="93.75" fill="#ff6700"/>
<rect x="538.4" y="366.20" width="5.5" height="90.00" fill="#ff8800"/>
<rect x="538.4" y="369.95" width="5.5" height="86.25" fill="#ffa900"/>
<rect x="538.4" y="373.70" width="5.5" height="82.50" fill="#ffca00"/>
<rect x="538.4" y="377.45" width="5.5" height="78.75" fill="#ffea00"/>
<rect x="538.4" y="381.20" width="5.5" height="75.00" fill="#f3ff0c"/>
<rect x="538.4" y="384.95" width="5.5" height="71.25" fill="#d2ff2d"/>
<rect x="538.4" y="388.70" width="5.5" height="67.50" fill="#b1ff4e"/>
<rect x="538.4" y="392.45" width="5.5" height="63.75" fill="#90ff6f"/>
<rect x="538.4" y="396.20" width="5.5" height="60.00" fill="#6fff90"/>
<rect x="538.4" y="399.95" width="5.5" height="56.25" fill="#4effb1"/>
<rect x="538.4" y="403.70" width="5.5" height="52.50" fill="#2dffd2"/>
<rect x="538.4" y="407.45" width="5.5" height="48.75" fill="#0cfff3"/>
<rect x="538.4" y="411.20" width="5.5" height="45.00" fill="#00eaff"/>
<rect x="538.4" y="414.95" width="5.5" height="41.25" fill="#00caff"/>
<rect x="538.4" y="418.70" width="5.5" height="37.50" fill="#00a9ff"/>
<rect x="538.4" y="422.45" width="5.5" height="33.75" fill="#0088ff"/>
<rect x="538.4" y="426.20" width="5.5" height="30.00" fill="#0067ff"/>
<rect x="538.4" y="429.95" width="5.5" height="26.25" fill="#0046ff"/>
<rect x="538.4" y="433.70" width="5.5" height="22.50" fill="#0025ff"/>
<rect x="538.4" y="437.45" width="5.5" height="18.75" fill="#0004ff"/>
<rect x="538.4" y="441.20" width="5.5" height="15.00" fill="#0000e2"/>
<rect x="538.4" y="444.95" width="5.5" height="11.25" fill="#0000c1"/>
<rect x="538.4" y="448.70" width="5.5" height="7.50" fill="#0000a0"/>
<rect x="538.4" y="452.45" width="5.5" height="3.75" fill="#000080"/>
<text x="545.5" y="351.3" font-size="5.6" text-anchor="start">7</text>
<text x="545.5" y="366.1" font-size="5.6" text-anchor="start">6</text>
<text x="545.5" y="381.1" font-size="5.6" text-anchor="start">5</text>
<text x="545.5" y="396.0" font-size="5.6" text-anchor="start">4</text>
<text x="545.5" y="410.3" font-size="5.6" text-anchor="start">3</text>
<text x="545.5" y="424.5" font-size="5.6" text-anchor="start">2</text>
<text x="545.5" y="439.2" font-size="5.6" text-anchor="start">1</text>
<text x="545.5" y="453.3" font-size="5.6" text-anchor="start">0</text>
<text x="541.1" y="333.6" font-size="5.6" text-anchor="middle">nT</text>
<text x="11.0" y="159.3" font-size="12.5" text-anchor="start">( d )</text>
<text x="133.0" y="159.3" font-size="12.5" text-anchor="start">( e )</text>
<text x="331.2" y="159.3" font-size="12.5" text-anchor="start">( f )</text>
<text x="450.6" y="159.5" font-size="12.5" text-anchor="start">( g )</text>
<text x="11.8" y="322.0" font-size="12.5" text-anchor="start">( h )</text>
<text x="133.3" y="322.0" font-size="12.5" text-anchor="start">( i )</text>
<text x="330.8" y="322.0" font-size="12.5" text-anchor="start">( j )</text>
<text x="451.3" y="322.0" font-size="12.5" text-anchor="start">( k )</text>
<path d="M163.9 42.8L163.9 96.3" stroke="#e0e0e0" stroke-width="0.4" fill="none"/>
<path d="M142.7 66.9L227.4 24.1" stroke="#e0e0e0" stroke-width="0.4" fill="none"/>
<path d="M239.9 17.1L239.9 70.6" stroke="#e0e0e0" stroke-width="0.4" fill="none"/>
<path d="M227.4 24.1L277.5 49.7" stroke="#e0e0e0" stroke-width="0.4" fill="none"/>
<path d="M155.2 113.4L239.9 70.6" stroke="#e0e0e0" stroke-width="0.4" fill="none"/>
<path d="M163.9 96.3L214.0 121.9" stroke="#e0e0e0" stroke-width="0.4" fill="none"/>
<path d="M185.0 32.1L185.0 85.6" stroke="#e0e0e0" stroke-width="0.4" fill="none"/>
<path d="M142.7 80.2L227.4 37.5" stroke="#e0e0e0" stroke-width="0.4" fill="none"/>
<path d="M252.4 23.5L252.4 77.0" stroke="#e0e0e0" stroke-width="0.4" fill="none"/>
<path d="M227.4 37.5L277.5 63.0" stroke="#e0e0e0" stroke-width="0.4" fill="none"/>
<path d="M167.8 119.8L252.4 77.0" stroke="#e0e0e0" stroke-width="0.4" fill="none"/>
<path d="M185.0 85.6L235.1 111.2" stroke="#e0e0e0" stroke-width="0.4" fill="none"/>
<path d="M206.2 21.4L206.2 74.9" stroke="#e0e0e0" stroke-width="0.4" fill="none"/>
<path d="M142.7 93.6L227.4 50.8" stroke="#e0e0e0" stroke-width="0.4" fill="none"/>
<path d="M265.0 29.9L265.0 83.4" stroke="#e0e0e0" stroke-width="0.4" fill="none"/>
<path d="M227.4 50.8L277.5 76.4" stroke="#e0e0e0" stroke-width="0.4" fill="none"/>
<path d="M180.3 126.2L265.0 83.4" stroke="#e0e0e0" stroke-width="0.4" fill="none"/>
<path d="M206.2 74.9L256.3 100.5" stroke="#e0e0e0" stroke-width="0.4" fill="none"/>
<path d="M142.7 105.8L227.4 63.0" stroke="#c8c8c8" stroke-width="0.4" fill="none"/>
<path d="M227.4 63.0L277.5 88.6" stroke="#c8c8c8" stroke-width="0.4" fill="none"/>
<path d="M142.7 53.5L227.4 10.7" stroke="#666" stroke-width="0.45" fill="none"/>
<path d="M227.4 10.7L277.5 36.3" stroke="#666" stroke-width="0.45" fill="none"/>
<path d="M227.4 10.7L227.4 64.2" stroke="#666" stroke-width="0.45" fill="none"/>
<path d="M277.5 36.3L277.5 89.8" stroke="#666" stroke-width="0.45" fill="none"/>
<path d="M142.7 53.5L142.7 107.0" stroke="#666" stroke-width="0.45" fill="none"/>
<path d="M142.7 107.0L192.8 132.6" stroke="#666" stroke-width="0.45" fill="none"/>
<path d="M192.8 132.6L277.5 89.8" stroke="#666" stroke-width="0.45" fill="none"/>
<path d="M142.7 107.0L227.4 64.2" stroke="#666" stroke-width="0.45" fill="none"/>
<path d="M227.4 64.2L277.5 89.8" stroke="#666" stroke-width="0.45" fill="none"/>
<g stroke-width="0.35" stroke-linejoin="round">
<path d="M185.5 50.4L188.2 51.8L190.9 50.5L188.1 49.1Z" fill="#800000" stroke="#5c0000"/>
<path d="M182.8 51.7L185.6 53.2L188.2 51.8L185.5 50.4Z" fill="#800000" stroke="#5c0000"/>
<path d="M180.2 53.1L182.9 54.5L185.6 53.2L182.8 51.7Z" fill="#800000" stroke="#5c0000"/>
<path d="M177.5 54.4L180.3 55.8L182.9 54.5L180.2 53.1Z" fill="#800000" stroke="#5c0000"/>
<path d="M174.9 55.8L177.7 57.2L180.3 55.8L177.5 54.4Z" fill="#800000" stroke="#5c0000"/>
<path d="M172.2 60.4L175.0 61.9L175.0 65.2L172.2 63.8Z" fill="#800000" stroke="#5c0000"/>
<path d="M172.2 57.1L175.0 58.5L177.7 57.2L174.9 55.8Z" fill="#800000" stroke="#5c0000"/>
<path d="M172.2 57.1L175.0 58.5L175.0 61.9L172.2 60.4Z" fill="#800000" stroke="#5c0000"/>
<path d="M191.0 56.6L193.7 55.3L193.7 58.6L191.0 59.9Z" fill="#800000" stroke="#5c0000"/>
<path d="M188.2 51.8L191.0 53.3L193.7 51.9L190.9 50.5Z" fill="#800000" stroke="#5c0000"/>
<path d="M191.0 53.3L193.7 51.9L193.7 55.3L191.0 56.6Z" fill="#800000" stroke="#5c0000"/>
<path d="M188.4 57.9L191.0 56.6L191.0 59.9L188.4 61.3Z" fill="#800000" stroke="#5c0000"/>
<path d="M185.6 53.2L188.4 54.6L191.0 53.3L188.2 51.8Z" fill="#800000" stroke="#5c0000"/>
<path d="M188.4 54.6L191.0 53.3L191.0 56.6L188.4 57.9Z" fill="#800000" stroke="#5c0000"/>
<path d="M185.7 59.3L188.4 57.9L188.4 61.3L185.7 62.6Z" fill="#800000" stroke="#5c0000"/>
<path d="M182.9 54.5L185.7 55.9L188.4 54.6L185.6 53.2Z" fill="#800000" stroke="#5c0000"/>
<path d="M185.7 55.9L188.4 54.6L188.4 57.9L185.7 59.3Z" fill="#800000" stroke="#5c0000"/>
<path d="M183.1 60.6L185.7 59.3L185.7 62.6L183.1 64.0Z" fill="#800000" stroke="#5c0000"/>
<path d="M180.3 55.8L183.1 57.3L185.7 55.9L182.9 54.5Z" fill="#800000" stroke="#5c0000"/>
<path d="M183.1 57.3L185.7 55.9L185.7 59.3L183.1 60.6Z" fill="#800000" stroke="#5c0000"/>
<path d="M180.4 61.9L183.1 60.6L183.1 64.0L180.4 65.3Z" fill="#800000" stroke="#5c0000"/>
<path d="M177.7 57.2L180.4 58.6L183.1 57.3L180.3 55.8Z" fill="#800000" stroke="#5c0000"/>
<path d="M180.4 58.6L183.1 57.3L183.1 60.6L180.4 61.9Z" fill="#800000" stroke="#5c0000"/>
<path d="M175.0 68.6L177.8 70.0L177.8 73.3L175.0 71.9Z" fill="#800000" stroke="#5c0000"/>
<path d="M175.0 65.2L177.8 66.6L177.8 70.0L175.0 68.6Z" fill="#800000" stroke="#5c0000"/>
<path d="M177.8 63.3L180.4 61.9L180.4 65.3L177.8 66.6Z" fill="#800000" stroke="#5c0000"/>
<path d="M175.0 61.9L177.8 63.3L177.8 66.6L175.0 65.2Z" fill="#800000" stroke="#5c0000"/>
<path d="M175.0 58.5L177.8 59.9L180.4 58.6L177.7 57.2Z" fill="#800000" stroke="#5c0000"/>
<path d="M177.8 59.9L180.4 58.6L180.4 61.9L177.8 63.3Z" fill="#800000" stroke="#5c0000"/>
<path d="M175.0 58.5L177.8 59.9L177.8 63.3L175.0 61.9Z" fill="#800000" stroke="#5c0000"/>
<path d="M193.8 64.7L196.5 63.4L196.5 66.7L193.8 68.1Z" fill="#800000" stroke="#5c0000"/>
<path d="M191.0 59.9L193.8 61.4L196.5 60.0L193.7 58.6Z" fill="#800000" stroke="#5c0000"/>
<path d="M193.8 61.4L196.5 60.0L196.5 63.4L193.8 64.7Z" fill="#800000" stroke="#5c0000"/>
<path d="M191.2 66.0L193.8 64.7L193.8 68.1L191.2 69.4Z" fill="#800000" stroke="#5c0000"/>
<path d="M188.4 61.3L191.2 62.7L193.8 61.4L191.0 59.9Z" fill="#800000" stroke="#5c0000"/>
<path d="M191.2 62.7L193.8 61.4L193.8 64.7L191.2 66.0Z" fill="#800000" stroke="#5c0000"/>
<path d="M188.5 67.4L191.2 66.0L191.2 69.4L188.5 70.7Z" fill="#800000" stroke="#5c0000"/>
<path d="M185.7 62.6L188.5 64.0L191.2 62.7L188.4 61.3Z" fill="#800000" stroke="#5c0000"/>
<path d="M188.5 64.0L191.2 62.7L191.2 66.0L188.5 67.4Z" fill="#800000" stroke="#5c0000"/>
<path d="M185.9 68.7L188.5 67.4L188.5 70.7L185.9 72.1Z" fill="#800000" stroke="#5c0000"/>
<path d="M183.1 64.0L185.9 65.4L188.5 64.0L185.7 62.6Z" fill="#800000" stroke="#5c0000"/>
<path d="M185.9 65.4L188.5 64.0L188.5 67.4L185.9 68.7Z" fill="#800000" stroke="#5c0000"/>
<path d="M183.2 70.1L185.9 68.7L185.9 72.1L183.2 73.4Z" fill="#800000" stroke="#5c0000"/>
<path d="M180.4 65.3L183.2 66.7L185.9 65.4L183.1 64.0Z" fill="#800000" stroke="#5c0000"/>
<path d="M183.2 66.7L185.9 65.4L185.9 68.7L183.2 70.1Z" fill="#800000" stroke="#5c0000"/>
<path d="M177.8 76.7L180.6 78.1L180.6 81.4L177.8 80.0Z" fill="#faff05" stroke="#b4b703"/>
<path d="M177.8 73.3L180.6 74.7L180.6 78.1L177.8 76.7Z" fill="#ff4c00" stroke="#b73600"/>
<path d="M180.6 71.4L183.2 70.1L183.2 73.4L180.6 74.7Z" fill="#800000" stroke="#5c0000"/>
<path d="M177.8 70.0L180.6 71.4L180.6 74.7L177.8 73.3Z" fill="#800000" stroke="#5c0000"/>
<path d="M177.8 66.6L180.6 68.1L183.2 66.7L180.4 65.3Z" fill="#800000" stroke="#5c0000"/>
<path d="M180.6 68.1L183.2 66.7L183.2 70.1L180.6 71.4Z" fill="#800000" stroke="#5c0000"/>
<path d="M177.8 66.6L180.6 68.1L180.6 71.4L177.8 70.0Z" fill="#800000" stroke="#5c0000"/>
<path d="M193.9 74.2L196.6 72.8L196.6 76.2L193.9 77.5Z" fill="#faff05" stroke="#b4b703"/>
<path d="M191.2 69.4L193.9 70.8L196.6 69.5L193.8 68.1Z" fill="#80ff80" stroke="#5cb75c"/>
<path d="M193.9 70.8L196.6 69.5L196.6 72.8L193.9 74.2Z" fill="#80ff80" stroke="#5cb75c"/>
<path d="M191.3 75.5L193.9 74.2L193.9 77.5L191.3 78.8Z" fill="#ff4c00" stroke="#b73600"/>
<path d="M188.5 70.7L191.3 72.1L193.9 70.8L191.2 69.4Z" fill="#80ff80" stroke="#5cb75c"/>
<path d="M191.3 72.1L193.9 70.8L193.9 74.2L191.3 75.5Z" fill="#80ff80" stroke="#5cb75c"/>
<path d="M188.7 76.8L191.3 75.5L191.3 78.8L188.7 80.2Z" fill="#faff05" stroke="#b4b703"/>
<path d="M185.9 72.1L188.7 73.5L191.3 72.1L188.5 70.7Z" fill="#ff9e00" stroke="#b77100"/>
<path d="M188.7 73.5L191.3 72.1L191.3 75.5L188.7 76.8Z" fill="#ff9e00" stroke="#b77100"/>
<path d="M186.0 78.2L188.7 76.8L188.7 80.2L186.0 81.5Z" fill="#e5ff1a" stroke="#a4b712"/>
<path d="M183.2 73.4L186.0 74.8L188.7 73.5L185.9 72.1Z" fill="#ff0f00" stroke="#b70a00"/>
<path d="M186.0 74.8L188.7 73.5L188.7 76.8L186.0 78.2Z" fill="#ff0f00" stroke="#b70a00"/>
<path d="M180.6 84.8L183.4 86.2L183.4 89.5L180.6 88.1Z" fill="#ffb300" stroke="#b78000"/>
<path d="M180.6 81.4L183.4 82.8L183.4 86.2L180.6 84.8Z" fill="#ffb300" stroke="#b78000"/>
<path d="M183.4 79.5L186.0 78.2L186.0 81.5L183.4 82.8Z" fill="#ffdb00" stroke="#b79d00"/>
<path d="M180.6 78.1L183.4 79.5L183.4 82.8L180.6 81.4Z" fill="#ffdb00" stroke="#b79d00"/>
<path d="M180.6 74.7L183.4 76.2L186.0 74.8L183.2 73.4Z" fill="#ffdb00" stroke="#b79d00"/>
<path d="M183.4 76.2L186.0 74.8L186.0 78.2L183.4 79.5Z" fill="#ffdb00" stroke="#b79d00"/>
<path d="M180.6 74.7L183.4 76.2L183.4 79.5L180.6 78.1Z" fill="#ffdb00" stroke="#b79d00"/>
<path d="M191.3 78.8L194.1 80.3L196.7 78.9L193.9 77.5Z" fill="#faff05" stroke="#b4b703"/>
<path d="M188.7 80.2L191.4 81.6L194.1 80.3L191.3 78.8Z" fill="#ff7500" stroke="#b75400"/>
<path d="M186.0 81.5L188.8 82.9L191.4 81.6L188.7 80.2Z" fill="#e50000" stroke="#a40000"/>
<path d="M183.4 89.5L186.1 91.0L186.1 94.3L183.4 92.9Z" fill="#ffdb00" stroke="#b79d00"/>
<path d="M183.4 86.2L186.1 87.6L186.1 91.0L183.4 89.5Z" fill="#ff9e00" stroke="#b77100"/>
<path d="M183.4 82.8L186.1 84.3L188.8 82.9L186.0 81.5Z" fill="#faff05" stroke="#b4b703"/>
<path d="M183.4 82.8L186.1 84.3L186.1 87.6L183.4 86.2Z" fill="#faff05" stroke="#b4b703"/>
<path d="M194.1 80.3L196.9 81.7L199.5 80.3L196.7 78.9Z" fill="#ffb300" stroke="#b78000"/>
<path d="M191.4 81.6L194.2 83.0L196.9 81.7L194.1 80.3Z" fill="#ffb300" stroke="#b78000"/>
<path d="M188.8 82.9L191.6 84.4L194.2 83.0L191.4 81.6Z" fill="#faff05" stroke="#b4b703"/>
<path d="M186.1 91.0L188.9 92.4L188.9 95.7L186.1 94.3Z" fill="#e50000" stroke="#a40000"/>
<path d="M186.1 87.6L188.9 89.0L188.9 92.4L186.1 91.0Z" fill="#ff9e00" stroke="#b77100"/>
<path d="M186.1 84.3L188.9 85.7L191.6 84.4L188.8 82.9Z" fill="#ffb300" stroke="#b78000"/>
<path d="M186.1 84.3L188.9 85.7L188.9 89.0L186.1 87.6Z" fill="#ffb300" stroke="#b78000"/>
<path d="M202.2 72.3L204.9 73.7L207.6 72.4L204.8 71.0Z" fill="#ffdb00" stroke="#b79d00"/>
<path d="M199.5 73.7L202.3 75.1L204.9 73.7L202.2 72.3Z" fill="#ff4c00" stroke="#b73600"/>
<path d="M196.9 75.0L199.6 76.4L202.3 75.1L199.5 73.7Z" fill="#e5ff1a" stroke="#a4b712"/>
<path d="M194.2 76.3L197.0 77.8L199.6 76.4L196.9 75.0Z" fill="#ff4c00" stroke="#b73600"/>
<path d="M191.6 77.7L194.4 79.1L197.0 77.8L194.2 76.3Z" fill="#ffb300" stroke="#b78000"/>
<path d="M188.9 99.1L191.7 100.5L191.7 103.8L188.9 102.4Z" fill="#bd0000" stroke="#880000"/>
<path d="M188.9 95.7L191.7 97.1L191.7 100.5L188.9 99.1Z" fill="#ff2400" stroke="#b71900"/>
<path d="M188.9 92.4L191.7 93.8L191.7 97.1L188.9 95.7Z" fill="#ff0f00" stroke="#b70a00"/>
<path d="M188.9 89.0L191.7 90.5L191.7 93.8L188.9 92.4Z" fill="#ff2400" stroke="#b71900"/>
<path d="M188.9 85.7L191.7 87.1L191.7 90.5L188.9 89.0Z" fill="#ffdb00" stroke="#b79d00"/>
<path d="M188.9 82.3L191.7 83.8L191.7 87.1L188.9 85.7Z" fill="#e50000" stroke="#a40000"/>
<path d="M188.9 79.0L191.7 80.4L194.4 79.1L191.6 77.7Z" fill="#800000" stroke="#5c0000"/>
<path d="M188.9 79.0L191.7 80.4L191.7 83.8L188.9 82.3Z" fill="#800000" stroke="#5c0000"/>
<path d="M207.7 85.2L210.4 83.9L210.4 87.2L207.7 88.5Z" fill="#ff4c00" stroke="#b73600"/>
<path d="M207.7 81.9L210.4 80.5L210.4 83.9L207.7 85.2Z" fill="#ff0f00" stroke="#b70a00"/>
<path d="M204.9 73.7L207.7 75.2L210.4 73.8L207.6 72.4Z" fill="#ff0f00" stroke="#b70a00"/>
<path d="M205.1 86.5L207.7 85.2L207.7 88.5L205.1 89.9Z" fill="#ff8a00" stroke="#b76300"/>
<path d="M205.1 83.2L207.7 81.9L207.7 85.2L205.1 86.5Z" fill="#ff7500" stroke="#b75400"/>
<path d="M202.3 75.1L205.1 76.5L207.7 75.2L204.9 73.7Z" fill="#ff4c00" stroke="#b73600"/>
<path d="M202.4 94.6L205.1 93.2L205.1 96.6L202.4 97.9Z" fill="#ff8a00" stroke="#b76300"/>
<path d="M202.4 91.2L205.1 89.9L205.1 93.2L202.4 94.6Z" fill="#80ff80" stroke="#5cb75c"/>
<path d="M202.4 87.9L205.1 86.5L205.1 89.9L202.4 91.2Z" fill="#e5ff1a" stroke="#a4b712"/>
<path d="M202.4 84.5L205.1 83.2L205.1 86.5L202.4 87.9Z" fill="#ffb300" stroke="#b78000"/>
<path d="M199.6 76.4L202.4 77.8L205.1 76.5L202.3 75.1Z" fill="#80ff80" stroke="#5cb75c"/>
<path d="M199.8 99.2L202.4 97.9L202.4 101.2L199.8 102.6Z" fill="#80ff80" stroke="#5cb75c"/>
<path d="M199.8 95.9L202.4 94.6L202.4 97.9L199.8 99.2Z" fill="#ff0f00" stroke="#b70a00"/>
<path d="M199.8 92.6L202.4 91.2L202.4 94.6L199.8 95.9Z" fill="#ffb300" stroke="#b78000"/>
<path d="M199.8 89.2L202.4 87.9L202.4 91.2L199.8 92.6Z" fill="#faff05" stroke="#b4b703"/>
<path d="M199.8 85.9L202.4 84.5L202.4 87.9L199.8 89.2Z" fill="#e50000" stroke="#a40000"/>
<path d="M197.0 77.8L199.8 79.2L202.4 77.8L199.6 76.4Z" fill="#ff9e00" stroke="#b77100"/>
<path d="M197.1 100.6L199.8 99.2L199.8 102.6L197.1 103.9Z" fill="#faff05" stroke="#b4b703"/>
<path d="M197.1 97.2L199.8 95.9L199.8 99.2L197.1 100.6Z" fill="#ff4c00" stroke="#b73600"/>
<path d="M197.1 93.9L199.8 92.6L199.8 95.9L197.1 97.2Z" fill="#e50000" stroke="#a40000"/>
<path d="M197.1 90.5L199.8 89.2L199.8 92.6L197.1 93.9Z" fill="#ff0f00" stroke="#b70a00"/>
<path d="M197.1 87.2L199.8 85.9L199.8 89.2L197.1 90.5Z" fill="#ffdb00" stroke="#b79d00"/>
<path d="M194.4 79.1L197.1 80.5L199.8 79.2L197.0 77.8Z" fill="#80ff80" stroke="#5cb75c"/>
<path d="M194.5 101.9L197.1 100.6L197.1 103.9L194.5 105.3Z" fill="#e5ff1a" stroke="#a4b712"/>
<path d="M191.7 100.5L194.5 101.9L194.5 105.3L191.7 103.8Z" fill="#e5ff1a" stroke="#a4b712"/>
<path d="M194.5 98.6L197.1 97.2L197.1 100.6L194.5 101.9Z" fill="#ff7500" stroke="#b75400"/>
<path d="M191.7 97.1L194.5 98.6L194.5 101.9L191.7 100.5Z" fill="#ff7500" stroke="#b75400"/>
<path d="M194.5 95.2L197.1 93.9L197.1 97.2L194.5 98.6Z" fill="#e50000" stroke="#a40000"/>
<path d="M191.7 93.8L194.5 95.2L194.5 98.6L191.7 97.1Z" fill="#e50000" stroke="#a40000"/>
<path d="M194.5 91.9L197.1 90.5L197.1 93.9L194.5 95.2Z" fill="#bd0000" stroke="#880000"/>
<path d="M191.7 90.5L194.5 91.9L194.5 95.2L191.7 93.8Z" fill="#bd0000" stroke="#880000"/>
<path d="M194.5 88.5L197.1 87.2L197.1 90.5L194.5 91.9Z" fill="#800000" stroke="#5c0000"/>
<path d="M191.7 87.1L194.5 88.5L194.5 91.9L191.7 90.5Z" fill="#800000" stroke="#5c0000"/>
<path d="M191.7 83.8L194.5 85.2L194.5 88.5L191.7 87.1Z" fill="#e50000" stroke="#a40000"/>
<path d="M191.7 80.4L194.5 81.9L197.1 80.5L194.4 79.1Z" fill="#bd0000" stroke="#880000"/>
<path d="M191.7 80.4L194.5 81.9L194.5 85.2L191.7 83.8Z" fill="#bd0000" stroke="#880000"/>
<path d="M210.5 79.9L213.2 78.6L213.2 81.9L210.5 83.3Z" fill="#ff0f00" stroke="#b70a00"/>
<path d="M210.5 76.6L213.2 75.2L213.2 78.6L210.5 79.9Z" fill="#bd0000" stroke="#880000"/>
<path d="M207.7 68.5L210.5 69.9L213.2 68.6L210.4 67.1Z" fill="#800000" stroke="#5c0000"/>
<path d="M207.9 81.3L210.5 79.9L210.5 83.3L207.9 84.6Z" fill="#bd0000" stroke="#880000"/>
<path d="M207.9 77.9L210.5 76.6L210.5 79.9L207.9 81.3Z" fill="#bd0000" stroke="#880000"/>
<path d="M205.1 69.8L207.9 71.2L210.5 69.9L207.7 68.5Z" fill="#800000" stroke="#5c0000"/>
<path d="M205.2 82.6L207.9 81.3L207.9 84.6L205.2 85.9Z" fill="#ffdb00" stroke="#b79d00"/>
<path d="M205.2 79.3L207.9 77.9L207.9 81.3L205.2 82.6Z" fill="#ffdb00" stroke="#b79d00"/>
<path d="M202.4 71.2L205.2 72.6L207.9 71.2L205.1 69.8Z" fill="#800000" stroke="#5c0000"/>
<path d="M202.6 83.9L205.2 82.6L205.2 85.9L202.6 87.3Z" fill="#ff0f00" stroke="#b70a00"/>
<path d="M202.6 80.6L205.2 79.3L205.2 82.6L202.6 83.9Z" fill="#e50000" stroke="#a40000"/>
<path d="M199.8 72.5L202.6 73.9L205.2 72.6L202.4 71.2Z" fill="#800000" stroke="#5c0000"/>
<path d="M199.9 85.3L202.6 83.9L202.6 87.3L199.9 88.6Z" fill="#ff4c00" stroke="#b73600"/>
<path d="M199.9 81.9L202.6 80.6L202.6 83.9L199.9 85.3Z" fill="#ff7500" stroke="#b75400"/>
<path d="M197.1 73.8L199.9 75.2L202.6 73.9L199.8 72.5Z" fill="#800000" stroke="#5c0000"/>
<path d="M197.3 86.6L199.9 85.3L199.9 88.6L197.3 90.0Z" fill="#bd0000" stroke="#880000"/>
<path d="M194.5 85.2L197.3 86.6L197.3 90.0L194.5 88.5Z" fill="#bd0000" stroke="#880000"/>
<path d="M197.3 83.3L199.9 81.9L199.9 85.3L197.3 86.6Z" fill="#ff7500" stroke="#b75400"/>
<path d="M194.5 81.9L197.3 83.3L197.3 86.6L194.5 85.2Z" fill="#ff7500" stroke="#b75400"/>
<path d="M194.5 78.5L197.3 79.9L197.3 83.3L194.5 81.9Z" fill="#800000" stroke="#5c0000"/>
<path d="M194.5 75.2L197.3 76.6L199.9 75.2L197.1 73.8Z" fill="#800000" stroke="#5c0000"/>
<path d="M194.5 75.2L197.3 76.6L197.3 79.9L194.5 78.5Z" fill="#800000" stroke="#5c0000"/>
<path d="M213.3 74.7L215.9 73.3L215.9 76.7L213.3 78.0Z" fill="#800000" stroke="#5c0000"/>
<path d="M213.3 71.3L215.9 70.0L215.9 73.3L213.3 74.7Z" fill="#800000" stroke="#5c0000"/>
<path d="M210.5 63.2L213.3 64.6L215.9 63.3L213.2 61.9Z" fill="#800000" stroke="#5c0000"/>
<path d="M210.6 76.0L213.3 74.7L213.3 78.0L210.6 79.3Z" fill="#800000" stroke="#5c0000"/>
<path d="M210.6 72.7L213.3 71.3L213.3 74.7L210.6 76.0Z" fill="#800000" stroke="#5c0000"/>
<path d="M207.9 64.5L210.6 66.0L213.3 64.6L210.5 63.2Z" fill="#800000" stroke="#5c0000"/>
<path d="M208.0 77.3L210.6 76.0L210.6 79.3L208.0 80.7Z" fill="#800000" stroke="#5c0000"/>
<path d="M208.0 74.0L210.6 72.7L210.6 76.0L208.0 77.3Z" fill="#800000" stroke="#5c0000"/>
<path d="M205.2 65.9L208.0 67.3L210.6 66.0L207.9 64.5Z" fill="#800000" stroke="#5c0000"/>
<path d="M205.4 78.7L208.0 77.3L208.0 80.7L205.4 82.0Z" fill="#800000" stroke="#5c0000"/>
<path d="M205.4 75.3L208.0 74.0L208.0 77.3L205.4 78.7Z" fill="#800000" stroke="#5c0000"/>
<path d="M202.6 67.2L205.4 68.6L208.0 67.3L205.2 65.9Z" fill="#800000" stroke="#5c0000"/>
<path d="M202.7 80.0L205.4 78.7L205.4 82.0L202.7 83.4Z" fill="#800000" stroke="#5c0000"/>
<path d="M202.7 76.7L205.4 75.3L205.4 78.7L202.7 80.0Z" fill="#800000" stroke="#5c0000"/>
<path d="M199.9 68.6L202.7 70.0L205.4 68.6L202.6 67.2Z" fill="#800000" stroke="#5c0000"/>
<path d="M200.1 81.4L202.7 80.0L202.7 83.4L200.1 84.7Z" fill="#800000" stroke="#5c0000"/>
<path d="M197.3 79.9L200.1 81.4L200.1 84.7L197.3 83.3Z" fill="#800000" stroke="#5c0000"/>
<path d="M200.1 78.0L202.7 76.7L202.7 80.0L200.1 81.4Z" fill="#800000" stroke="#5c0000"/>
<path d="M197.3 76.6L200.1 78.0L200.1 81.4L197.3 79.9Z" fill="#800000" stroke="#5c0000"/>
<path d="M197.3 73.2L200.1 74.7L200.1 78.0L197.3 76.6Z" fill="#800000" stroke="#5c0000"/>
<path d="M197.3 69.9L200.1 71.3L202.7 70.0L199.9 68.6Z" fill="#800000" stroke="#5c0000"/>
<path d="M197.3 69.9L200.1 71.3L200.1 74.7L197.3 73.2Z" fill="#800000" stroke="#5c0000"/>
<path d="M216.1 69.4L218.7 68.1L218.7 71.4L216.1 72.7Z" fill="#800000" stroke="#5c0000"/>
<path d="M213.3 64.6L216.1 66.1L218.7 64.7L215.9 63.3Z" fill="#800000" stroke="#5c0000"/>
<path d="M216.1 66.1L218.7 64.7L218.7 68.1L216.1 69.4Z" fill="#800000" stroke="#5c0000"/>
<path d="M213.4 70.7L216.1 69.4L216.1 72.7L213.4 74.1Z" fill="#800000" stroke="#5c0000"/>
<path d="M210.6 66.0L213.4 67.4L216.1 66.1L213.3 64.6Z" fill="#800000" stroke="#5c0000"/>
<path d="M213.4 67.4L216.1 66.1L216.1 69.4L213.4 70.7Z" fill="#800000" stroke="#5c0000"/>
<path d="M210.8 72.1L213.4 70.7L213.4 74.1L210.8 75.4Z" fill="#800000" stroke="#5c0000"/>
<path d="M208.0 67.3L210.8 68.7L213.4 67.4L210.6 66.0Z" fill="#800000" stroke="#5c0000"/>
<path d="M210.8 68.7L213.4 67.4L213.4 70.7L210.8 72.1Z" fill="#800000" stroke="#5c0000"/>
<path d="M208.1 73.4L210.8 72.1L210.8 75.4L208.1 76.8Z" fill="#800000" stroke="#5c0000"/>
<path d="M205.4 68.6L208.1 70.1L210.8 68.7L208.0 67.3Z" fill="#800000" stroke="#5c0000"/>
<path d="M208.1 70.1L210.8 68.7L210.8 72.1L208.1 73.4Z" fill="#800000" stroke="#5c0000"/>
<path d="M205.5 74.7L208.1 73.4L208.1 76.8L205.5 78.1Z" fill="#800000" stroke="#5c0000"/>
<path d="M202.7 70.0L205.5 71.4L208.1 70.1L205.4 68.6Z" fill="#800000" stroke="#5c0000"/>
<path d="M205.5 71.4L208.1 70.1L208.1 73.4L205.5 74.7Z" fill="#800000" stroke="#5c0000"/>
<path d="M202.8 76.1L205.5 74.7L205.5 78.1L202.8 79.4Z" fill="#800000" stroke="#5c0000"/>
<path d="M200.1 74.7L202.8 76.1L202.8 79.4L200.1 78.0Z" fill="#800000" stroke="#5c0000"/>
<path d="M200.1 71.3L202.8 72.7L205.5 71.4L202.7 70.0Z" fill="#800000" stroke="#5c0000"/>
<path d="M202.8 72.7L205.5 71.4L205.5 74.7L202.8 76.1Z" fill="#800000" stroke="#5c0000"/>
<path d="M200.1 71.3L202.8 72.7L202.8 76.1L200.1 74.7Z" fill="#800000" stroke="#5c0000"/>
</g>
<text x="139.4" y="55.4" font-size="5.85" text-anchor="end">0</text>
<path d="M142.7 53.5h-1.2" stroke="#555" stroke-width="0.35"/>
<text x="139.4" y="68.6" font-size="5.85" text-anchor="end">0.4</text>
<path d="M142.7 66.7h-1.2" stroke="#555" stroke-width="0.35"/>
<text x="139.4" y="81.9" font-size="5.85" text-anchor="end">0.8</text>
<path d="M142.7 80.0h-1.2" stroke="#555" stroke-width="0.35"/>
<text x="139.4" y="95.1" font-size="5.85" text-anchor="end">1.2</text>
<path d="M142.7 93.2h-1.2" stroke="#555" stroke-width="0.35"/>
<text x="139.4" y="105.4" font-size="5.85" text-anchor="end">1.6</text>
<path d="M142.7 106.5h-1.2" stroke="#555" stroke-width="0.35"/>
<text x="139.3" y="115.3" font-size="5.85" text-anchor="end">0</text>
<text x="152.6" y="120.9" font-size="5.85" text-anchor="end">0.74</text>
<text x="165.2" y="127.3" font-size="5.85" text-anchor="end">1.49</text>
<text x="177.7" y="133.7" font-size="5.85" text-anchor="end">2.23</text>
<text x="190.2" y="140.1" font-size="5.85" text-anchor="end">2.98</text>
<text x="196.2" y="140.4" font-size="5.85" text-anchor="start">0</text>
<text x="217.4" y="129.7" font-size="5.85" text-anchor="start">1.25</text>
<text x="238.5" y="119.0" font-size="5.85" text-anchor="start">2.51</text>
<text x="259.7" y="108.3" font-size="5.85" text-anchor="start">3.76</text>
<text x="278.1" y="97.9" font-size="5.85" text-anchor="start">5.02</text>
<text x="152.2" y="142.0" font-size="6.5" text-anchor="middle">X/(km)</text>
<text x="243.5" y="136.6" font-size="6.5" text-anchor="middle">Y/(km)</text>
<text x="128.9" y="79.1" font-size="6.5" text-anchor="middle" transform="rotate(-90 128.9 79.1)">Z/(km)</text>
<rect x="296.1" y="10.40" width="5.2" height="122.40" fill="#800000"/>
<rect x="296.1" y="14.23" width="5.2" height="118.58" fill="#a00000"/>
<rect x="296.1" y="18.05" width="5.2" height="114.75" fill="#c10000"/>
<rect x="296.1" y="21.88" width="5.2" height="110.93" fill="#e20000"/>
<rect x="296.1" y="25.70" width="5.2" height="107.10" fill="#ff0400"/>
<rect x="296.1" y="29.53" width="5.2" height="103.28" fill="#ff2500"/>
<rect x="296.1" y="33.35" width="5.2" height="99.45" fill="#ff4600"/>
<rect x="296.1" y="37.18" width="5.2" height="95.62" fill="#ff6700"/>
<rect x="296.1" y="41.00" width="5.2" height="91.80" fill="#ff8800"/>
<rect x="296.1" y="44.83" width="5.2" height="87.98" fill="#ffa900"/>
<rect x="296.1" y="48.65" width="5.2" height="84.15" fill="#ffca00"/>
<rect x="296.1" y="52.48" width="5.2" height="80.33" fill="#ffea00"/>
<rect x="296.1" y="56.30" width="5.2" height="76.50" fill="#f3ff0c"/>
<rect x="296.1" y="60.13" width="5.2" height="72.67" fill="#d2ff2d"/>
<rect x="296.1" y="63.95" width="5.2" height="68.85" fill="#b1ff4e"/>
<rect x="296.1" y="67.78" width="5.2" height="65.03" fill="#90ff6f"/>
<rect x="296.1" y="71.60" width="5.2" height="61.20" fill="#6fff90"/>
<rect x="296.1" y="75.43" width="5.2" height="57.38" fill="#4effb1"/>
<rect x="296.1" y="79.25" width="5.2" height="53.55" fill="#2dffd2"/>
<rect x="296.1" y="83.08" width="5.2" height="49.72" fill="#0cfff3"/>
<rect x="296.1" y="86.90" width="5.2" height="45.90" fill="#00eaff"/>
<rect x="296.1" y="90.73" width="5.2" height="42.08" fill="#00caff"/>
<rect x="296.1" y="94.55" width="5.2" height="38.25" fill="#00a9ff"/>
<rect x="296.1" y="98.38" width="5.2" height="34.43" fill="#0088ff"/>
<rect x="296.1" y="102.20" width="5.2" height="30.60" fill="#0067ff"/>
<rect x="296.1" y="106.03" width="5.2" height="26.78" fill="#0046ff"/>
<rect x="296.1" y="109.85" width="5.2" height="22.95" fill="#0025ff"/>
<rect x="296.1" y="113.68" width="5.2" height="19.12" fill="#0004ff"/>
<rect x="296.1" y="117.50" width="5.2" height="15.30" fill="#0000e2"/>
<rect x="296.1" y="121.33" width="5.2" height="11.47" fill="#0000c1"/>
<rect x="296.1" y="125.15" width="5.2" height="7.65" fill="#0000a0"/>
<rect x="296.1" y="128.98" width="5.2" height="3.82" fill="#000080"/>
<text x="302.9" y="13.0" font-size="5.6" text-anchor="start">0.1</text>
<text x="302.9" y="37.2" font-size="5.6" text-anchor="start">0.08</text>
<text x="302.9" y="61.6" font-size="5.6" text-anchor="start">0.06</text>
<text x="302.9" y="86.1" font-size="5.6" text-anchor="start">0.04</text>
<text x="302.9" y="110.5" font-size="5.6" text-anchor="start">0.02</text>
<text x="302.9" y="134.9" font-size="5.6" text-anchor="start">0</text>
<text x="298.7" y="7.8" font-size="5.6" text-anchor="middle">SI</text>
<path d="M398.6 41.4L398.6 95.9" stroke="#e0e0e0" stroke-width="0.4" fill="none"/>
<path d="M378.3 65.2L459.5 24.3" stroke="#e0e0e0" stroke-width="0.4" fill="none"/>
<path d="M472.3 17.4L472.3 71.8" stroke="#e0e0e0" stroke-width="0.4" fill="none"/>
<path d="M459.5 24.3L510.7 50.9" stroke="#e0e0e0" stroke-width="0.4" fill="none"/>
<path d="M391.1 112.8L472.3 71.8" stroke="#e0e0e0" stroke-width="0.4" fill="none"/>
<path d="M398.6 95.9L449.8 122.5" stroke="#e0e0e0" stroke-width="0.4" fill="none"/>
<path d="M418.9 31.2L418.9 85.7" stroke="#e0e0e0" stroke-width="0.4" fill="none"/>
<path d="M378.3 78.8L459.5 38.0" stroke="#e0e0e0" stroke-width="0.4" fill="none"/>
<path d="M485.1 24.0L485.1 78.5" stroke="#e0e0e0" stroke-width="0.4" fill="none"/>
<path d="M459.5 38.0L510.7 64.6" stroke="#e0e0e0" stroke-width="0.4" fill="none"/>
<path d="M403.9 119.4L485.1 78.5" stroke="#e0e0e0" stroke-width="0.4" fill="none"/>
<path d="M418.9 85.7L470.1 112.2" stroke="#e0e0e0" stroke-width="0.4" fill="none"/>
<path d="M439.2 20.9L439.2 75.4" stroke="#e0e0e0" stroke-width="0.4" fill="none"/>
<path d="M378.3 92.5L459.5 51.6" stroke="#e0e0e0" stroke-width="0.4" fill="none"/>
<path d="M497.9 30.7L497.9 85.2" stroke="#e0e0e0" stroke-width="0.4" fill="none"/>
<path d="M459.5 51.6L510.7 78.2" stroke="#e0e0e0" stroke-width="0.4" fill="none"/>
<path d="M416.7 126.1L497.9 85.2" stroke="#e0e0e0" stroke-width="0.4" fill="none"/>
<path d="M439.2 75.4L490.4 102.0" stroke="#e0e0e0" stroke-width="0.4" fill="none"/>
<path d="M378.3 104.9L459.5 64.0" stroke="#c8c8c8" stroke-width="0.4" fill="none"/>
<path d="M459.5 64.0L510.7 90.6" stroke="#c8c8c8" stroke-width="0.4" fill="none"/>
<path d="M378.3 51.6L459.5 10.7" stroke="#666" stroke-width="0.45" fill="none"/>
<path d="M459.5 10.7L510.7 37.3" stroke="#666" stroke-width="0.45" fill="none"/>
<path d="M459.5 10.7L459.5 65.2" stroke="#666" stroke-width="0.45" fill="none"/>
<path d="M510.7 37.3L510.7 91.8" stroke="#666" stroke-width="0.45" fill="none"/>
<path d="M378.3 51.6L378.3 106.1" stroke="#666" stroke-width="0.45" fill="none"/>
<path d="M378.3 106.1L429.5 132.7" stroke="#666" stroke-width="0.45" fill="none"/>
<path d="M429.5 132.7L510.7 91.8" stroke="#666" stroke-width="0.45" fill="none"/>
<path d="M378.3 106.1L459.5 65.2" stroke="#666" stroke-width="0.45" fill="none"/>
<path d="M459.5 65.2L510.7 91.8" stroke="#666" stroke-width="0.45" fill="none"/>
<g stroke-width="0.35" stroke-linejoin="round">
<path d="M419.8 49.6L422.7 51.1L425.2 49.8L422.4 48.4Z" fill="#800000" stroke="#5c0000"/>
<path d="M417.3 50.9L420.1 52.4L422.7 51.1L419.8 49.6Z" fill="#800000" stroke="#5c0000"/>
<path d="M414.7 52.2L417.6 53.7L420.1 52.4L417.3 50.9Z" fill="#800000" stroke="#5c0000"/>
<path d="M412.2 53.5L415.1 54.9L417.6 53.7L414.7 52.2Z" fill="#800000" stroke="#5c0000"/>
<path d="M409.7 54.7L412.5 56.2L415.1 54.9L412.2 53.5Z" fill="#800000" stroke="#5c0000"/>
<path d="M407.1 59.4L410.0 60.9L410.0 64.3L407.1 62.8Z" fill="#800000" stroke="#5c0000"/>
<path d="M407.1 56.0L410.0 57.5L412.5 56.2L409.7 54.7Z" fill="#800000" stroke="#5c0000"/>
<path d="M407.1 56.0L410.0 57.5L410.0 60.9L407.1 59.4Z" fill="#800000" stroke="#5c0000"/>
<path d="M425.5 56.0L428.0 54.7L428.0 58.1L425.5 59.4Z" fill="#800000" stroke="#5c0000"/>
<path d="M422.7 51.1L425.5 52.6L428.0 51.3L425.2 49.8Z" fill="#800000" stroke="#5c0000"/>
<path d="M425.5 52.6L428.0 51.3L428.0 54.7L425.5 56.0Z" fill="#800000" stroke="#5c0000"/>
<path d="M423.0 57.3L425.5 56.0L425.5 59.4L423.0 60.7Z" fill="#800000" stroke="#5c0000"/>
<path d="M420.1 52.4L423.0 53.9L425.5 52.6L422.7 51.1Z" fill="#800000" stroke="#5c0000"/>
<path d="M423.0 53.9L425.5 52.6L425.5 56.0L423.0 57.3Z" fill="#800000" stroke="#5c0000"/>
<path d="M420.4 58.6L423.0 57.3L423.0 60.7L420.4 62.0Z" fill="#800000" stroke="#5c0000"/>
<path d="M417.6 53.7L420.4 55.1L423.0 53.9L420.1 52.4Z" fill="#800000" stroke="#5c0000"/>
<path d="M420.4 55.1L423.0 53.9L423.0 57.3L420.4 58.6Z" fill="#800000" stroke="#5c0000"/>
<path d="M417.9 59.8L420.4 58.6L420.4 62.0L417.9 63.2Z" fill="#800000" stroke="#5c0000"/>
<path d="M415.1 54.9L417.9 56.4L420.4 55.1L417.6 53.7Z" fill="#800000" stroke="#5c0000"/>
<path d="M417.9 56.4L420.4 55.1L420.4 58.6L417.9 59.8Z" fill="#800000" stroke="#5c0000"/>
<path d="M415.4 61.1L417.9 59.8L417.9 63.2L415.4 64.5Z" fill="#800000" stroke="#5c0000"/>
<path d="M412.5 56.2L415.4 57.7L417.9 56.4L415.1 54.9Z" fill="#800000" stroke="#5c0000"/>
<path d="M415.4 57.7L417.9 56.4L417.9 59.8L415.4 61.1Z" fill="#800000" stroke="#5c0000"/>
<path d="M410.0 67.7L412.8 69.2L412.8 72.6L410.0 71.1Z" fill="#800000" stroke="#5c0000"/>
<path d="M410.0 64.3L412.8 65.8L412.8 69.2L410.0 67.7Z" fill="#800000" stroke="#5c0000"/>
<path d="M412.8 62.4L415.4 61.1L415.4 64.5L412.8 65.8Z" fill="#800000" stroke="#5c0000"/>
<path d="M410.0 60.9L412.8 62.4L412.8 65.8L410.0 64.3Z" fill="#800000" stroke="#5c0000"/>
<path d="M410.0 57.5L412.8 59.0L415.4 57.7L412.5 56.2Z" fill="#800000" stroke="#5c0000"/>
<path d="M412.8 59.0L415.4 57.7L415.4 61.1L412.8 62.4Z" fill="#800000" stroke="#5c0000"/>
<path d="M410.0 57.5L412.8 59.0L412.8 62.4L410.0 60.9Z" fill="#800000" stroke="#5c0000"/>
<path d="M428.4 64.3L430.9 63.0L430.9 66.4L428.4 67.7Z" fill="#800000" stroke="#5c0000"/>
<path d="M425.5 59.4L428.4 60.9L430.9 59.6L428.0 58.1Z" fill="#800000" stroke="#5c0000"/>
<path d="M428.4 60.9L430.9 59.6L430.9 63.0L428.4 64.3Z" fill="#800000" stroke="#5c0000"/>
<path d="M425.8 65.6L428.4 64.3L428.4 67.7L425.8 69.0Z" fill="#800000" stroke="#5c0000"/>
<path d="M423.0 60.7L425.8 62.2L428.4 60.9L425.5 59.4Z" fill="#800000" stroke="#5c0000"/>
<path d="M425.8 62.2L428.4 60.9L428.4 64.3L425.8 65.6Z" fill="#800000" stroke="#5c0000"/>
<path d="M423.3 66.8L425.8 65.6L425.8 69.0L423.3 70.3Z" fill="#800000" stroke="#5c0000"/>
<path d="M420.4 62.0L423.3 63.4L425.8 62.2L423.0 60.7Z" fill="#800000" stroke="#5c0000"/>
<path d="M423.3 63.4L425.8 62.2L425.8 65.6L423.3 66.8Z" fill="#800000" stroke="#5c0000"/>
<path d="M420.7 68.1L423.3 66.8L423.3 70.3L420.7 71.5Z" fill="#800000" stroke="#5c0000"/>
<path d="M417.9 63.2L420.7 64.7L423.3 63.4L420.4 62.0Z" fill="#800000" stroke="#5c0000"/>
<path d="M420.7 64.7L423.3 63.4L423.3 66.8L420.7 68.1Z" fill="#800000" stroke="#5c0000"/>
<path d="M418.2 69.4L420.7 68.1L420.7 71.5L418.2 72.8Z" fill="#800000" stroke="#5c0000"/>
<path d="M415.4 64.5L418.2 66.0L420.7 64.7L417.9 63.2Z" fill="#800000" stroke="#5c0000"/>
<path d="M418.2 66.0L420.7 64.7L420.7 68.1L418.2 69.4Z" fill="#800000" stroke="#5c0000"/>
<path d="M412.8 76.0L415.7 77.5L415.7 80.9L412.8 79.4Z" fill="#800000" stroke="#5c0000"/>
<path d="M412.8 72.6L415.7 74.1L415.7 77.5L412.8 76.0Z" fill="#800000" stroke="#5c0000"/>
<path d="M415.7 70.7L418.2 69.4L418.2 72.8L415.7 74.1Z" fill="#800000" stroke="#5c0000"/>
<path d="M412.8 69.2L415.7 70.7L415.7 74.1L412.8 72.6Z" fill="#800000" stroke="#5c0000"/>
<path d="M412.8 65.8L415.7 67.3L418.2 66.0L415.4 64.5Z" fill="#800000" stroke="#5c0000"/>
<path d="M415.7 67.3L418.2 66.0L418.2 69.4L415.7 70.7Z" fill="#800000" stroke="#5c0000"/>
<path d="M412.8 65.8L415.7 67.3L415.7 70.7L412.8 69.2Z" fill="#800000" stroke="#5c0000"/>
<path d="M431.2 72.6L433.7 71.3L433.7 74.7L431.2 76.0Z" fill="#800000" stroke="#5c0000"/>
<path d="M428.4 67.7L431.2 69.2L433.7 67.9L430.9 66.4Z" fill="#800000" stroke="#5c0000"/>
<path d="M431.2 69.2L433.7 67.9L433.7 71.3L431.2 72.6Z" fill="#800000" stroke="#5c0000"/>
<path d="M428.7 73.9L431.2 72.6L431.2 76.0L428.7 77.3Z" fill="#800000" stroke="#5c0000"/>
<path d="M425.8 69.0L428.7 70.5L431.2 69.2L428.4 67.7Z" fill="#800000" stroke="#5c0000"/>
<path d="M428.7 70.5L431.2 69.2L431.2 72.6L428.7 73.9Z" fill="#800000" stroke="#5c0000"/>
<path d="M426.1 75.1L428.7 73.9L428.7 77.3L426.1 78.5Z" fill="#800000" stroke="#5c0000"/>
<path d="M423.3 70.3L426.1 71.7L428.7 70.5L425.8 69.0Z" fill="#800000" stroke="#5c0000"/>
<path d="M426.1 71.7L428.7 70.5L428.7 73.9L426.1 75.1Z" fill="#800000" stroke="#5c0000"/>
<path d="M423.6 76.4L426.1 75.1L426.1 78.5L423.6 79.8Z" fill="#800000" stroke="#5c0000"/>
<path d="M420.7 71.5L423.6 73.0L426.1 71.7L423.3 70.3Z" fill="#800000" stroke="#5c0000"/>
<path d="M423.6 73.0L426.1 71.7L426.1 75.1L423.6 76.4Z" fill="#800000" stroke="#5c0000"/>
<path d="M421.0 77.7L423.6 76.4L423.6 79.8L421.0 81.1Z" fill="#800000" stroke="#5c0000"/>
<path d="M418.2 72.8L421.0 74.3L423.6 73.0L420.7 71.5Z" fill="#800000" stroke="#5c0000"/>
<path d="M421.0 74.3L423.6 73.0L423.6 76.4L421.0 77.7Z" fill="#800000" stroke="#5c0000"/>
<path d="M418.5 79.0L421.0 77.7L421.0 81.1L418.5 82.4Z" fill="#800000" stroke="#5c0000"/>
<path d="M415.7 77.5L418.5 79.0L418.5 82.4L415.7 80.9Z" fill="#800000" stroke="#5c0000"/>
<path d="M415.7 74.1L418.5 75.6L421.0 74.3L418.2 72.8Z" fill="#800000" stroke="#5c0000"/>
<path d="M418.5 75.6L421.0 74.3L421.0 77.7L418.5 79.0Z" fill="#800000" stroke="#5c0000"/>
<path d="M415.7 74.1L418.5 75.6L418.5 79.0L415.7 77.5Z" fill="#800000" stroke="#5c0000"/>
<path d="M431.2 89.6L434.0 91.1L436.6 89.8L433.7 88.3Z" fill="#800000" stroke="#5c0000"/>
<path d="M428.7 90.9L431.5 92.4L434.0 91.1L431.2 89.6Z" fill="#800000" stroke="#5c0000"/>
<path d="M426.1 92.2L429.0 93.6L431.5 92.4L428.7 90.9Z" fill="#800000" stroke="#5c0000"/>
<path d="M423.6 93.4L426.4 94.9L429.0 93.6L426.1 92.2Z" fill="#800000" stroke="#5c0000"/>
<path d="M421.0 94.7L423.9 96.2L426.4 94.9L423.6 93.4Z" fill="#800000" stroke="#5c0000"/>
<path d="M418.5 99.4L421.4 100.9L421.4 104.3L418.5 102.8Z" fill="#800000" stroke="#5c0000"/>
<path d="M418.5 96.0L421.4 97.5L423.9 96.2L421.0 94.7Z" fill="#800000" stroke="#5c0000"/>
<path d="M418.5 96.0L421.4 97.5L421.4 100.9L418.5 99.4Z" fill="#800000" stroke="#5c0000"/>
<path d="M436.9 96.0L439.4 94.7L439.4 98.1L436.9 99.4Z" fill="#800000" stroke="#5c0000"/>
<path d="M436.9 92.6L439.4 91.3L439.4 94.7L436.9 96.0Z" fill="#800000" stroke="#5c0000"/>
<path d="M434.0 84.3L436.9 85.8L439.4 84.5L436.6 83.0Z" fill="#800000" stroke="#5c0000"/>
<path d="M434.4 97.2L436.9 96.0L436.9 99.4L434.4 100.7Z" fill="#800000" stroke="#5c0000"/>
<path d="M434.4 93.8L436.9 92.6L436.9 96.0L434.4 97.2Z" fill="#800000" stroke="#5c0000"/>
<path d="M431.5 85.6L434.4 87.0L436.9 85.8L434.0 84.3Z" fill="#800000" stroke="#5c0000"/>
<path d="M431.8 98.5L434.4 97.2L434.4 100.7L431.8 101.9Z" fill="#800000" stroke="#5c0000"/>
<path d="M431.8 95.1L434.4 93.8L434.4 97.2L431.8 98.5Z" fill="#800000" stroke="#5c0000"/>
<path d="M429.0 86.8L431.8 88.3L434.4 87.0L431.5 85.6Z" fill="#800000" stroke="#5c0000"/>
<path d="M429.3 99.8L431.8 98.5L431.8 101.9L429.3 103.2Z" fill="#800000" stroke="#5c0000"/>
<path d="M429.3 96.4L431.8 95.1L431.8 98.5L429.3 99.8Z" fill="#800000" stroke="#5c0000"/>
<path d="M426.4 88.1L429.3 89.6L431.8 88.3L429.0 86.8Z" fill="#800000" stroke="#5c0000"/>
<path d="M426.7 101.1L429.3 99.8L429.3 103.2L426.7 104.5Z" fill="#800000" stroke="#5c0000"/>
<path d="M426.7 97.7L429.3 96.4L429.3 99.8L426.7 101.1Z" fill="#800000" stroke="#5c0000"/>
<path d="M423.9 89.4L426.7 90.9L429.3 89.6L426.4 88.1Z" fill="#800000" stroke="#5c0000"/>
<path d="M424.2 102.4L426.7 101.1L426.7 104.5L424.2 105.8Z" fill="#800000" stroke="#5c0000"/>
<path d="M421.4 100.9L424.2 102.4L424.2 105.8L421.4 104.3Z" fill="#800000" stroke="#5c0000"/>
<path d="M424.2 99.0L426.7 97.7L426.7 101.1L424.2 102.4Z" fill="#800000" stroke="#5c0000"/>
<path d="M421.4 97.5L424.2 99.0L424.2 102.4L421.4 100.9Z" fill="#800000" stroke="#5c0000"/>
<path d="M421.4 94.1L424.2 95.6L424.2 99.0L421.4 97.5Z" fill="#800000" stroke="#5c0000"/>
<path d="M421.4 90.7L424.2 92.1L426.7 90.9L423.9 89.4Z" fill="#800000" stroke="#5c0000"/>
<path d="M421.4 90.7L424.2 92.1L424.2 95.6L421.4 94.1Z" fill="#800000" stroke="#5c0000"/>
<path d="M439.7 90.6L442.3 89.4L442.3 92.8L439.7 94.0Z" fill="#800000" stroke="#5c0000"/>
<path d="M439.7 87.2L442.3 86.0L442.3 89.4L439.7 90.6Z" fill="#800000" stroke="#5c0000"/>
<path d="M436.9 78.9L439.7 80.4L442.3 79.1L439.4 77.7Z" fill="#800000" stroke="#5c0000"/>
<path d="M437.2 91.9L439.7 90.6L439.7 94.0L437.2 95.3Z" fill="#800000" stroke="#5c0000"/>
<path d="M437.2 88.5L439.7 87.2L439.7 90.6L437.2 91.9Z" fill="#800000" stroke="#5c0000"/>
<path d="M434.4 80.2L437.2 81.7L439.7 80.4L436.9 78.9Z" fill="#800000" stroke="#5c0000"/>
<path d="M434.7 93.2L437.2 91.9L437.2 95.3L434.7 96.6Z" fill="#800000" stroke="#5c0000"/>
<path d="M434.7 89.8L437.2 88.5L437.2 91.9L434.7 93.2Z" fill="#800000" stroke="#5c0000"/>
<path d="M431.8 81.5L434.7 83.0L437.2 81.7L434.4 80.2Z" fill="#800000" stroke="#5c0000"/>
<path d="M432.1 94.5L434.7 93.2L434.7 96.6L432.1 97.9Z" fill="#800000" stroke="#5c0000"/>
<path d="M432.1 91.1L434.7 89.8L434.7 93.2L432.1 94.5Z" fill="#800000" stroke="#5c0000"/>
<path d="M429.3 82.8L432.1 84.3L434.7 83.0L431.8 81.5Z" fill="#800000" stroke="#5c0000"/>
<path d="M429.6 95.7L432.1 94.5L432.1 97.9L429.6 99.2Z" fill="#800000" stroke="#5c0000"/>
<path d="M429.6 92.3L432.1 91.1L432.1 94.5L429.6 95.7Z" fill="#800000" stroke="#5c0000"/>
<path d="M426.7 84.1L429.6 85.5L432.1 84.3L429.3 82.8Z" fill="#800000" stroke="#5c0000"/>
<path d="M427.0 97.0L429.6 95.7L429.6 99.2L427.0 100.4Z" fill="#800000" stroke="#5c0000"/>
<path d="M424.2 95.6L427.0 97.0L427.0 100.4L424.2 99.0Z" fill="#800000" stroke="#5c0000"/>
<path d="M427.0 93.6L429.6 92.3L429.6 95.7L427.0 97.0Z" fill="#800000" stroke="#5c0000"/>
<path d="M424.2 92.1L427.0 93.6L427.0 97.0L424.2 95.6Z" fill="#800000" stroke="#5c0000"/>
<path d="M424.2 88.7L427.0 90.2L427.0 93.6L424.2 92.1Z" fill="#800000" stroke="#5c0000"/>
<path d="M424.2 85.3L427.0 86.8L429.6 85.5L426.7 84.1Z" fill="#800000" stroke="#5c0000"/>
<path d="M424.2 85.3L427.0 86.8L427.0 90.2L424.2 88.7Z" fill="#800000" stroke="#5c0000"/>
<path d="M442.6 85.3L445.1 84.0L445.1 87.4L442.6 88.7Z" fill="#800000" stroke="#5c0000"/>
<path d="M442.6 81.9L445.1 80.6L445.1 84.0L442.6 85.3Z" fill="#800000" stroke="#5c0000"/>
<path d="M439.7 73.6L442.6 75.1L445.1 73.8L442.3 72.3Z" fill="#800000" stroke="#5c0000"/>
<path d="M440.0 86.6L442.6 85.3L442.6 88.7L440.0 90.0Z" fill="#800000" stroke="#5c0000"/>
<path d="M440.0 83.2L442.6 81.9L442.6 85.3L440.0 86.6Z" fill="#800000" stroke="#5c0000"/>
<path d="M437.2 74.9L440.0 76.4L442.6 75.1L439.7 73.6Z" fill="#800000" stroke="#5c0000"/>
<path d="M437.5 87.9L440.0 86.6L440.0 90.0L437.5 91.3Z" fill="#800000" stroke="#5c0000"/>
<path d="M437.5 84.5L440.0 83.2L440.0 86.6L437.5 87.9Z" fill="#800000" stroke="#5c0000"/>
<path d="M434.7 76.2L437.5 77.6L440.0 76.4L437.2 74.9Z" fill="#800000" stroke="#5c0000"/>
<path d="M435.0 89.1L437.5 87.9L437.5 91.3L435.0 92.5Z" fill="#800000" stroke="#5c0000"/>
<path d="M435.0 85.7L437.5 84.5L437.5 87.9L435.0 89.1Z" fill="#800000" stroke="#5c0000"/>
<path d="M432.1 77.4L435.0 78.9L437.5 77.6L434.7 76.2Z" fill="#800000" stroke="#5c0000"/>
<path d="M432.4 90.4L435.0 89.1L435.0 92.5L432.4 93.8Z" fill="#800000" stroke="#5c0000"/>
<path d="M432.4 87.0L435.0 85.7L435.0 89.1L432.4 90.4Z" fill="#800000" stroke="#5c0000"/>
<path d="M429.6 78.7L432.4 80.2L435.0 78.9L432.1 77.4Z" fill="#800000" stroke="#5c0000"/>
<path d="M429.9 91.7L432.4 90.4L432.4 93.8L429.9 95.1Z" fill="#800000" stroke="#5c0000"/>
<path d="M427.0 90.2L429.9 91.7L429.9 95.1L427.0 93.6Z" fill="#800000" stroke="#5c0000"/>
<path d="M429.9 88.3L432.4 87.0L432.4 90.4L429.9 91.7Z" fill="#800000" stroke="#5c0000"/>
<path d="M427.0 86.8L429.9 88.3L429.9 91.7L427.0 90.2Z" fill="#800000" stroke="#5c0000"/>
<path d="M427.0 83.4L429.9 84.9L429.9 88.3L427.0 86.8Z" fill="#800000" stroke="#5c0000"/>
<path d="M427.0 80.0L429.9 81.5L432.4 80.2L429.6 78.7Z" fill="#800000" stroke="#5c0000"/>
<path d="M427.0 80.0L429.9 81.5L429.9 84.9L427.0 83.4Z" fill="#800000" stroke="#5c0000"/>
<path d="M445.4 80.0L448.0 78.7L448.0 82.1L445.4 83.4Z" fill="#800000" stroke="#5c0000"/>
<path d="M445.4 76.6L448.0 75.3L448.0 78.7L445.4 80.0Z" fill="#800000" stroke="#5c0000"/>
<path d="M442.6 68.3L445.4 69.7L448.0 68.5L445.1 67.0Z" fill="#800000" stroke="#5c0000"/>
<path d="M442.9 81.2L445.4 80.0L445.4 83.4L442.9 84.7Z" fill="#800000" stroke="#5c0000"/>
<path d="M442.9 77.8L445.4 76.6L445.4 80.0L442.9 81.2Z" fill="#800000" stroke="#5c0000"/>
<path d="M440.0 69.5L442.9 71.0L445.4 69.7L442.6 68.3Z" fill="#800000" stroke="#5c0000"/>
<path d="M440.3 82.5L442.9 81.2L442.9 84.7L440.3 85.9Z" fill="#800000" stroke="#5c0000"/>
<path d="M440.3 79.1L442.9 77.8L442.9 81.2L440.3 82.5Z" fill="#800000" stroke="#5c0000"/>
<path d="M437.5 70.8L440.3 72.3L442.9 71.0L440.0 69.5Z" fill="#800000" stroke="#5c0000"/>
<path d="M437.8 83.8L440.3 82.5L440.3 85.9L437.8 87.2Z" fill="#800000" stroke="#5c0000"/>
<path d="M437.8 80.4L440.3 79.1L440.3 82.5L437.8 83.8Z" fill="#800000" stroke="#5c0000"/>
<path d="M435.0 72.1L437.8 73.6L440.3 72.3L437.5 70.8Z" fill="#800000" stroke="#5c0000"/>
<path d="M435.3 85.1L437.8 83.8L437.8 87.2L435.3 88.5Z" fill="#800000" stroke="#5c0000"/>
<path d="M435.3 81.7L437.8 80.4L437.8 83.8L435.3 85.1Z" fill="#800000" stroke="#5c0000"/>
<path d="M432.4 73.4L435.3 74.9L437.8 73.6L435.0 72.1Z" fill="#800000" stroke="#5c0000"/>
<path d="M432.7 86.4L435.3 85.1L435.3 88.5L432.7 89.8Z" fill="#800000" stroke="#5c0000"/>
<path d="M429.9 84.9L432.7 86.4L432.7 89.8L429.9 88.3Z" fill="#800000" stroke="#5c0000"/>
<path d="M432.7 83.0L435.3 81.7L435.3 85.1L432.7 86.4Z" fill="#800000" stroke="#5c0000"/>
<path d="M429.9 81.5L432.7 83.0L432.7 86.4L429.9 84.9Z" fill="#800000" stroke="#5c0000"/>
<path d="M429.9 78.1L432.7 79.5L432.7 83.0L429.9 81.5Z" fill="#800000" stroke="#5c0000"/>
<path d="M429.9 74.7L432.7 76.1L435.3 74.9L432.4 73.4Z" fill="#800000" stroke="#5c0000"/>
<path d="M429.9 74.7L432.7 76.1L432.7 79.5L429.9 78.1Z" fill="#800000" stroke="#5c0000"/>
<path d="M448.3 74.6L450.8 73.4L450.8 76.8L448.3 78.0Z" fill="#800000" stroke="#5c0000"/>
<path d="M448.3 71.2L450.8 69.9L450.8 73.4L448.3 74.6Z" fill="#800000" stroke="#5c0000"/>
<path d="M445.4 62.9L448.3 64.4L450.8 63.1L448.0 61.7Z" fill="#800000" stroke="#5c0000"/>
<path d="M445.7 75.9L448.3 74.6L448.3 78.0L445.7 79.3Z" fill="#800000" stroke="#5c0000"/>
<path d="M445.7 72.5L448.3 71.2L448.3 74.6L445.7 75.9Z" fill="#800000" stroke="#5c0000"/>
<path d="M442.9 64.2L445.7 65.7L448.3 64.4L445.4 62.9Z" fill="#800000" stroke="#5c0000"/>
<path d="M443.2 77.2L445.7 75.9L445.7 79.3L443.2 80.6Z" fill="#800000" stroke="#5c0000"/>
<path d="M443.2 73.8L445.7 72.5L445.7 75.9L443.2 77.2Z" fill="#800000" stroke="#5c0000"/>
<path d="M440.3 65.5L443.2 67.0L445.7 65.7L442.9 64.2Z" fill="#800000" stroke="#5c0000"/>
<path d="M440.7 78.5L443.2 77.2L443.2 80.6L440.7 81.9Z" fill="#800000" stroke="#5c0000"/>
<path d="M440.7 75.1L443.2 73.8L443.2 77.2L440.7 78.5Z" fill="#800000" stroke="#5c0000"/>
<path d="M437.8 66.8L440.7 68.2L443.2 67.0L440.3 65.5Z" fill="#800000" stroke="#5c0000"/>
<path d="M438.1 79.7L440.7 78.5L440.7 81.9L438.1 83.2Z" fill="#800000" stroke="#5c0000"/>
<path d="M438.1 76.3L440.7 75.1L440.7 78.5L438.1 79.7Z" fill="#800000" stroke="#5c0000"/>
<path d="M435.3 68.0L438.1 69.5L440.7 68.2L437.8 66.8Z" fill="#800000" stroke="#5c0000"/>
<path d="M435.6 81.0L438.1 79.7L438.1 83.2L435.6 84.4Z" fill="#800000" stroke="#5c0000"/>
<path d="M432.7 79.5L435.6 81.0L435.6 84.4L432.7 83.0Z" fill="#800000" stroke="#5c0000"/>
<path d="M435.6 77.6L438.1 76.3L438.1 79.7L435.6 81.0Z" fill="#800000" stroke="#5c0000"/>
<path d="M432.7 76.1L435.6 77.6L435.6 81.0L432.7 79.5Z" fill="#800000" stroke="#5c0000"/>
<path d="M432.7 72.7L435.6 74.2L435.6 77.6L432.7 76.1Z" fill="#800000" stroke="#5c0000"/>
<path d="M432.7 69.3L435.6 70.8L438.1 69.5L435.3 68.0Z" fill="#800000" stroke="#5c0000"/>
<path d="M432.7 69.3L435.6 70.8L435.6 74.2L432.7 72.7Z" fill="#800000" stroke="#5c0000"/>
<path d="M451.1 69.3L453.6 68.0L453.6 71.4L451.1 72.7Z" fill="#800000" stroke="#5c0000"/>
<path d="M448.3 64.4L451.1 65.9L453.6 64.6L450.8 63.1Z" fill="#800000" stroke="#5c0000"/>
<path d="M451.1 65.9L453.6 64.6L453.6 68.0L451.1 69.3Z" fill="#800000" stroke="#5c0000"/>
<path d="M448.6 70.6L451.1 69.3L451.1 72.7L448.6 74.0Z" fill="#800000" stroke="#5c0000"/>
<path d="M445.7 65.7L448.6 67.2L451.1 65.9L448.3 64.4Z" fill="#800000" stroke="#5c0000"/>
<path d="M448.6 67.2L451.1 65.9L451.1 69.3L448.6 70.6Z" fill="#800000" stroke="#5c0000"/>
<path d="M446.0 71.9L448.6 70.6L448.6 74.0L446.0 75.3Z" fill="#800000" stroke="#5c0000"/>
<path d="M443.2 67.0L446.0 68.4L448.6 67.2L445.7 65.7Z" fill="#800000" stroke="#5c0000"/>
<path d="M446.0 68.4L448.6 67.2L448.6 70.6L446.0 71.9Z" fill="#800000" stroke="#5c0000"/>
<path d="M443.5 73.1L446.0 71.9L446.0 75.3L443.5 76.5Z" fill="#800000" stroke="#5c0000"/>
<path d="M440.7 68.2L443.5 69.7L446.0 68.4L443.2 67.0Z" fill="#800000" stroke="#5c0000"/>
<path d="M443.5 69.7L446.0 68.4L446.0 71.9L443.5 73.1Z" fill="#800000" stroke="#5c0000"/>
<path d="M441.0 74.4L443.5 73.1L443.5 76.5L441.0 77.8Z" fill="#800000" stroke="#5c0000"/>
<path d="M438.1 69.5L441.0 71.0L443.5 69.7L440.7 68.2Z" fill="#800000" stroke="#5c0000"/>
<path d="M441.0 71.0L443.5 69.7L443.5 73.1L441.0 74.4Z" fill="#800000" stroke="#5c0000"/>
<path d="M438.4 75.7L441.0 74.4L441.0 77.8L438.4 79.1Z" fill="#800000" stroke="#5c0000"/>
<path d="M435.6 74.2L438.4 75.7L438.4 79.1L435.6 77.6Z" fill="#800000" stroke="#5c0000"/>
<path d="M435.6 70.8L438.4 72.3L441.0 71.0L438.1 69.5Z" fill="#800000" stroke="#5c0000"/>
<path d="M438.4 72.3L441.0 71.0L441.0 74.4L438.4 75.7Z" fill="#800000" stroke="#5c0000"/>
<path d="M435.6 70.8L438.4 72.3L438.4 75.7L435.6 74.2Z" fill="#800000" stroke="#5c0000"/>
</g>
<text x="375.0" y="53.5" font-size="5.85" text-anchor="end">0</text>
<path d="M378.3 51.6h-1.2" stroke="#555" stroke-width="0.35"/>
<text x="375.0" y="67.0" font-size="5.85" text-anchor="end">0.4</text>
<path d="M378.3 65.1h-1.2" stroke="#555" stroke-width="0.35"/>
<text x="375.0" y="80.5" font-size="5.85" text-anchor="end">0.8</text>
<path d="M378.3 78.6h-1.2" stroke="#555" stroke-width="0.35"/>
<text x="375.0" y="94.0" font-size="5.85" text-anchor="end">1.2</text>
<path d="M378.3 92.1h-1.2" stroke="#555" stroke-width="0.35"/>
<text x="375.0" y="104.5" font-size="5.85" text-anchor="end">1.6</text>
<path d="M378.3 105.6h-1.2" stroke="#555" stroke-width="0.35"/>
<text x="374.9" y="114.4" font-size="5.85" text-anchor="end">0</text>
<text x="388.5" y="120.2" font-size="5.85" text-anchor="end">0.74</text>
<text x="401.3" y="126.9" font-size="5.85" text-anchor="end">1.49</text>
<text x="414.1" y="133.6" font-size="5.85" text-anchor="end">2.23</text>
<text x="426.9" y="140.2" font-size="5.85" text-anchor="end">2.98</text>
<text x="432.9" y="140.5" font-size="5.85" text-anchor="start">0</text>
<text x="453.2" y="130.3" font-size="5.85" text-anchor="start">1.25</text>
<text x="473.5" y="120.1" font-size="5.85" text-anchor="start">2.51</text>
<text x="493.8" y="109.8" font-size="5.85" text-anchor="start">3.76</text>
<text x="511.3" y="99.9" font-size="5.85" text-anchor="start">5.02</text>
<text x="388.3" y="141.6" font-size="6.5" text-anchor="middle">X/(km)</text>
<text x="478.5" y="137.7" font-size="6.5" text-anchor="middle">Y/(km)</text>
<text x="364.5" y="77.2" font-size="6.5" text-anchor="middle" transform="rotate(-90 364.5 77.2)">Z/(km)</text>
<rect x="531.0" y="10.40" width="5.2" height="122.40" fill="#800000"/>
<rect x="531.0" y="14.23" width="5.2" height="118.58" fill="#a00000"/>
<rect x="531.0" y="18.05" width="5.2" height="114.75" fill="#c10000"/>
<rect x="531.0" y="21.88" width="5.2" height="110.93" fill="#e20000"/>
<rect x="531.0" y="25.70" width="5.2" height="107.10" fill="#ff0400"/>
<rect x="531.0" y="29.53" width="5.2" height="103.28" fill="#ff2500"/>
<rect x="531.0" y="33.35" width="5.2" height="99.45" fill="#ff4600"/>
<rect x="531.0" y="37.18" width="5.2" height="95.62" fill="#ff6700"/>
<rect x="531.0" y="41.00" width="5.2" height="91.80" fill="#ff8800"/>
<rect x="531.0" y="44.83" width="5.2" height="87.98" fill="#ffa900"/>
<rect x="531.0" y="48.65" width="5.2" height="84.15" fill="#ffca00"/>
<rect x="531.0" y="52.48" width="5.2" height="80.33" fill="#ffea00"/>
<rect x="531.0" y="56.30" width="5.2" height="76.50" fill="#f3ff0c"/>
<rect x="531.0" y="60.13" width="5.2" height="72.67" fill="#d2ff2d"/>
<rect x="531.0" y="63.95" width="5.2" height="68.85" fill="#b1ff4e"/>
<rect x="531.0" y="67.78" width="5.2" height="65.03" fill="#90ff6f"/>
<rect x="531.0" y="71.60" width="5.2" height="61.20" fill="#6fff90"/>
<rect x="531.0" y="75.43" width="5.2" height="57.38" fill="#4effb1"/>
<rect x="531.0" y="79.25" width="5.2" height="53.55" fill="#2dffd2"/>
<rect x="531.0" y="83.08" width="5.2" height="49.72" fill="#0cfff3"/>
<rect x="531.0" y="86.90" width="5.2" height="45.90" fill="#00eaff"/>
<rect x="531.0" y="90.73" width="5.2" height="42.08" fill="#00caff"/>
<rect x="531.0" y="94.55" width="5.2" height="38.25" fill="#00a9ff"/>
<rect x="531.0" y="98.38" width="5.2" height="34.43" fill="#0088ff"/>
<rect x="531.0" y="102.20" width="5.2" height="30.60" fill="#0067ff"/>
<rect x="531.0" y="106.03" width="5.2" height="26.78" fill="#0046ff"/>
<rect x="531.0" y="109.85" width="5.2" height="22.95" fill="#0025ff"/>
<rect x="531.0" y="113.68" width="5.2" height="19.12" fill="#0004ff"/>
<rect x="531.0" y="117.50" width="5.2" height="15.30" fill="#0000e2"/>
<rect x="531.0" y="121.33" width="5.2" height="11.47" fill="#0000c1"/>
<rect x="531.0" y="125.15" width="5.2" height="7.65" fill="#0000a0"/>
<rect x="531.0" y="128.98" width="5.2" height="3.82" fill="#000080"/>
<text x="537.8" y="13.0" font-size="5.6" text-anchor="start">0.1</text>
<text x="537.8" y="37.2" font-size="5.6" text-anchor="start">0.08</text>
<text x="537.8" y="61.6" font-size="5.6" text-anchor="start">0.06</text>
<text x="537.8" y="86.1" font-size="5.6" text-anchor="start">0.04</text>
<text x="537.8" y="110.5" font-size="5.6" text-anchor="start">0.02</text>
<text x="537.8" y="134.9" font-size="5.6" text-anchor="start">0</text>
<text x="533.6" y="7.8" font-size="5.6" text-anchor="middle">SI</text>
<path d="M163.9 203.3L163.9 256.8" stroke="#e0e0e0" stroke-width="0.4" fill="none"/>
<path d="M142.7 227.4L227.4 184.6" stroke="#e0e0e0" stroke-width="0.4" fill="none"/>
<path d="M239.9 177.6L239.9 231.1" stroke="#e0e0e0" stroke-width="0.4" fill="none"/>
<path d="M227.4 184.6L277.5 210.2" stroke="#e0e0e0" stroke-width="0.4" fill="none"/>
<path d="M155.2 273.9L239.9 231.1" stroke="#e0e0e0" stroke-width="0.4" fill="none"/>
<path d="M163.9 256.8L214.0 282.4" stroke="#e0e0e0" stroke-width="0.4" fill="none"/>
<path d="M185.0 192.6L185.0 246.1" stroke="#e0e0e0" stroke-width="0.4" fill="none"/>
<path d="M142.7 240.8L227.4 197.9" stroke="#e0e0e0" stroke-width="0.4" fill="none"/>
<path d="M252.4 184.0L252.4 237.5" stroke="#e0e0e0" stroke-width="0.4" fill="none"/>
<path d="M227.4 197.9L277.5 223.6" stroke="#e0e0e0" stroke-width="0.4" fill="none"/>
<path d="M167.8 280.3L252.4 237.5" stroke="#e0e0e0" stroke-width="0.4" fill="none"/>
<path d="M185.0 246.1L235.1 271.7" stroke="#e0e0e0" stroke-width="0.4" fill="none"/>
<path d="M206.2 181.9L206.2 235.4" stroke="#e0e0e0" stroke-width="0.4" fill="none"/>
<path d="M142.7 254.1L227.4 211.3" stroke="#e0e0e0" stroke-width="0.4" fill="none"/>
<path d="M265.0 190.4L265.0 243.9" stroke="#e0e0e0" stroke-width="0.4" fill="none"/>
<path d="M227.4 211.3L277.5 236.9" stroke="#e0e0e0" stroke-width="0.4" fill="none"/>
<path d="M180.3 286.7L265.0 243.9" stroke="#e0e0e0" stroke-width="0.4" fill="none"/>
<path d="M206.2 235.4L256.3 261.0" stroke="#e0e0e0" stroke-width="0.4" fill="none"/>
<path d="M142.7 266.3L227.4 223.5" stroke="#c8c8c8" stroke-width="0.4" fill="none"/>
<path d="M227.4 223.5L277.5 249.1" stroke="#c8c8c8" stroke-width="0.4" fill="none"/>
<path d="M142.7 214.0L227.4 171.2" stroke="#666" stroke-width="0.45" fill="none"/>
<path d="M227.4 171.2L277.5 196.8" stroke="#666" stroke-width="0.45" fill="none"/>
<path d="M227.4 171.2L227.4 224.7" stroke="#666" stroke-width="0.45" fill="none"/>
<path d="M277.5 196.8L277.5 250.3" stroke="#666" stroke-width="0.45" fill="none"/>
<path d="M142.7 214.0L142.7 267.5" stroke="#666" stroke-width="0.45" fill="none"/>
<path d="M142.7 267.5L192.8 293.1" stroke="#666" stroke-width="0.45" fill="none"/>
<path d="M192.8 293.1L277.5 250.3" stroke="#666" stroke-width="0.45" fill="none"/>
<path d="M142.7 267.5L227.4 224.7" stroke="#666" stroke-width="0.45" fill="none"/>
<path d="M227.4 224.7L277.5 250.3" stroke="#666" stroke-width="0.45" fill="none"/>
<g stroke-width="0.35" stroke-linejoin="round">
<path d="M185.5 210.9L188.2 212.3L190.9 211.0L188.1 209.6Z" fill="#800000" stroke="#5c0000"/>
<path d="M182.8 212.2L185.6 213.7L188.2 212.3L185.5 210.9Z" fill="#800000" stroke="#5c0000"/>
<path d="M180.2 213.6L182.9 215.0L185.6 213.7L182.8 212.2Z" fill="#800000" stroke="#5c0000"/>
<path d="M177.5 214.9L180.3 216.3L182.9 215.0L180.2 213.6Z" fill="#800000" stroke="#5c0000"/>
<path d="M174.9 216.3L177.7 217.7L180.3 216.3L177.5 214.9Z" fill="#800000" stroke="#5c0000"/>
<path d="M172.2 220.9L175.0 222.4L175.0 225.7L172.2 224.3Z" fill="#800000" stroke="#5c0000"/>
<path d="M172.2 217.6L175.0 219.0L177.7 217.7L174.9 216.3Z" fill="#800000" stroke="#5c0000"/>
<path d="M172.2 217.6L175.0 219.0L175.0 222.4L172.2 220.9Z" fill="#800000" stroke="#5c0000"/>
<path d="M191.0 217.1L193.7 215.8L193.7 219.1L191.0 220.4Z" fill="#800000" stroke="#5c0000"/>
<path d="M188.2 212.3L191.0 213.8L193.7 212.4L190.9 211.0Z" fill="#800000" stroke="#5c0000"/>
<path d="M191.0 213.8L193.7 212.4L193.7 215.8L191.0 217.1Z" fill="#800000" stroke="#5c0000"/>
<path d="M188.4 218.4L191.0 217.1L191.0 220.4L188.4 221.8Z" fill="#800000" stroke="#5c0000"/>
<path d="M185.6 213.7L188.4 215.1L191.0 213.8L188.2 212.3Z" fill="#800000" stroke="#5c0000"/>
<path d="M188.4 215.1L191.0 213.8L191.0 217.1L188.4 218.4Z" fill="#800000" stroke="#5c0000"/>
<path d="M185.7 219.8L188.4 218.4L188.4 221.8L185.7 223.1Z" fill="#800000" stroke="#5c0000"/>
<path d="M182.9 215.0L185.7 216.4L188.4 215.1L185.6 213.7Z" fill="#800000" stroke="#5c0000"/>
<path d="M185.7 216.4L188.4 215.1L188.4 218.4L185.7 219.8Z" fill="#800000" stroke="#5c0000"/>
<path d="M183.1 221.1L185.7 219.8L185.7 223.1L183.1 224.5Z" fill="#800000" stroke="#5c0000"/>
<path d="M180.3 216.3L183.1 217.8L185.7 216.4L182.9 215.0Z" fill="#800000" stroke="#5c0000"/>
<path d="M183.1 217.8L185.7 216.4L185.7 219.8L183.1 221.1Z" fill="#800000" stroke="#5c0000"/>
<path d="M180.4 222.4L183.1 221.1L183.1 224.5L180.4 225.8Z" fill="#800000" stroke="#5c0000"/>
<path d="M177.7 217.7L180.4 219.1L183.1 217.8L180.3 216.3Z" fill="#800000" stroke="#5c0000"/>
<path d="M180.4 219.1L183.1 217.8L183.1 221.1L180.4 222.4Z" fill="#800000" stroke="#5c0000"/>
<path d="M175.0 229.1L177.8 230.5L177.8 233.8L175.0 232.4Z" fill="#800000" stroke="#5c0000"/>
<path d="M175.0 225.7L177.8 227.1L177.8 230.5L175.0 229.1Z" fill="#800000" stroke="#5c0000"/>
<path d="M177.8 223.8L180.4 222.4L180.4 225.8L177.8 227.1Z" fill="#800000" stroke="#5c0000"/>
<path d="M175.0 222.4L177.8 223.8L177.8 227.1L175.0 225.7Z" fill="#800000" stroke="#5c0000"/>
<path d="M175.0 219.0L177.8 220.4L180.4 219.1L177.7 217.7Z" fill="#800000" stroke="#5c0000"/>
<path d="M177.8 220.4L180.4 219.1L180.4 222.4L177.8 223.8Z" fill="#800000" stroke="#5c0000"/>
<path d="M175.0 219.0L177.8 220.4L177.8 223.8L175.0 222.4Z" fill="#800000" stroke="#5c0000"/>
<path d="M193.8 225.2L196.5 223.9L196.5 227.2L193.8 228.6Z" fill="#800000" stroke="#5c0000"/>
<path d="M191.0 220.4L193.8 221.9L196.5 220.5L193.7 219.1Z" fill="#800000" stroke="#5c0000"/>
<path d="M193.8 221.9L196.5 220.5L196.5 223.9L193.8 225.2Z" fill="#800000" stroke="#5c0000"/>
<path d="M191.2 226.5L193.8 225.2L193.8 228.6L191.2 229.9Z" fill="#800000" stroke="#5c0000"/>
<path d="M188.4 221.8L191.2 223.2L193.8 221.9L191.0 220.4Z" fill="#800000" stroke="#5c0000"/>
<path d="M191.2 223.2L193.8 221.9L193.8 225.2L191.2 226.5Z" fill="#800000" stroke="#5c0000"/>
<path d="M188.5 227.9L191.2 226.5L191.2 229.9L188.5 231.2Z" fill="#800000" stroke="#5c0000"/>
<path d="M185.7 223.1L188.5 224.5L191.2 223.2L188.4 221.8Z" fill="#800000" stroke="#5c0000"/>
<path d="M188.5 224.5L191.2 223.2L191.2 226.5L188.5 227.9Z" fill="#800000" stroke="#5c0000"/>
<path d="M185.9 229.2L188.5 227.9L188.5 231.2L185.9 232.6Z" fill="#800000" stroke="#5c0000"/>
<path d="M183.1 224.5L185.9 225.9L188.5 224.5L185.7 223.1Z" fill="#800000" stroke="#5c0000"/>
<path d="M185.9 225.9L188.5 224.5L188.5 227.9L185.9 229.2Z" fill="#800000" stroke="#5c0000"/>
<path d="M183.2 230.6L185.9 229.2L185.9 232.6L183.2 233.9Z" fill="#800000" stroke="#5c0000"/>
<path d="M180.4 225.8L183.2 227.2L185.9 225.9L183.1 224.5Z" fill="#800000" stroke="#5c0000"/>
<path d="M183.2 227.2L185.9 225.9L185.9 229.2L183.2 230.6Z" fill="#800000" stroke="#5c0000"/>
<path d="M177.8 237.2L180.6 238.6L180.6 241.9L177.8 240.5Z" fill="#bd0000" stroke="#880000"/>
<path d="M177.8 233.8L180.6 235.2L180.6 238.6L177.8 237.2Z" fill="#e50000" stroke="#a40000"/>
<path d="M180.6 231.9L183.2 230.6L183.2 233.9L180.6 235.2Z" fill="#800000" stroke="#5c0000"/>
<path d="M177.8 230.5L180.6 231.9L180.6 235.2L177.8 233.8Z" fill="#800000" stroke="#5c0000"/>
<path d="M177.8 227.1L180.6 228.6L183.2 227.2L180.4 225.8Z" fill="#800000" stroke="#5c0000"/>
<path d="M180.6 228.6L183.2 227.2L183.2 230.6L180.6 231.9Z" fill="#800000" stroke="#5c0000"/>
<path d="M177.8 227.1L180.6 228.6L180.6 231.9L177.8 230.5Z" fill="#800000" stroke="#5c0000"/>
<path d="M193.9 234.7L196.6 233.3L196.6 236.7L193.9 238.0Z" fill="#800000" stroke="#5c0000"/>
<path d="M191.2 229.9L193.9 231.3L196.6 230.0L193.8 228.6Z" fill="#ff9e00" stroke="#b77100"/>
<path d="M193.9 231.3L196.6 230.0L196.6 233.3L193.9 234.7Z" fill="#ff9e00" stroke="#b77100"/>
<path d="M191.3 236.0L193.9 234.7L193.9 238.0L191.3 239.3Z" fill="#ffdb00" stroke="#b79d00"/>
<path d="M188.5 231.2L191.3 232.6L193.9 231.3L191.2 229.9Z" fill="#ffdb00" stroke="#b79d00"/>
<path d="M191.3 232.6L193.9 231.3L193.9 234.7L191.3 236.0Z" fill="#ffdb00" stroke="#b79d00"/>
<path d="M188.7 237.3L191.3 236.0L191.3 239.3L188.7 240.7Z" fill="#ffdb00" stroke="#b79d00"/>
<path d="M185.9 232.6L188.7 234.0L191.3 232.6L188.5 231.2Z" fill="#ff9e00" stroke="#b77100"/>
<path d="M188.7 234.0L191.3 232.6L191.3 236.0L188.7 237.3Z" fill="#ff9e00" stroke="#b77100"/>
<path d="M186.0 238.7L188.7 237.3L188.7 240.7L186.0 242.0Z" fill="#ff4c00" stroke="#b73600"/>
<path d="M183.2 233.9L186.0 235.3L188.7 234.0L185.9 232.6Z" fill="#ff0f00" stroke="#b70a00"/>
<path d="M186.0 235.3L188.7 234.0L188.7 237.3L186.0 238.7Z" fill="#ff0f00" stroke="#b70a00"/>
<path d="M180.6 245.3L183.4 246.7L183.4 250.0L180.6 248.6Z" fill="#ff8a00" stroke="#b76300"/>
<path d="M180.6 241.9L183.4 243.3L183.4 246.7L180.6 245.3Z" fill="#e5ff1a" stroke="#a4b712"/>
<path d="M183.4 240.0L186.0 238.7L186.0 242.0L183.4 243.3Z" fill="#ff4c00" stroke="#b73600"/>
<path d="M180.6 238.6L183.4 240.0L183.4 243.3L180.6 241.9Z" fill="#ff4c00" stroke="#b73600"/>
<path d="M180.6 235.2L183.4 236.7L186.0 235.3L183.2 233.9Z" fill="#ff7500" stroke="#b75400"/>
<path d="M183.4 236.7L186.0 235.3L186.0 238.7L183.4 240.0Z" fill="#ff7500" stroke="#b75400"/>
<path d="M180.6 235.2L183.4 236.7L183.4 240.0L180.6 238.6Z" fill="#ff7500" stroke="#b75400"/>
<path d="M193.9 238.0L196.7 239.4L199.4 238.1L196.6 236.7Z" fill="#ff8a00" stroke="#b76300"/>
<path d="M191.3 239.3L194.1 240.8L196.7 239.4L193.9 238.0Z" fill="#ff8a00" stroke="#b76300"/>
<path d="M188.7 240.7L191.4 242.1L194.1 240.8L191.3 239.3Z" fill="#ff8a00" stroke="#b76300"/>
<path d="M186.0 242.0L188.8 243.4L191.4 242.1L188.7 240.7Z" fill="#b3ff4c" stroke="#80b736"/>
<path d="M183.4 250.0L186.1 251.5L186.1 254.8L183.4 253.4Z" fill="#b3ff4c" stroke="#80b736"/>
<path d="M183.4 246.7L186.1 248.1L186.1 251.5L183.4 250.0Z" fill="#ff0f00" stroke="#b70a00"/>
<path d="M183.4 243.3L186.1 244.8L188.8 243.4L186.0 242.0Z" fill="#ff4c00" stroke="#b73600"/>
<path d="M183.4 243.3L186.1 244.8L186.1 248.1L183.4 246.7Z" fill="#ff4c00" stroke="#b73600"/>
<path d="M196.7 239.4L199.5 240.8L202.2 239.5L199.4 238.1Z" fill="#ffdb00" stroke="#b79d00"/>
<path d="M194.1 240.8L196.9 242.2L199.5 240.8L196.7 239.4Z" fill="#e5ff1a" stroke="#a4b712"/>
<path d="M191.4 242.1L194.2 243.5L196.9 242.2L194.1 240.8Z" fill="#ffdb00" stroke="#b79d00"/>
<path d="M188.8 243.4L191.6 244.9L194.2 243.5L191.4 242.1Z" fill="#ff0f00" stroke="#b70a00"/>
<path d="M186.1 251.5L188.9 252.9L188.9 256.2L186.1 254.8Z" fill="#ff9e00" stroke="#b77100"/>
<path d="M186.1 248.1L188.9 249.5L188.9 252.9L186.1 251.5Z" fill="#ff9e00" stroke="#b77100"/>
<path d="M186.1 244.8L188.9 246.2L191.6 244.9L188.8 243.4Z" fill="#e50000" stroke="#a40000"/>
<path d="M186.1 244.8L188.9 246.2L188.9 249.5L186.1 248.1Z" fill="#e50000" stroke="#a40000"/>
<path d="M202.2 239.5L204.9 240.9L207.6 239.6L204.8 238.2Z" fill="#faff05" stroke="#b4b703"/>
<path d="M199.5 240.8L202.3 242.3L204.9 240.9L202.2 239.5Z" fill="#ff9e00" stroke="#b77100"/>
<path d="M196.9 242.2L199.6 243.6L202.3 242.3L199.5 240.8Z" fill="#e50000" stroke="#a40000"/>
<path d="M194.2 243.5L197.0 244.9L199.6 243.6L196.9 242.2Z" fill="#ffdb00" stroke="#b79d00"/>
<path d="M191.6 244.9L194.4 246.3L197.0 244.9L194.2 243.5Z" fill="#80ff80" stroke="#5cb75c"/>
<path d="M188.9 256.2L191.7 257.6L191.7 261.0L188.9 259.6Z" fill="#800000" stroke="#5c0000"/>
<path d="M188.9 252.9L191.7 254.3L191.7 257.6L188.9 256.2Z" fill="#fa0000" stroke="#b40000"/>
<path d="M188.9 249.5L191.7 251.0L191.7 254.3L188.9 252.9Z" fill="#bd0000" stroke="#880000"/>
<path d="M188.9 246.2L191.7 247.6L194.4 246.3L191.6 244.9Z" fill="#bd0000" stroke="#880000"/>
<path d="M188.9 246.2L191.7 247.6L191.7 251.0L188.9 249.5Z" fill="#bd0000" stroke="#880000"/>
<path d="M204.9 234.2L207.7 235.7L210.4 234.3L207.6 232.9Z" fill="#800000" stroke="#5c0000"/>
<path d="M205.1 250.4L207.7 249.0L207.7 252.4L205.1 253.7Z" fill="#ff0f00" stroke="#b70a00"/>
<path d="M202.3 235.6L205.1 237.0L207.7 235.7L204.9 234.2Z" fill="#800000" stroke="#5c0000"/>
<path d="M202.4 251.7L205.1 250.4L205.1 253.7L202.4 255.1Z" fill="#ff0f00" stroke="#b70a00"/>
<path d="M199.6 236.9L202.4 238.3L205.1 237.0L202.3 235.6Z" fill="#800000" stroke="#5c0000"/>
<path d="M199.8 256.4L202.4 255.1L202.4 258.4L199.8 259.7Z" fill="#ff9e00" stroke="#b77100"/>
<path d="M199.8 253.1L202.4 251.7L202.4 255.1L199.8 256.4Z" fill="#b3ff4c" stroke="#80b736"/>
<path d="M199.8 249.7L202.4 248.4L202.4 251.7L199.8 253.1Z" fill="#ff4c00" stroke="#b73600"/>
<path d="M199.8 246.4L202.4 245.0L202.4 248.4L199.8 249.7Z" fill="#e5ff1a" stroke="#a4b712"/>
<path d="M197.0 238.3L199.8 239.7L202.4 238.3L199.6 236.9Z" fill="#800000" stroke="#5c0000"/>
<path d="M197.1 257.7L199.8 256.4L199.8 259.7L197.1 261.1Z" fill="#faff05" stroke="#b4b703"/>
<path d="M197.1 254.4L199.8 253.1L199.8 256.4L197.1 257.7Z" fill="#ff0f00" stroke="#b70a00"/>
<path d="M197.1 251.0L199.8 249.7L199.8 253.1L197.1 254.4Z" fill="#ffb300" stroke="#b78000"/>
<path d="M197.1 247.7L199.8 246.4L199.8 249.7L197.1 251.0Z" fill="#ff9e00" stroke="#b77100"/>
<path d="M194.4 239.6L197.1 241.0L199.8 239.7L197.0 238.3Z" fill="#800000" stroke="#5c0000"/>
<path d="M194.5 259.1L197.1 257.7L197.1 261.1L194.5 262.4Z" fill="#ffdb00" stroke="#b79d00"/>
<path d="M191.7 257.6L194.5 259.1L194.5 262.4L191.7 261.0Z" fill="#ffdb00" stroke="#b79d00"/>
<path d="M194.5 255.7L197.1 254.4L197.1 257.7L194.5 259.1Z" fill="#80ff80" stroke="#5cb75c"/>
<path d="M191.7 254.3L194.5 255.7L194.5 259.1L191.7 257.6Z" fill="#80ff80" stroke="#5cb75c"/>
<path d="M194.5 252.4L197.1 251.0L197.1 254.4L194.5 255.7Z" fill="#ff2400" stroke="#b71900"/>
<path d="M191.7 251.0L194.5 252.4L194.5 255.7L191.7 254.3Z" fill="#ff2400" stroke="#b71900"/>
<path d="M194.5 249.0L197.1 247.7L197.1 251.0L194.5 252.4Z" fill="#ff2400" stroke="#b71900"/>
<path d="M191.7 247.6L194.5 249.0L194.5 252.4L191.7 251.0Z" fill="#ff2400" stroke="#b71900"/>
<path d="M191.7 244.3L194.5 245.7L194.5 249.0L191.7 247.6Z" fill="#800000" stroke="#5c0000"/>
<path d="M191.7 240.9L194.5 242.4L197.1 241.0L194.4 239.6Z" fill="#800000" stroke="#5c0000"/>
<path d="M191.7 240.9L194.5 242.4L194.5 245.7L191.7 244.3Z" fill="#800000" stroke="#5c0000"/>
<path d="M210.5 247.1L213.2 245.8L213.2 249.1L210.5 250.5Z" fill="#ff7500" stroke="#b75400"/>
<path d="M210.5 243.8L213.2 242.4L213.2 245.8L210.5 247.1Z" fill="#e5ff1a" stroke="#a4b712"/>
<path d="M210.5 240.4L213.2 239.1L213.2 242.4L210.5 243.8Z" fill="#800000" stroke="#5c0000"/>
<path d="M210.5 237.1L213.2 235.7L213.2 239.1L210.5 240.4Z" fill="#800000" stroke="#5c0000"/>
<path d="M207.7 229.0L210.5 230.4L213.2 229.1L210.4 227.6Z" fill="#800000" stroke="#5c0000"/>
<path d="M207.9 248.5L210.5 247.1L210.5 250.5L207.9 251.8Z" fill="#ff7500" stroke="#b75400"/>
<path d="M207.9 245.1L210.5 243.8L210.5 247.1L207.9 248.5Z" fill="#faff05" stroke="#b4b703"/>
<path d="M207.9 241.8L210.5 240.4L210.5 243.8L207.9 245.1Z" fill="#800000" stroke="#5c0000"/>
<path d="M207.9 238.4L210.5 237.1L210.5 240.4L207.9 241.8Z" fill="#800000" stroke="#5c0000"/>
<path d="M205.1 230.3L207.9 231.7L210.5 230.4L207.7 229.0Z" fill="#800000" stroke="#5c0000"/>
<path d="M205.2 249.8L207.9 248.5L207.9 251.8L205.2 253.1Z" fill="#e5ff1a" stroke="#a4b712"/>
<path d="M202.4 248.4L205.2 249.8L205.2 253.1L202.4 251.7Z" fill="#e5ff1a" stroke="#a4b712"/>
<path d="M205.2 246.4L207.9 245.1L207.9 248.5L205.2 249.8Z" fill="#ff7500" stroke="#b75400"/>
<path d="M202.4 245.0L205.2 246.4L205.2 249.8L202.4 248.4Z" fill="#ff7500" stroke="#b75400"/>
<path d="M205.2 243.1L207.9 241.8L207.9 245.1L205.2 246.4Z" fill="#800000" stroke="#5c0000"/>
<path d="M205.2 239.8L207.9 238.4L207.9 241.8L205.2 243.1Z" fill="#800000" stroke="#5c0000"/>
<path d="M202.4 231.7L205.2 233.1L207.9 231.7L205.1 230.3Z" fill="#800000" stroke="#5c0000"/>
<path d="M202.6 244.4L205.2 243.1L205.2 246.4L202.6 247.8Z" fill="#800000" stroke="#5c0000"/>
<path d="M202.6 241.1L205.2 239.8L205.2 243.1L202.6 244.4Z" fill="#800000" stroke="#5c0000"/>
<path d="M199.8 233.0L202.6 234.4L205.2 233.1L202.4 231.7Z" fill="#800000" stroke="#5c0000"/>
<path d="M199.9 245.8L202.6 244.4L202.6 247.8L199.9 249.1Z" fill="#800000" stroke="#5c0000"/>
<path d="M199.9 242.4L202.6 241.1L202.6 244.4L199.9 245.8Z" fill="#800000" stroke="#5c0000"/>
<path d="M197.1 234.3L199.9 235.7L202.6 234.4L199.8 233.0Z" fill="#800000" stroke="#5c0000"/>
<path d="M197.3 247.1L199.9 245.8L199.9 249.1L197.3 250.5Z" fill="#800000" stroke="#5c0000"/>
<path d="M194.5 245.7L197.3 247.1L197.3 250.5L194.5 249.0Z" fill="#800000" stroke="#5c0000"/>
<path d="M197.3 243.8L199.9 242.4L199.9 245.8L197.3 247.1Z" fill="#800000" stroke="#5c0000"/>
<path d="M194.5 242.4L197.3 243.8L197.3 247.1L194.5 245.7Z" fill="#800000" stroke="#5c0000"/>
<path d="M194.5 239.0L197.3 240.4L197.3 243.8L194.5 242.4Z" fill="#800000" stroke="#5c0000"/>
<path d="M194.5 235.7L197.3 237.1L199.9 235.7L197.1 234.3Z" fill="#800000" stroke="#5c0000"/>
<path d="M194.5 235.7L197.3 237.1L197.3 240.4L194.5 239.0Z" fill="#800000" stroke="#5c0000"/>
<path d="M213.3 235.2L215.9 233.8L215.9 237.2L213.3 238.5Z" fill="#800000" stroke="#5c0000"/>
<path d="M213.3 231.8L215.9 230.5L215.9 233.8L213.3 235.2Z" fill="#800000" stroke="#5c0000"/>
<path d="M210.5 223.7L213.3 225.1L215.9 223.8L213.2 222.4Z" fill="#800000" stroke="#5c0000"/>
<path d="M210.6 236.5L213.3 235.2L213.3 238.5L210.6 239.8Z" fill="#800000" stroke="#5c0000"/>
<path d="M210.6 233.2L213.3 231.8L213.3 235.2L210.6 236.5Z" fill="#800000" stroke="#5c0000"/>
<path d="M207.9 225.0L210.6 226.5L213.3 225.1L210.5 223.7Z" fill="#800000" stroke="#5c0000"/>
<path d="M208.0 237.8L210.6 236.5L210.6 239.8L208.0 241.2Z" fill="#800000" stroke="#5c0000"/>
<path d="M208.0 234.5L210.6 233.2L210.6 236.5L208.0 237.8Z" fill="#800000" stroke="#5c0000"/>
<path d="M205.2 226.4L208.0 227.8L210.6 226.5L207.9 225.0Z" fill="#800000" stroke="#5c0000"/>
<path d="M205.4 239.2L208.0 237.8L208.0 241.2L205.4 242.5Z" fill="#800000" stroke="#5c0000"/>
<path d="M205.4 235.8L208.0 234.5L208.0 237.8L205.4 239.2Z" fill="#800000" stroke="#5c0000"/>
<path d="M202.6 227.7L205.4 229.1L208.0 227.8L205.2 226.4Z" fill="#800000" stroke="#5c0000"/>
<path d="M202.7 240.5L205.4 239.2L205.4 242.5L202.7 243.9Z" fill="#800000" stroke="#5c0000"/>
<path d="M202.7 237.2L205.4 235.8L205.4 239.2L202.7 240.5Z" fill="#800000" stroke="#5c0000"/>
<path d="M199.9 229.1L202.7 230.5L205.4 229.1L202.6 227.7Z" fill="#800000" stroke="#5c0000"/>
<path d="M200.1 241.9L202.7 240.5L202.7 243.9L200.1 245.2Z" fill="#800000" stroke="#5c0000"/>
<path d="M197.3 240.4L200.1 241.9L200.1 245.2L197.3 243.8Z" fill="#800000" stroke="#5c0000"/>
<path d="M200.1 238.5L202.7 237.2L202.7 240.5L200.1 241.9Z" fill="#800000" stroke="#5c0000"/>
<path d="M197.3 237.1L200.1 238.5L200.1 241.9L197.3 240.4Z" fill="#800000" stroke="#5c0000"/>
<path d="M197.3 233.7L200.1 235.2L200.1 238.5L197.3 237.1Z" fill="#800000" stroke="#5c0000"/>
<path d="M197.3 230.4L200.1 231.8L202.7 230.5L199.9 229.1Z" fill="#800000" stroke="#5c0000"/>
<path d="M197.3 230.4L200.1 231.8L200.1 235.2L197.3 233.7Z" fill="#800000" stroke="#5c0000"/>
<path d="M216.1 229.9L218.7 228.6L218.7 231.9L216.1 233.2Z" fill="#800000" stroke="#5c0000"/>
<path d="M213.3 225.1L216.1 226.6L218.7 225.2L215.9 223.8Z" fill="#800000" stroke="#5c0000"/>
<path d="M216.1 226.6L218.7 225.2L218.7 228.6L216.1 229.9Z" fill="#800000" stroke="#5c0000"/>
<path d="M213.4 231.2L216.1 229.9L216.1 233.2L213.4 234.6Z" fill="#800000" stroke="#5c0000"/>
<path d="M210.6 226.5L213.4 227.9L216.1 226.6L213.3 225.1Z" fill="#800000" stroke="#5c0000"/>
<path d="M213.4 227.9L216.1 226.6L216.1 229.9L213.4 231.2Z" fill="#800000" stroke="#5c0000"/>
<path d="M210.8 232.6L213.4 231.2L213.4 234.6L210.8 235.9Z" fill="#800000" stroke="#5c0000"/>
<path d="M208.0 227.8L210.8 229.2L213.4 227.9L210.6 226.5Z" fill="#800000" stroke="#5c0000"/>
<path d="M210.8 229.2L213.4 227.9L213.4 231.2L210.8 232.6Z" fill="#800000" stroke="#5c0000"/>
<path d="M208.1 233.9L210.8 232.6L210.8 235.9L208.1 237.3Z" fill="#800000" stroke="#5c0000"/>
<path d="M205.4 229.1L208.1 230.6L210.8 229.2L208.0 227.8Z" fill="#800000" stroke="#5c0000"/>
<path d="M208.1 230.6L210.8 229.2L210.8 232.6L208.1 233.9Z" fill="#800000" stroke="#5c0000"/>
<path d="M205.5 235.2L208.1 233.9L208.1 237.3L205.5 238.6Z" fill="#800000" stroke="#5c0000"/>
<path d="M202.7 230.5L205.5 231.9L208.1 230.6L205.4 229.1Z" fill="#800000" stroke="#5c0000"/>
<path d="M205.5 231.9L208.1 230.6L208.1 233.9L205.5 235.2Z" fill="#800000" stroke="#5c0000"/>
<path d="M202.8 236.6L205.5 235.2L205.5 238.6L202.8 239.9Z" fill="#800000" stroke="#5c0000"/>
<path d="M200.1 235.2L202.8 236.6L202.8 239.9L200.1 238.5Z" fill="#800000" stroke="#5c0000"/>
<path d="M200.1 231.8L202.8 233.2L205.5 231.9L202.7 230.5Z" fill="#800000" stroke="#5c0000"/>
<path d="M202.8 233.2L205.5 231.9L205.5 235.2L202.8 236.6Z" fill="#800000" stroke="#5c0000"/>
<path d="M200.1 231.8L202.8 233.2L202.8 236.6L200.1 235.2Z" fill="#800000" stroke="#5c0000"/>
</g>
<text x="139.4" y="215.9" font-size="5.85" text-anchor="end">0</text>
<path d="M142.7 214.0h-1.2" stroke="#555" stroke-width="0.35"/>
<text x="139.4" y="229.1" font-size="5.85" text-anchor="end">0.4</text>
<path d="M142.7 227.2h-1.2" stroke="#555" stroke-width="0.35"/>
<text x="139.4" y="242.4" font-size="5.85" text-anchor="end">0.8</text>
<path d="M142.7 240.5h-1.2" stroke="#555" stroke-width="0.35"/>
<text x="139.4" y="255.6" font-size="5.85" text-anchor="end">1.2</text>
<path d="M142.7 253.7h-1.2" stroke="#555" stroke-width="0.35"/>
<text x="139.4" y="265.9" font-size="5.85" text-anchor="end">1.6</text>
<path d="M142.7 267.0h-1.2" stroke="#555" stroke-width="0.35"/>
<text x="139.3" y="275.8" font-size="5.85" text-anchor="end">0</text>
<text x="152.6" y="281.4" font-size="5.85" text-anchor="end">0.74</text>
<text x="165.2" y="287.8" font-size="5.85" text-anchor="end">1.49</text>
<text x="177.7" y="294.2" font-size="5.85" text-anchor="end">2.23</text>
<text x="190.2" y="300.6" font-size="5.85" text-anchor="end">2.98</text>
<text x="196.2" y="300.9" font-size="5.85" text-anchor="start">0</text>
<text x="217.4" y="290.2" font-size="5.85" text-anchor="start">1.25</text>
<text x="238.5" y="279.5" font-size="5.85" text-anchor="start">2.51</text>
<text x="259.7" y="268.8" font-size="5.85" text-anchor="start">3.76</text>
<text x="278.1" y="258.4" font-size="5.85" text-anchor="start">5.02</text>
<text x="152.2" y="302.5" font-size="6.5" text-anchor="middle">X/(km)</text>
<text x="243.5" y="297.1" font-size="6.5" text-anchor="middle">Y/(km)</text>
<text x="128.9" y="239.6" font-size="6.5" text-anchor="middle" transform="rotate(-90 128.9 239.6)">Z/(km)</text>
<rect x="296.1" y="170.90" width="5.2" height="122.40" fill="#800000"/>
<rect x="296.1" y="174.73" width="5.2" height="118.57" fill="#a00000"/>
<rect x="296.1" y="178.55" width="5.2" height="114.75" fill="#c10000"/>
<rect x="296.1" y="182.38" width="5.2" height="110.93" fill="#e20000"/>
<rect x="296.1" y="186.20" width="5.2" height="107.10" fill="#ff0400"/>
<rect x="296.1" y="190.03" width="5.2" height="103.28" fill="#ff2500"/>
<rect x="296.1" y="193.85" width="5.2" height="99.45" fill="#ff4600"/>
<rect x="296.1" y="197.68" width="5.2" height="95.62" fill="#ff6700"/>
<rect x="296.1" y="201.50" width="5.2" height="91.80" fill="#ff8800"/>
<rect x="296.1" y="205.32" width="5.2" height="87.98" fill="#ffa900"/>
<rect x="296.1" y="209.15" width="5.2" height="84.15" fill="#ffca00"/>
<rect x="296.1" y="212.98" width="5.2" height="80.32" fill="#ffea00"/>
<rect x="296.1" y="216.80" width="5.2" height="76.50" fill="#f3ff0c"/>
<rect x="296.1" y="220.62" width="5.2" height="72.68" fill="#d2ff2d"/>
<rect x="296.1" y="224.45" width="5.2" height="68.85" fill="#b1ff4e"/>
<rect x="296.1" y="228.28" width="5.2" height="65.03" fill="#90ff6f"/>
<rect x="296.1" y="232.10" width="5.2" height="61.20" fill="#6fff90"/>
<rect x="296.1" y="235.93" width="5.2" height="57.38" fill="#4effb1"/>
<rect x="296.1" y="239.75" width="5.2" height="53.55" fill="#2dffd2"/>
<rect x="296.1" y="243.58" width="5.2" height="49.72" fill="#0cfff3"/>
<rect x="296.1" y="247.40" width="5.2" height="45.90" fill="#00eaff"/>
<rect x="296.1" y="251.23" width="5.2" height="42.07" fill="#00caff"/>
<rect x="296.1" y="255.05" width="5.2" height="38.25" fill="#00a9ff"/>
<rect x="296.1" y="258.88" width="5.2" height="34.43" fill="#0088ff"/>
<rect x="296.1" y="262.70" width="5.2" height="30.60" fill="#0067ff"/>
<rect x="296.1" y="266.53" width="5.2" height="26.77" fill="#0046ff"/>
<rect x="296.1" y="270.35" width="5.2" height="22.95" fill="#0025ff"/>
<rect x="296.1" y="274.18" width="5.2" height="19.12" fill="#0004ff"/>
<rect x="296.1" y="278.00" width="5.2" height="15.30" fill="#0000e2"/>
<rect x="296.1" y="281.82" width="5.2" height="11.48" fill="#0000c1"/>
<rect x="296.1" y="285.65" width="5.2" height="7.65" fill="#0000a0"/>
<rect x="296.1" y="289.48" width="5.2" height="3.82" fill="#000080"/>
<text x="302.9" y="173.5" font-size="5.6" text-anchor="start">0.1</text>
<text x="302.9" y="197.7" font-size="5.6" text-anchor="start">0.08</text>
<text x="302.9" y="222.1" font-size="5.6" text-anchor="start">0.06</text>
<text x="302.9" y="246.6" font-size="5.6" text-anchor="start">0.04</text>
<text x="302.9" y="271.0" font-size="5.6" text-anchor="start">0.02</text>
<text x="302.9" y="295.4" font-size="5.6" text-anchor="start">0</text>
<text x="298.7" y="168.3" font-size="5.6" text-anchor="middle">SI</text>
<path d="M163.9 367.9L163.9 421.4" stroke="#e0e0e0" stroke-width="0.4" fill="none"/>
<path d="M142.7 392.0L227.4 349.2" stroke="#e0e0e0" stroke-width="0.4" fill="none"/>
<path d="M239.9 342.2L239.9 395.7" stroke="#e0e0e0" stroke-width="0.4" fill="none"/>
<path d="M227.4 349.2L277.5 374.8" stroke="#e0e0e0" stroke-width="0.4" fill="none"/>
<path d="M155.2 438.5L239.9 395.7" stroke="#e0e0e0" stroke-width="0.4" fill="none"/>
<path d="M163.9 421.4L214.0 447.0" stroke="#e0e0e0" stroke-width="0.4" fill="none"/>
<path d="M185.0 357.2L185.0 410.7" stroke="#e0e0e0" stroke-width="0.4" fill="none"/>
<path d="M142.7 405.4L227.4 362.6" stroke="#e0e0e0" stroke-width="0.4" fill="none"/>
<path d="M252.4 348.6L252.4 402.1" stroke="#e0e0e0" stroke-width="0.4" fill="none"/>
<path d="M227.4 362.6L277.5 388.2" stroke="#e0e0e0" stroke-width="0.4" fill="none"/>
<path d="M167.8 444.9L252.4 402.1" stroke="#e0e0e0" stroke-width="0.4" fill="none"/>
<path d="M185.0 410.7L235.1 436.3" stroke="#e0e0e0" stroke-width="0.4" fill="none"/>
<path d="M206.2 346.5L206.2 400.0" stroke="#e0e0e0" stroke-width="0.4" fill="none"/>
<path d="M142.7 418.7L227.4 375.9" stroke="#e0e0e0" stroke-width="0.4" fill="none"/>
<path d="M265.0 355.0L265.0 408.5" stroke="#e0e0e0" stroke-width="0.4" fill="none"/>
<path d="M227.4 375.9L277.5 401.5" stroke="#e0e0e0" stroke-width="0.4" fill="none"/>
<path d="M180.3 451.3L265.0 408.5" stroke="#e0e0e0" stroke-width="0.4" fill="none"/>
<path d="M206.2 400.0L256.3 425.6" stroke="#e0e0e0" stroke-width="0.4" fill="none"/>
<path d="M142.7 430.9L227.4 388.1" stroke="#c8c8c8" stroke-width="0.4" fill="none"/>
<path d="M227.4 388.1L277.5 413.7" stroke="#c8c8c8" stroke-width="0.4" fill="none"/>
<path d="M142.7 378.6L227.4 335.8" stroke="#666" stroke-width="0.45" fill="none"/>
<path d="M227.4 335.8L277.5 361.4" stroke="#666" stroke-width="0.45" fill="none"/>
<path d="M227.4 335.8L227.4 389.3" stroke="#666" stroke-width="0.45" fill="none"/>
<path d="M277.5 361.4L277.5 414.9" stroke="#666" stroke-width="0.45" fill="none"/>
<path d="M142.7 378.6L142.7 432.1" stroke="#666" stroke-width="0.45" fill="none"/>
<path d="M142.7 432.1L192.8 457.7" stroke="#666" stroke-width="0.45" fill="none"/>
<path d="M192.8 457.7L277.5 414.9" stroke="#666" stroke-width="0.45" fill="none"/>
<path d="M142.7 432.1L227.4 389.3" stroke="#666" stroke-width="0.45" fill="none"/>
<path d="M227.4 389.3L277.5 414.9" stroke="#666" stroke-width="0.45" fill="none"/>
<g stroke-width="0.35" stroke-linejoin="round">
<path d="M185.5 375.5L188.2 376.9L190.9 375.6L188.1 374.2Z" fill="#800000" stroke="#5c0000"/>
<path d="M182.8 376.8L185.6 378.3L188.2 376.9L185.5 375.5Z" fill="#800000" stroke="#5c0000"/>
<path d="M180.2 378.2L182.9 379.6L185.6 378.3L182.8 376.8Z" fill="#800000" stroke="#5c0000"/>
<path d="M177.5 379.5L180.3 380.9L182.9 379.6L180.2 378.2Z" fill="#800000" stroke="#5c0000"/>
<path d="M174.9 380.9L177.7 382.3L180.3 380.9L177.5 379.5Z" fill="#800000" stroke="#5c0000"/>
<path d="M172.2 385.5L175.0 387.0L175.0 390.3L172.2 388.9Z" fill="#800000" stroke="#5c0000"/>
<path d="M172.2 382.2L175.0 383.6L177.7 382.3L174.9 380.9Z" fill="#800000" stroke="#5c0000"/>
<path d="M172.2 382.2L175.0 383.6L175.0 387.0L172.2 385.5Z" fill="#800000" stroke="#5c0000"/>
<path d="M188.2 376.9L191.0 378.4L193.7 377.0L190.9 375.6Z" fill="#800000" stroke="#5c0000"/>
<path d="M191.0 378.4L193.7 377.0L193.7 380.4L191.0 381.7Z" fill="#800000" stroke="#5c0000"/>
<path d="M188.4 383.0L191.0 381.7L191.0 385.0L188.4 386.4Z" fill="#800000" stroke="#5c0000"/>
<path d="M185.6 378.3L188.4 379.7L191.0 378.4L188.2 376.9Z" fill="#800000" stroke="#5c0000"/>
<path d="M188.4 379.7L191.0 378.4L191.0 381.7L188.4 383.0Z" fill="#800000" stroke="#5c0000"/>
<path d="M185.7 384.4L188.4 383.0L188.4 386.4L185.7 387.7Z" fill="#800000" stroke="#5c0000"/>
<path d="M182.9 379.6L185.7 381.0L188.4 379.7L185.6 378.3Z" fill="#800000" stroke="#5c0000"/>
<path d="M185.7 381.0L188.4 379.7L188.4 383.0L185.7 384.4Z" fill="#800000" stroke="#5c0000"/>
<path d="M183.1 385.7L185.7 384.4L185.7 387.7L183.1 389.1Z" fill="#800000" stroke="#5c0000"/>
<path d="M180.3 380.9L183.1 382.4L185.7 381.0L182.9 379.6Z" fill="#800000" stroke="#5c0000"/>
<path d="M183.1 382.4L185.7 381.0L185.7 384.4L183.1 385.7Z" fill="#800000" stroke="#5c0000"/>
<path d="M180.4 387.0L183.1 385.7L183.1 389.1L180.4 390.4Z" fill="#800000" stroke="#5c0000"/>
<path d="M177.7 382.3L180.4 383.7L183.1 382.4L180.3 380.9Z" fill="#800000" stroke="#5c0000"/>
<path d="M180.4 383.7L183.1 382.4L183.1 385.7L180.4 387.0Z" fill="#800000" stroke="#5c0000"/>
<path d="M175.0 393.7L177.8 395.1L177.8 398.4L175.0 397.0Z" fill="#800000" stroke="#5c0000"/>
<path d="M175.0 390.3L177.8 391.7L177.8 395.1L175.0 393.7Z" fill="#e50000" stroke="#a40000"/>
<path d="M177.8 388.4L180.4 387.0L180.4 390.4L177.8 391.7Z" fill="#800000" stroke="#5c0000"/>
<path d="M175.0 387.0L177.8 388.4L177.8 391.7L175.0 390.3Z" fill="#800000" stroke="#5c0000"/>
<path d="M175.0 383.6L177.8 385.0L180.4 383.7L177.7 382.3Z" fill="#800000" stroke="#5c0000"/>
<path d="M177.8 385.0L180.4 383.7L180.4 387.0L177.8 388.4Z" fill="#800000" stroke="#5c0000"/>
<path d="M175.0 383.6L177.8 385.0L177.8 388.4L175.0 387.0Z" fill="#800000" stroke="#5c0000"/>
<path d="M193.8 389.8L196.5 388.5L196.5 391.8L193.8 393.2Z" fill="#800000" stroke="#5c0000"/>
<path d="M193.8 386.5L196.5 385.1L196.5 388.5L193.8 389.8Z" fill="#800000" stroke="#5c0000"/>
<path d="M191.0 381.7L193.8 383.1L196.5 381.8L193.7 380.4Z" fill="#ffc700" stroke="#b78f00"/>
<path d="M193.8 383.1L196.5 381.8L196.5 385.1L193.8 386.5Z" fill="#ffc700" stroke="#b78f00"/>
<path d="M191.0 381.7L193.8 383.1L193.8 386.5L191.0 385.0Z" fill="#ffc700" stroke="#b78f00"/>
<path d="M191.2 391.1L193.8 389.8L193.8 393.2L191.2 394.5Z" fill="#800000" stroke="#5c0000"/>
<path d="M188.4 386.4L191.2 387.8L193.8 386.5L191.0 385.0Z" fill="#800000" stroke="#5c0000"/>
<path d="M191.2 387.8L193.8 386.5L193.8 389.8L191.2 391.1Z" fill="#800000" stroke="#5c0000"/>
<path d="M188.5 392.5L191.2 391.1L191.2 394.5L188.5 395.8Z" fill="#800000" stroke="#5c0000"/>
<path d="M185.7 387.7L188.5 389.1L191.2 387.8L188.4 386.4Z" fill="#800000" stroke="#5c0000"/>
<path d="M188.5 389.1L191.2 387.8L191.2 391.1L188.5 392.5Z" fill="#800000" stroke="#5c0000"/>
<path d="M185.9 393.8L188.5 392.5L188.5 395.8L185.9 397.2Z" fill="#800000" stroke="#5c0000"/>
<path d="M183.1 389.1L185.9 390.5L188.5 389.1L185.7 387.7Z" fill="#800000" stroke="#5c0000"/>
<path d="M185.9 390.5L188.5 389.1L188.5 392.5L185.9 393.8Z" fill="#800000" stroke="#5c0000"/>
<path d="M183.2 395.2L185.9 393.8L185.9 397.2L183.2 398.5Z" fill="#800000" stroke="#5c0000"/>
<path d="M180.4 390.4L183.2 391.8L185.9 390.5L183.1 389.1Z" fill="#800000" stroke="#5c0000"/>
<path d="M183.2 391.8L185.9 390.5L185.9 393.8L183.2 395.2Z" fill="#800000" stroke="#5c0000"/>
<path d="M177.8 401.8L180.6 403.2L180.6 406.5L177.8 405.1Z" fill="#80ff80" stroke="#5cb75c"/>
<path d="M177.8 398.4L180.6 399.8L180.6 403.2L177.8 401.8Z" fill="#800000" stroke="#5c0000"/>
<path d="M180.6 396.5L183.2 395.2L183.2 398.5L180.6 399.8Z" fill="#800000" stroke="#5c0000"/>
<path d="M177.8 395.1L180.6 396.5L180.6 399.8L177.8 398.4Z" fill="#800000" stroke="#5c0000"/>
<path d="M177.8 391.7L180.6 393.2L183.2 391.8L180.4 390.4Z" fill="#800000" stroke="#5c0000"/>
<path d="M180.6 393.2L183.2 391.8L183.2 395.2L180.6 396.5Z" fill="#800000" stroke="#5c0000"/>
<path d="M177.8 391.7L180.6 393.2L180.6 396.5L177.8 395.1Z" fill="#800000" stroke="#5c0000"/>
<path d="M193.9 399.3L196.6 397.9L196.6 401.3L193.9 402.6Z" fill="#bd0000" stroke="#880000"/>
<path d="M191.2 394.5L193.9 395.9L196.6 394.6L193.8 393.2Z" fill="#fa0000" stroke="#b40000"/>
<path d="M193.9 395.9L196.6 394.6L196.6 397.9L193.9 399.3Z" fill="#fa0000" stroke="#b40000"/>
<path d="M191.3 400.6L193.9 399.3L193.9 402.6L191.3 403.9Z" fill="#800000" stroke="#5c0000"/>
<path d="M188.5 395.8L191.3 397.2L193.9 395.9L191.2 394.5Z" fill="#fa0000" stroke="#b40000"/>
<path d="M191.3 397.2L193.9 395.9L193.9 399.3L191.3 400.6Z" fill="#fa0000" stroke="#b40000"/>
<path d="M188.7 401.9L191.3 400.6L191.3 403.9L188.7 405.3Z" fill="#800000" stroke="#5c0000"/>
<path d="M185.9 397.2L188.7 398.6L191.3 397.2L188.5 395.8Z" fill="#ff2400" stroke="#b71900"/>
<path d="M188.7 398.6L191.3 397.2L191.3 400.6L188.7 401.9Z" fill="#ff2400" stroke="#b71900"/>
<path d="M186.0 403.3L188.7 401.9L188.7 405.3L186.0 406.6Z" fill="#ff2400" stroke="#b71900"/>
<path d="M183.2 398.5L186.0 399.9L188.7 398.6L185.9 397.2Z" fill="#bd0000" stroke="#880000"/>
<path d="M186.0 399.9L188.7 398.6L188.7 401.9L186.0 403.3Z" fill="#bd0000" stroke="#880000"/>
<path d="M180.6 409.9L183.4 411.3L183.4 414.6L180.6 413.2Z" fill="#80ff80" stroke="#5cb75c"/>
<path d="M180.6 406.5L183.4 407.9L183.4 411.3L180.6 409.9Z" fill="#800000" stroke="#5c0000"/>
<path d="M183.4 404.6L186.0 403.3L186.0 406.6L183.4 407.9Z" fill="#80ff80" stroke="#5cb75c"/>
<path d="M180.6 403.2L183.4 404.6L183.4 407.9L180.6 406.5Z" fill="#80ff80" stroke="#5cb75c"/>
<path d="M180.6 399.8L183.4 401.3L186.0 399.9L183.2 398.5Z" fill="#800000" stroke="#5c0000"/>
<path d="M183.4 401.3L186.0 399.9L186.0 403.3L183.4 404.6Z" fill="#800000" stroke="#5c0000"/>
<path d="M180.6 399.8L183.4 401.3L183.4 404.6L180.6 403.2Z" fill="#800000" stroke="#5c0000"/>
<path d="M193.9 402.6L196.7 404.0L199.4 402.7L196.6 401.3Z" fill="#e50000" stroke="#a40000"/>
<path d="M191.3 403.9L194.1 405.4L196.7 404.0L193.9 402.6Z" fill="#80ff80" stroke="#5cb75c"/>
<path d="M188.7 405.3L191.4 406.7L194.1 405.4L191.3 403.9Z" fill="#ff9e00" stroke="#b77100"/>
<path d="M186.0 406.6L188.8 408.0L191.4 406.7L188.7 405.3Z" fill="#ff0f00" stroke="#b70a00"/>
<path d="M183.4 414.6L186.1 416.1L186.1 419.4L183.4 418.0Z" fill="#ffdb00" stroke="#b79d00"/>
<path d="M183.4 411.3L186.1 412.7L186.1 416.1L183.4 414.6Z" fill="#ff0f00" stroke="#b70a00"/>
<path d="M183.4 407.9L186.1 409.4L188.8 408.0L186.0 406.6Z" fill="#b3ff4c" stroke="#80b736"/>
<path d="M183.4 407.9L186.1 409.4L186.1 412.7L183.4 411.3Z" fill="#b3ff4c" stroke="#80b736"/>
<path d="M196.7 404.0L199.5 405.4L202.2 404.1L199.4 402.7Z" fill="#ffb300" stroke="#b78000"/>
<path d="M194.1 405.4L196.9 406.8L199.5 405.4L196.7 404.0Z" fill="#ffb300" stroke="#b78000"/>
<path d="M191.4 406.7L194.2 408.1L196.9 406.8L194.1 405.4Z" fill="#ff0f00" stroke="#b70a00"/>
<path d="M188.8 408.0L191.6 409.5L194.2 408.1L191.4 406.7Z" fill="#b3ff4c" stroke="#80b736"/>
<path d="M186.1 416.1L188.9 417.5L188.9 420.8L186.1 419.4Z" fill="#ff7500" stroke="#b75400"/>
<path d="M186.1 412.7L188.9 414.1L188.9 417.5L186.1 416.1Z" fill="#bd0000" stroke="#880000"/>
<path d="M186.1 409.4L188.9 410.8L191.6 409.5L188.8 408.0Z" fill="#bd0000" stroke="#880000"/>
<path d="M186.1 409.4L188.9 410.8L188.9 414.1L186.1 412.7Z" fill="#bd0000" stroke="#880000"/>
<path d="M202.2 404.1L204.9 405.5L207.6 404.2L204.8 402.8Z" fill="#800000" stroke="#5c0000"/>
<path d="M199.5 405.4L202.3 406.9L204.9 405.5L202.2 404.1Z" fill="#bd0000" stroke="#880000"/>
<path d="M196.9 406.8L199.6 408.2L202.3 406.9L199.5 405.4Z" fill="#ff2400" stroke="#b71900"/>
<path d="M194.2 408.1L197.0 409.5L199.6 408.2L196.9 406.8Z" fill="#bd0000" stroke="#880000"/>
<path d="M191.6 409.5L194.4 410.9L197.0 409.5L194.2 408.1Z" fill="#e50000" stroke="#a40000"/>
<path d="M188.9 420.8L191.7 422.2L191.7 425.6L188.9 424.2Z" fill="#ff9e00" stroke="#b77100"/>
<path d="M188.9 417.5L191.7 418.9L191.7 422.2L188.9 420.8Z" fill="#ff2400" stroke="#b71900"/>
<path d="M188.9 414.1L191.7 415.6L191.7 418.9L188.9 417.5Z" fill="#bd0000" stroke="#880000"/>
<path d="M188.9 410.8L191.7 412.2L194.4 410.9L191.6 409.5Z" fill="#ff2400" stroke="#b71900"/>
<path d="M188.9 410.8L191.7 412.2L191.7 415.6L188.9 414.1Z" fill="#ff2400" stroke="#b71900"/>
<path d="M207.7 410.3L210.4 409.0L210.4 412.3L207.7 413.6Z" fill="#bd0000" stroke="#880000"/>
<path d="M204.9 398.8L207.7 400.3L210.4 398.9L207.6 397.5Z" fill="#800000" stroke="#5c0000"/>
<path d="M205.1 415.0L207.7 413.6L207.7 417.0L205.1 418.3Z" fill="#e5ff1a" stroke="#a4b712"/>
<path d="M205.1 411.6L207.7 410.3L207.7 413.6L205.1 415.0Z" fill="#ff2400" stroke="#b71900"/>
<path d="M202.3 400.2L205.1 401.6L207.7 400.3L204.9 398.8Z" fill="#800000" stroke="#5c0000"/>
<path d="M202.4 416.3L205.1 415.0L205.1 418.3L202.4 419.7Z" fill="#ff8a00" stroke="#b76300"/>
<path d="M202.4 413.0L205.1 411.6L205.1 415.0L202.4 416.3Z" fill="#fa0000" stroke="#b40000"/>
<path d="M199.6 401.5L202.4 402.9L205.1 401.6L202.3 400.2Z" fill="#800000" stroke="#5c0000"/>
<path d="M199.8 421.0L202.4 419.7L202.4 423.0L199.8 424.3Z" fill="#ff8a00" stroke="#b76300"/>
<path d="M199.8 417.7L202.4 416.3L202.4 419.7L199.8 421.0Z" fill="#80ff80" stroke="#5cb75c"/>
<path d="M199.8 414.3L202.4 413.0L202.4 416.3L199.8 417.7Z" fill="#e50000" stroke="#a40000"/>
<path d="M197.0 402.9L199.8 404.3L202.4 402.9L199.6 401.5Z" fill="#800000" stroke="#5c0000"/>
<path d="M197.1 422.3L199.8 421.0L199.8 424.3L197.1 425.7Z" fill="#ff8a00" stroke="#b76300"/>
<path d="M197.1 419.0L199.8 417.7L199.8 421.0L197.1 422.3Z" fill="#e5ff1a" stroke="#a4b712"/>
<path d="M197.1 415.6L199.8 414.3L199.8 417.7L197.1 419.0Z" fill="#e50000" stroke="#a40000"/>
<path d="M194.4 404.2L197.1 405.6L199.8 404.3L197.0 402.9Z" fill="#800000" stroke="#5c0000"/>
<path d="M194.5 423.7L197.1 422.3L197.1 425.7L194.5 427.0Z" fill="#ff9e00" stroke="#b77100"/>
<path d="M191.7 422.2L194.5 423.7L194.5 427.0L191.7 425.6Z" fill="#ff9e00" stroke="#b77100"/>
<path d="M194.5 420.3L197.1 419.0L197.1 422.3L194.5 423.7Z" fill="#bd0000" stroke="#880000"/>
<path d="M191.7 418.9L194.5 420.3L194.5 423.7L191.7 422.2Z" fill="#bd0000" stroke="#880000"/>
<path d="M194.5 417.0L197.1 415.6L197.1 419.0L194.5 420.3Z" fill="#ff2400" stroke="#b71900"/>
<path d="M191.7 415.6L194.5 417.0L194.5 420.3L191.7 418.9Z" fill="#ff2400" stroke="#b71900"/>
<path d="M191.7 412.2L194.5 413.6L194.5 417.0L191.7 415.6Z" fill="#e50000" stroke="#a40000"/>
<path d="M191.7 408.9L194.5 410.3L194.5 413.6L191.7 412.2Z" fill="#800000" stroke="#5c0000"/>
<path d="M191.7 405.5L194.5 407.0L197.1 405.6L194.4 404.2Z" fill="#800000" stroke="#5c0000"/>
<path d="M191.7 405.5L194.5 407.0L194.5 410.3L191.7 408.9Z" fill="#800000" stroke="#5c0000"/>
<path d="M210.5 408.4L213.2 407.0L213.2 410.4L210.5 411.7Z" fill="#800000" stroke="#5c0000"/>
<path d="M210.5 405.0L213.2 403.7L213.2 407.0L210.5 408.4Z" fill="#800000" stroke="#5c0000"/>
<path d="M210.5 401.7L213.2 400.3L213.2 403.7L210.5 405.0Z" fill="#800000" stroke="#5c0000"/>
<path d="M207.7 393.6L210.5 395.0L213.2 393.7L210.4 392.2Z" fill="#800000" stroke="#5c0000"/>
<path d="M207.9 409.7L210.5 408.4L210.5 411.7L207.9 413.1Z" fill="#800000" stroke="#5c0000"/>
<path d="M207.9 406.4L210.5 405.0L210.5 408.4L207.9 409.7Z" fill="#800000" stroke="#5c0000"/>
<path d="M207.9 403.0L210.5 401.7L210.5 405.0L207.9 406.4Z" fill="#800000" stroke="#5c0000"/>
<path d="M205.1 394.9L207.9 396.3L210.5 395.0L207.7 393.6Z" fill="#800000" stroke="#5c0000"/>
<path d="M205.2 411.0L207.9 409.7L207.9 413.1L205.2 414.4Z" fill="#bd0000" stroke="#880000"/>
<path d="M205.2 407.7L207.9 406.4L207.9 409.7L205.2 411.0Z" fill="#800000" stroke="#5c0000"/>
<path d="M205.2 404.4L207.9 403.0L207.9 406.4L205.2 407.7Z" fill="#800000" stroke="#5c0000"/>
<path d="M202.4 396.3L205.2 397.7L207.9 396.3L205.1 394.9Z" fill="#800000" stroke="#5c0000"/>
<path d="M202.6 412.4L205.2 411.0L205.2 414.4L202.6 415.7Z" fill="#bd0000" stroke="#880000"/>
<path d="M202.6 409.0L205.2 407.7L205.2 411.0L202.6 412.4Z" fill="#800000" stroke="#5c0000"/>
<path d="M202.6 405.7L205.2 404.4L205.2 407.7L202.6 409.0Z" fill="#800000" stroke="#5c0000"/>
<path d="M199.8 397.6L202.6 399.0L205.2 397.7L202.4 396.3Z" fill="#800000" stroke="#5c0000"/>
<path d="M199.9 413.7L202.6 412.4L202.6 415.7L199.9 417.1Z" fill="#bd0000" stroke="#880000"/>
<path d="M199.9 410.4L202.6 409.0L202.6 412.4L199.9 413.7Z" fill="#800000" stroke="#5c0000"/>
<path d="M199.9 407.0L202.6 405.7L202.6 409.0L199.9 410.4Z" fill="#800000" stroke="#5c0000"/>
<path d="M197.1 398.9L199.9 400.3L202.6 399.0L199.8 397.6Z" fill="#800000" stroke="#5c0000"/>
<path d="M197.3 415.1L199.9 413.7L199.9 417.1L197.3 418.4Z" fill="#bd0000" stroke="#880000"/>
<path d="M194.5 413.6L197.3 415.1L197.3 418.4L194.5 417.0Z" fill="#bd0000" stroke="#880000"/>
<path d="M197.3 411.7L199.9 410.4L199.9 413.7L197.3 415.1Z" fill="#800000" stroke="#5c0000"/>
<path d="M194.5 410.3L197.3 411.7L197.3 415.1L194.5 413.6Z" fill="#800000" stroke="#5c0000"/>
<path d="M197.3 408.4L199.9 407.0L199.9 410.4L197.3 411.7Z" fill="#800000" stroke="#5c0000"/>
<path d="M194.5 407.0L197.3 408.4L197.3 411.7L194.5 410.3Z" fill="#800000" stroke="#5c0000"/>
<path d="M194.5 403.6L197.3 405.0L197.3 408.4L194.5 407.0Z" fill="#800000" stroke="#5c0000"/>
<path d="M194.5 400.3L197.3 401.7L199.9 400.3L197.1 398.9Z" fill="#800000" stroke="#5c0000"/>
<path d="M194.5 400.3L197.3 401.7L197.3 405.0L194.5 403.6Z" fill="#800000" stroke="#5c0000"/>
<path d="M213.3 399.8L215.9 398.4L215.9 401.8L213.3 403.1Z" fill="#800000" stroke="#5c0000"/>
<path d="M213.3 396.4L215.9 395.1L215.9 398.4L213.3 399.8Z" fill="#800000" stroke="#5c0000"/>
<path d="M210.5 388.3L213.3 389.7L215.9 388.4L213.2 387.0Z" fill="#800000" stroke="#5c0000"/>
<path d="M210.6 401.1L213.3 399.8L213.3 403.1L210.6 404.4Z" fill="#800000" stroke="#5c0000"/>
<path d="M210.6 397.8L213.3 396.4L213.3 399.8L210.6 401.1Z" fill="#800000" stroke="#5c0000"/>
<path d="M207.9 389.6L210.6 391.1L213.3 389.7L210.5 388.3Z" fill="#800000" stroke="#5c0000"/>
<path d="M208.0 402.4L210.6 401.1L210.6 404.4L208.0 405.8Z" fill="#800000" stroke="#5c0000"/>
<path d="M208.0 399.1L210.6 397.8L210.6 401.1L208.0 402.4Z" fill="#800000" stroke="#5c0000"/>
<path d="M205.2 391.0L208.0 392.4L210.6 391.1L207.9 389.6Z" fill="#800000" stroke="#5c0000"/>
<path d="M205.4 403.8L208.0 402.4L208.0 405.8L205.4 407.1Z" fill="#800000" stroke="#5c0000"/>
<path d="M205.4 400.4L208.0 399.1L208.0 402.4L205.4 403.8Z" fill="#800000" stroke="#5c0000"/>
<path d="M202.6 392.3L205.4 393.7L208.0 392.4L205.2 391.0Z" fill="#800000" stroke="#5c0000"/>
<path d="M202.7 405.1L205.4 403.8L205.4 407.1L202.7 408.5Z" fill="#800000" stroke="#5c0000"/>
<path d="M202.7 401.8L205.4 400.4L205.4 403.8L202.7 405.1Z" fill="#800000" stroke="#5c0000"/>
<path d="M199.9 393.7L202.7 395.1L205.4 393.7L202.6 392.3Z" fill="#800000" stroke="#5c0000"/>
<path d="M200.1 406.5L202.7 405.1L202.7 408.5L200.1 409.8Z" fill="#800000" stroke="#5c0000"/>
<path d="M197.3 405.0L200.1 406.5L200.1 409.8L197.3 408.4Z" fill="#800000" stroke="#5c0000"/>
<path d="M200.1 403.1L202.7 401.8L202.7 405.1L200.1 406.5Z" fill="#800000" stroke="#5c0000"/>
<path d="M197.3 401.7L200.1 403.1L200.1 406.5L197.3 405.0Z" fill="#800000" stroke="#5c0000"/>
<path d="M197.3 398.3L200.1 399.8L200.1 403.1L197.3 401.7Z" fill="#800000" stroke="#5c0000"/>
<path d="M197.3 395.0L200.1 396.4L202.7 395.1L199.9 393.7Z" fill="#800000" stroke="#5c0000"/>
<path d="M197.3 395.0L200.1 396.4L200.1 399.8L197.3 398.3Z" fill="#800000" stroke="#5c0000"/>
<path d="M216.1 394.5L218.7 393.2L218.7 396.5L216.1 397.8Z" fill="#800000" stroke="#5c0000"/>
<path d="M213.3 389.7L216.1 391.2L218.7 389.8L215.9 388.4Z" fill="#800000" stroke="#5c0000"/>
<path d="M216.1 391.2L218.7 389.8L218.7 393.2L216.1 394.5Z" fill="#800000" stroke="#5c0000"/>
<path d="M213.4 395.8L216.1 394.5L216.1 397.8L213.4 399.2Z" fill="#800000" stroke="#5c0000"/>
<path d="M210.6 391.1L213.4 392.5L216.1 391.2L213.3 389.7Z" fill="#800000" stroke="#5c0000"/>
<path d="M213.4 392.5L216.1 391.2L216.1 394.5L213.4 395.8Z" fill="#800000" stroke="#5c0000"/>
<path d="M210.8 397.2L213.4 395.8L213.4 399.2L210.8 400.5Z" fill="#800000" stroke="#5c0000"/>
<path d="M208.0 392.4L210.8 393.8L213.4 392.5L210.6 391.1Z" fill="#800000" stroke="#5c0000"/>
<path d="M210.8 393.8L213.4 392.5L213.4 395.8L210.8 397.2Z" fill="#800000" stroke="#5c0000"/>
<path d="M208.1 398.5L210.8 397.2L210.8 400.5L208.1 401.9Z" fill="#800000" stroke="#5c0000"/>
<path d="M205.4 393.7L208.1 395.2L210.8 393.8L208.0 392.4Z" fill="#800000" stroke="#5c0000"/>
<path d="M208.1 395.2L210.8 393.8L210.8 397.2L208.1 398.5Z" fill="#800000" stroke="#5c0000"/>
<path d="M205.5 399.8L208.1 398.5L208.1 401.9L205.5 403.2Z" fill="#800000" stroke="#5c0000"/>
<path d="M202.7 395.1L205.5 396.5L208.1 395.2L205.4 393.7Z" fill="#800000" stroke="#5c0000"/>
<path d="M205.5 396.5L208.1 395.2L208.1 398.5L205.5 399.8Z" fill="#800000" stroke="#5c0000"/>
<path d="M202.8 401.2L205.5 399.8L205.5 403.2L202.8 404.5Z" fill="#800000" stroke="#5c0000"/>
<path d="M200.1 399.8L202.8 401.2L202.8 404.5L200.1 403.1Z" fill="#800000" stroke="#5c0000"/>
<path d="M200.1 396.4L202.8 397.8L205.5 396.5L202.7 395.1Z" fill="#800000" stroke="#5c0000"/>
<path d="M202.8 397.8L205.5 396.5L205.5 399.8L202.8 401.2Z" fill="#800000" stroke="#5c0000"/>
<path d="M200.1 396.4L202.8 397.8L202.8 401.2L200.1 399.8Z" fill="#800000" stroke="#5c0000"/>
</g>
<text x="139.4" y="380.5" font-size="5.85" text-anchor="end">0</text>
<path d="M142.7 378.6h-1.2" stroke="#555" stroke-width="0.35"/>
<text x="139.4" y="393.7" font-size="5.85" text-anchor="end">0.4</text>
<path d="M142.7 391.8h-1.2" stroke="#555" stroke-width="0.35"/>
<text x="139.4" y="407.0" font-size="5.85" text-anchor="end">0.8</text>
<path d="M142.7 405.1h-1.2" stroke="#555" stroke-width="0.35"/>
<text x="139.4" y="420.2" font-size="5.85" text-anchor="end">1.2</text>
<path d="M142.7 418.3h-1.2" stroke="#555" stroke-width="0.35"/>
<text x="139.4" y="430.5" font-size="5.85" text-anchor="end">1.6</text>
<path d="M142.7 431.6h-1.2" stroke="#555" stroke-width="0.35"/>
<text x="139.3" y="440.4" font-size="5.85" text-anchor="end">0</text>
<text x="152.6" y="446.0" font-size="5.85" text-anchor="end">0.74</text>
<text x="165.2" y="452.4" font-size="5.85" text-anchor="end">1.49</text>
<text x="177.7" y="458.8" font-size="5.85" text-anchor="end">2.23</text>
<text x="190.2" y="465.2" font-size="5.85" text-anchor="end">2.98</text>
<text x="196.2" y="465.5" font-size="5.85" text-anchor="start">0</text>
<text x="217.4" y="454.8" font-size="5.85" text-anchor="start">1.25</text>
<text x="238.5" y="444.1" font-size="5.85" text-anchor="start">2.51</text>
<text x="259.7" y="433.4" font-size="5.85" text-anchor="start">3.76</text>
<text x="278.1" y="423.0" font-size="5.85" text-anchor="start">5.02</text>
<text x="152.2" y="467.1" font-size="6.5" text-anchor="middle">X/(km)</text>
<text x="243.5" y="461.7" font-size="6.5" text-anchor="middle">Y/(km)</text>
<text x="128.9" y="404.2" font-size="6.5" text-anchor="middle" transform="rotate(-90 128.9 404.2)">Z/(km)</text>
<rect x="296.1" y="335.50" width="5.2" height="122.40" fill="#800000"/>
<rect x="296.1" y="339.32" width="5.2" height="118.57" fill="#a00000"/>
<rect x="296.1" y="343.15" width="5.2" height="114.75" fill="#c10000"/>
<rect x="296.1" y="346.98" width="5.2" height="110.92" fill="#e20000"/>
<rect x="296.1" y="350.80" width="5.2" height="107.10" fill="#ff0400"/>
<rect x="296.1" y="354.62" width="5.2" height="103.27" fill="#ff2500"/>
<rect x="296.1" y="358.45" width="5.2" height="99.45" fill="#ff4600"/>
<rect x="296.1" y="362.27" width="5.2" height="95.62" fill="#ff6700"/>
<rect x="296.1" y="366.10" width="5.2" height="91.80" fill="#ff8800"/>
<rect x="296.1" y="369.93" width="5.2" height="87.97" fill="#ffa900"/>
<rect x="296.1" y="373.75" width="5.2" height="84.15" fill="#ffca00"/>
<rect x="296.1" y="377.57" width="5.2" height="80.32" fill="#ffea00"/>
<rect x="296.1" y="381.40" width="5.2" height="76.50" fill="#f3ff0c"/>
<rect x="296.1" y="385.23" width="5.2" height="72.67" fill="#d2ff2d"/>
<rect x="296.1" y="389.05" width="5.2" height="68.85" fill="#b1ff4e"/>
<rect x="296.1" y="392.88" width="5.2" height="65.02" fill="#90ff6f"/>
<rect x="296.1" y="396.70" width="5.2" height="61.20" fill="#6fff90"/>
<rect x="296.1" y="400.52" width="5.2" height="57.38" fill="#4effb1"/>
<rect x="296.1" y="404.35" width="5.2" height="53.55" fill="#2dffd2"/>
<rect x="296.1" y="408.17" width="5.2" height="49.73" fill="#0cfff3"/>
<rect x="296.1" y="412.00" width="5.2" height="45.90" fill="#00eaff"/>
<rect x="296.1" y="415.82" width="5.2" height="42.07" fill="#00caff"/>
<rect x="296.1" y="419.65" width="5.2" height="38.25" fill="#00a9ff"/>
<rect x="296.1" y="423.47" width="5.2" height="34.43" fill="#0088ff"/>
<rect x="296.1" y="427.30" width="5.2" height="30.60" fill="#0067ff"/>
<rect x="296.1" y="431.12" width="5.2" height="26.77" fill="#0046ff"/>
<rect x="296.1" y="434.95" width="5.2" height="22.95" fill="#0025ff"/>
<rect x="296.1" y="438.77" width="5.2" height="19.12" fill="#0004ff"/>
<rect x="296.1" y="442.60" width="5.2" height="15.30" fill="#0000e2"/>
<rect x="296.1" y="446.42" width="5.2" height="11.48" fill="#0000c1"/>
<rect x="296.1" y="450.25" width="5.2" height="7.65" fill="#0000a0"/>
<rect x="296.1" y="454.07" width="5.2" height="3.82" fill="#000080"/>
<text x="302.9" y="338.1" font-size="5.6" text-anchor="start">0.1</text>
<text x="302.9" y="362.3" font-size="5.6" text-anchor="start">0.08</text>
<text x="302.9" y="386.7" font-size="5.6" text-anchor="start">0.06</text>
<text x="302.9" y="411.2" font-size="5.6" text-anchor="start">0.04</text>
<text x="302.9" y="435.6" font-size="5.6" text-anchor="start">0.02</text>
<text x="302.9" y="460.0" font-size="5.6" text-anchor="start">0</text>
<text x="298.7" y="332.9" font-size="5.6" text-anchor="middle">SI</text>
</svg>
</body></html>
